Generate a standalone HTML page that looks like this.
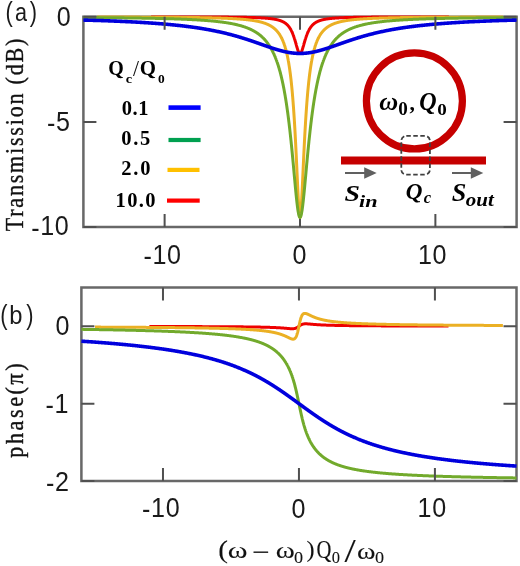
<!DOCTYPE html>
<html><head><meta charset="utf-8"><style>
html,body{margin:0;padding:0;background:#fff;width:520px;height:566px;overflow:hidden}
svg{display:block}
</style></head><body>
<svg width="520" height="566" viewBox="0 0 520 566">
<rect width="520" height="566" fill="#fff"/>
<path d="M83.4,16.8 V227.0 H516.6 V16.8 Z" fill="none" stroke="#686868" stroke-width="2.5"/>
<path d="M81.4,287.6 V481.0 H516.5 V287.6 Z" fill="none" stroke="#686868" stroke-width="2.5"/>
<path d="M300.00,227.0 v-13" fill="none" stroke="#505050" stroke-width="2.0"/>
<g fill="none" stroke-width="3" stroke-linejoin="round">
<polyline stroke="#EE0000" stroke-width="3.0" points="151.09,16.88 151.46,16.88 151.83,16.88 152.20,16.88 152.58,16.88 152.95,16.88 153.32,16.88 153.69,16.88 154.07,16.88 154.44,16.88 154.81,16.88 155.18,16.88 155.55,16.88 155.93,16.88 156.30,16.88 156.67,16.88 157.04,16.88 157.42,16.88 157.79,16.88 158.16,16.88 158.53,16.88 158.91,16.88 159.28,16.88 159.65,16.88 160.02,16.89 160.39,16.89 160.77,16.89 161.14,16.89 161.51,16.89 161.88,16.89 162.26,16.89 162.63,16.89 163.00,16.89 163.37,16.89 163.75,16.89 164.12,16.89 164.49,16.89 164.86,16.89 165.23,16.89 165.61,16.89 165.98,16.89 166.35,16.89 166.72,16.89 167.10,16.89 167.47,16.89 167.84,16.90 168.21,16.90 168.58,16.90 168.96,16.90 169.33,16.90 169.70,16.90 170.07,16.90 170.45,16.90 170.82,16.90 171.19,16.90 171.56,16.90 171.94,16.90 172.31,16.90 172.68,16.90 173.05,16.90 173.42,16.90 173.80,16.90 174.17,16.91 174.54,16.91 174.91,16.91 175.29,16.91 175.66,16.91 176.03,16.91 176.40,16.91 176.77,16.91 177.15,16.91 177.52,16.91 177.89,16.91 178.26,16.91 178.64,16.91 179.01,16.91 179.38,16.91 179.75,16.92 180.13,16.92 180.50,16.92 180.87,16.92 181.24,16.92 181.61,16.92 181.99,16.92 182.36,16.92 182.73,16.92 183.10,16.92 183.48,16.92 183.85,16.92 184.22,16.92 184.59,16.93 184.97,16.93 185.34,16.93 185.71,16.93 186.08,16.93 186.45,16.93 186.83,16.93 187.20,16.93 187.57,16.93 187.94,16.93 188.32,16.93 188.69,16.93 189.06,16.94 189.43,16.94 189.80,16.94 190.18,16.94 190.55,16.94 190.92,16.94 191.29,16.94 191.67,16.94 192.04,16.94 192.41,16.94 192.78,16.94 193.16,16.95 193.53,16.95 193.90,16.95 194.27,16.95 194.64,16.95 195.02,16.95 195.39,16.95 195.76,16.95 196.13,16.95 196.51,16.96 196.88,16.96 197.25,16.96 197.62,16.96 197.99,16.96 198.37,16.96 198.74,16.96 199.11,16.96 199.48,16.96 199.86,16.97 200.23,16.97 200.60,16.97 200.97,16.97 201.35,16.97 201.72,16.97 202.09,16.97 202.46,16.98 202.83,16.98 203.21,16.98 203.58,16.98 203.95,16.98 204.32,16.98 204.70,16.98 205.07,16.98 205.44,16.99 205.81,16.99 206.19,16.99 206.56,16.99 206.93,16.99 207.30,16.99 207.67,17.00 208.05,17.00 208.42,17.00 208.79,17.00 209.16,17.00 209.54,17.00 209.91,17.00 210.28,17.01 210.65,17.01 211.02,17.01 211.40,17.01 211.77,17.01 212.14,17.02 212.51,17.02 212.89,17.02 213.26,17.02 213.63,17.02 214.00,17.02 214.38,17.03 214.75,17.03 215.12,17.03 215.49,17.03 215.86,17.03 216.24,17.04 216.61,17.04 216.98,17.04 217.35,17.04 217.73,17.05 218.10,17.05 218.47,17.05 218.84,17.05 219.21,17.05 219.59,17.06 219.96,17.06 220.33,17.06 220.70,17.06 221.08,17.07 221.45,17.07 221.82,17.07 222.19,17.07 222.57,17.08 222.94,17.08 223.31,17.08 223.68,17.08 224.05,17.09 224.43,17.09 224.80,17.09 225.17,17.10 225.54,17.10 225.92,17.10 226.29,17.11 226.66,17.11 227.03,17.11 227.41,17.11 227.78,17.12 228.15,17.12 228.52,17.12 228.89,17.13 229.27,17.13 229.64,17.13 230.01,17.14 230.38,17.14 230.76,17.15 231.13,17.15 231.50,17.15 231.87,17.16 232.24,17.16 232.62,17.16 232.99,17.17 233.36,17.17 233.73,17.18 234.11,17.18 234.48,17.19 234.85,17.19 235.22,17.19 235.60,17.20 235.97,17.20 236.34,17.21 236.71,17.21 237.08,17.22 237.46,17.22 237.83,17.23 238.20,17.23 238.57,17.24 238.95,17.24 239.32,17.25 239.69,17.25 240.06,17.26 240.44,17.27 240.81,17.27 241.18,17.28 241.55,17.28 241.92,17.29 242.30,17.30 242.67,17.30 243.04,17.31 243.41,17.32 243.79,17.32 244.16,17.33 244.53,17.34 244.90,17.34 245.27,17.35 245.65,17.36 245.85,17.36 245.99,17.36 246.02,17.37 246.12,17.37 246.26,17.37 246.39,17.37 246.53,17.38 246.66,17.38 246.76,17.38 246.80,17.38 246.93,17.38 247.07,17.39 247.14,17.39 247.20,17.39 247.34,17.39 247.47,17.40 247.51,17.40 247.61,17.40 247.75,17.40 247.88,17.41 247.88,17.41 248.02,17.41 248.15,17.41 248.25,17.41 248.29,17.41 248.42,17.42 248.56,17.42 248.63,17.42 248.69,17.42 248.83,17.43 248.96,17.43 249.00,17.43 249.10,17.43 249.23,17.44 249.37,17.44 249.51,17.44 249.64,17.45 249.74,17.45 249.78,17.45 249.91,17.45 250.05,17.46 250.11,17.46 250.18,17.46 250.32,17.47 250.45,17.47 250.49,17.47 250.59,17.47 250.72,17.48 250.86,17.48 250.99,17.48 251.13,17.49 251.23,17.49 251.27,17.49 251.40,17.49 251.54,17.50 251.60,17.50 251.67,17.50 251.81,17.51 251.94,17.51 251.98,17.51 252.08,17.51 252.21,17.52 252.35,17.52 252.35,17.52 252.48,17.53 252.62,17.53 252.72,17.53 252.75,17.53 252.89,17.54 253.02,17.54 253.09,17.54 253.16,17.55 253.30,17.55 253.43,17.56 253.46,17.56 253.57,17.56 253.70,17.56 253.84,17.57 253.97,17.57 254.11,17.58 254.21,17.58 254.24,17.58 254.38,17.59 254.51,17.59 254.58,17.59 254.65,17.60 254.78,17.60 254.92,17.60 254.95,17.61 255.06,17.61 255.19,17.61 255.33,17.62 255.46,17.62 255.60,17.63 255.70,17.63 255.73,17.63 255.87,17.64 256.00,17.64 256.07,17.65 256.14,17.65 256.27,17.65 256.41,17.66 256.44,17.66 256.54,17.66 256.68,17.67 256.82,17.68 256.82,17.68 256.95,17.68 257.09,17.69 257.19,17.69 257.22,17.69 257.36,17.70 257.49,17.70 257.56,17.71 257.63,17.71 257.76,17.71 257.90,17.72 257.93,17.72 258.03,17.73 258.17,17.73 258.30,17.74 258.44,17.74 258.58,17.75 258.68,17.75 258.71,17.76 258.85,17.76 258.98,17.77 259.05,17.77 259.12,17.77 259.25,17.78 259.39,17.79 259.42,17.79 259.52,17.79 259.66,17.80 259.79,17.81 259.79,17.81 259.93,17.81 260.06,17.82 260.17,17.82 260.20,17.83 260.34,17.83 260.47,17.84 260.54,17.84 260.61,17.85 260.74,17.85 260.88,17.86 260.91,17.86 261.01,17.87 261.15,17.88 261.28,17.88 261.28,17.88 261.42,17.89 261.55,17.90 261.66,17.90 261.69,17.91 261.82,17.91 261.96,17.92 262.03,17.92 262.10,17.93 262.23,17.94 262.37,17.94 262.40,17.95 262.50,17.95 262.64,17.96 262.77,17.97 262.91,17.98 263.04,17.98 263.14,17.99 263.18,17.99 263.31,18.00 263.45,18.01 263.52,18.01 263.58,18.02 263.72,18.03 263.85,18.04 263.89,18.04 263.99,18.05 264.13,18.05 264.26,18.06 264.26,18.06 264.40,18.07 264.53,18.08 264.63,18.09 264.67,18.09 264.80,18.10 264.94,18.11 265.01,18.12 265.07,18.12 265.21,18.13 265.34,18.14 265.38,18.14 265.48,18.15 265.61,18.16 265.75,18.17 265.75,18.17 265.89,18.18 266.02,18.19 266.12,18.20 266.16,18.20 266.29,18.21 266.43,18.23 266.49,18.23 266.56,18.24 266.70,18.25 266.83,18.26 266.87,18.26 266.97,18.27 267.10,18.28 267.24,18.29 267.37,18.31 267.51,18.32 267.61,18.33 267.65,18.33 267.78,18.34 267.92,18.36 267.98,18.36 268.05,18.37 268.19,18.38 268.32,18.39 268.36,18.40 268.46,18.41 268.59,18.42 268.73,18.43 268.73,18.43 268.86,18.45 269.00,18.46 269.10,18.47 269.13,18.47 269.27,18.49 269.41,18.50 269.47,18.51 269.54,18.52 269.68,18.53 269.81,18.55 269.85,18.55 269.95,18.56 270.08,18.58 270.22,18.59 270.22,18.59 270.35,18.61 270.49,18.62 270.59,18.64 270.62,18.64 270.76,18.66 270.89,18.67 270.96,18.68 271.03,18.69 271.17,18.71 271.30,18.72 271.33,18.73 271.44,18.74 271.57,18.76 271.71,18.78 271.84,18.79 271.98,18.81 272.08,18.83 272.11,18.83 272.25,18.85 272.38,18.87 272.45,18.88 272.52,18.89 272.65,18.91 272.79,18.93 272.82,18.93 272.93,18.95 273.06,18.97 273.20,18.99 273.20,18.99 273.33,19.01 273.47,19.03 273.57,19.05 273.60,19.05 273.74,19.07 273.87,19.10 273.94,19.11 274.01,19.12 274.14,19.14 274.28,19.16 274.31,19.17 274.41,19.19 274.55,19.21 274.68,19.23 274.68,19.23 274.82,19.26 274.96,19.28 275.06,19.30 275.09,19.31 275.23,19.33 275.36,19.36 275.43,19.37 275.50,19.39 275.63,19.41 275.77,19.44 275.80,19.45 275.90,19.47 276.04,19.50 276.17,19.53 276.31,19.55 276.44,19.58 276.55,19.61 276.58,19.61 276.72,19.64 276.85,19.67 276.92,19.69 276.99,19.71 277.12,19.74 277.26,19.77 277.29,19.78 277.39,19.80 277.53,19.84 277.66,19.87 277.66,19.87 277.80,19.90 277.93,19.94 278.04,19.96 278.07,19.97 278.20,20.01 278.34,20.05 278.41,20.06 278.48,20.08 278.61,20.12 278.75,20.16 278.78,20.17 278.88,20.20 279.02,20.24 279.15,20.28 279.15,20.28 279.29,20.32 279.42,20.36 279.52,20.39 279.56,20.41 279.69,20.45 279.83,20.49 279.90,20.51 279.96,20.54 280.10,20.58 280.24,20.63 280.27,20.64 280.37,20.68 280.51,20.73 280.64,20.77 280.64,20.77 280.78,20.82 280.91,20.87 281.01,20.91 281.05,20.93 281.18,20.98 281.32,21.03 281.39,21.06 281.45,21.09 281.59,21.14 281.72,21.20 281.76,21.21 281.86,21.26 282.00,21.32 282.13,21.38 282.13,21.38 282.27,21.44 282.40,21.50 282.50,21.55 282.54,21.56 282.67,21.63 282.81,21.69 282.88,21.73 282.94,21.76 283.08,21.83 283.21,21.90 283.25,21.92 283.35,21.97 283.48,22.05 283.62,22.12 283.62,22.12 283.75,22.20 283.89,22.27 283.99,22.33 284.03,22.35 284.16,22.43 284.30,22.51 284.36,22.56 284.43,22.60 284.57,22.68 284.70,22.77 284.74,22.79 284.84,22.86 284.97,22.95 285.11,23.04 285.11,23.04 285.24,23.14 285.38,23.24 285.48,23.31 285.51,23.34 285.65,23.44 285.79,23.54 285.85,23.59 285.92,23.65 286.06,23.75 286.19,23.86 286.23,23.89 286.33,23.98 286.46,24.09 286.60,24.21 286.60,24.21 286.73,24.33 286.87,24.45 286.97,24.55 287.00,24.58 287.14,24.71 287.27,24.84 287.34,24.91 287.41,24.98 287.55,25.11 287.68,25.25 287.71,25.29 287.82,25.40 287.95,25.55 288.09,25.70 288.09,25.70 288.22,25.85 288.36,26.01 288.46,26.13 288.49,26.17 288.63,26.34 288.76,26.51 288.83,26.59 288.90,26.68 289.03,26.86 289.17,27.04 289.20,27.09 289.31,27.23 289.44,27.42 289.58,27.61 289.58,27.61 289.71,27.81 289.85,28.02 289.95,28.17 289.98,28.22 290.12,28.44 290.25,28.66 290.32,28.77 290.39,28.88 290.52,29.11 290.66,29.35 290.69,29.41 290.79,29.59 290.93,29.84 291.07,30.09 291.20,30.35 291.34,30.61 291.44,30.82 291.47,30.89 291.61,31.16 291.74,31.45 291.81,31.59 291.88,31.74 292.01,32.03 292.15,32.34 292.18,32.42 292.28,32.65 292.42,32.97 292.55,33.29 292.55,33.29 292.69,33.63 292.83,33.96 292.93,34.22 292.96,34.31 293.10,34.67 293.23,35.03 293.30,35.21 293.37,35.40 293.50,35.77 293.64,36.16 293.67,36.25 293.77,36.55 293.91,36.94 294.04,37.35 294.04,37.35 294.18,37.76 294.31,38.18 294.42,38.50 294.45,38.61 294.59,39.04 294.72,39.48 294.79,39.70 294.86,39.92 294.99,40.37 295.13,40.83 295.16,40.94 295.26,41.29 295.40,41.75 295.53,42.22 295.67,42.69 295.80,43.17 295.90,43.53 295.94,43.65 296.07,44.12 296.21,44.60 296.28,44.84 296.34,45.08 296.48,45.55 296.62,46.03 296.65,46.15 296.75,46.50 296.89,46.96 297.02,47.42 297.02,47.42 297.16,47.88 297.29,48.32 297.39,48.65 297.43,48.75 297.56,49.18 297.70,49.59 297.77,49.79 297.83,49.99 297.97,50.37 298.10,50.74 298.14,50.82 298.24,51.08 298.38,51.41 298.51,51.72 298.51,51.72 298.65,52.01 298.78,52.27 298.88,52.45 298.92,52.51 299.05,52.72 299.19,52.91 299.26,52.99 299.32,53.07 299.46,53.20 299.59,53.30 299.63,53.33 299.73,53.38 299.86,53.42 300.00,53.44 300.14,53.42 300.27,53.38 300.37,53.33 300.41,53.30 300.54,53.20 300.68,53.07 300.74,52.99 300.81,52.91 300.95,52.72 301.08,52.51 301.12,52.45 301.22,52.27 301.35,52.01 301.49,51.72 301.49,51.72 301.62,51.41 301.76,51.08 301.86,50.82 301.90,50.74 302.03,50.37 302.17,49.99 302.23,49.79 302.30,49.59 302.44,49.18 302.57,48.75 302.61,48.65 302.71,48.32 302.84,47.88 302.98,47.42 302.98,47.42 303.11,46.96 303.25,46.50 303.35,46.15 303.38,46.03 303.52,45.55 303.66,45.08 303.72,44.84 303.79,44.60 303.93,44.12 304.06,43.65 304.10,43.53 304.20,43.17 304.33,42.69 304.47,42.22 304.60,41.75 304.74,41.29 304.84,40.94 304.87,40.83 305.01,40.37 305.14,39.92 305.21,39.70 305.28,39.48 305.42,39.04 305.55,38.61 305.58,38.50 305.69,38.18 305.82,37.76 305.96,37.35 305.96,37.35 306.09,36.94 306.23,36.55 306.33,36.25 306.36,36.16 306.50,35.77 306.63,35.40 306.70,35.21 306.77,35.03 306.90,34.67 307.04,34.31 307.07,34.22 307.17,33.96 307.31,33.63 307.45,33.29 307.45,33.29 307.58,32.97 307.72,32.65 307.82,32.42 307.85,32.34 307.99,32.03 308.12,31.74 308.19,31.59 308.26,31.45 308.39,31.16 308.53,30.89 308.56,30.82 308.66,30.61 308.80,30.35 308.93,30.09 309.07,29.84 309.21,29.59 309.31,29.41 309.34,29.35 309.48,29.11 309.61,28.88 309.68,28.77 309.75,28.66 309.88,28.44 310.02,28.22 310.05,28.17 310.15,28.02 310.29,27.81 310.42,27.61 310.42,27.61 310.56,27.42 310.69,27.23 310.80,27.09 310.83,27.04 310.97,26.86 311.10,26.68 311.17,26.59 311.24,26.51 311.37,26.34 311.51,26.17 311.54,26.13 311.64,26.01 311.78,25.85 311.91,25.70 311.91,25.70 312.05,25.55 312.18,25.40 312.29,25.29 312.32,25.25 312.45,25.11 312.59,24.98 312.66,24.91 312.73,24.84 312.86,24.71 313.00,24.58 313.03,24.55 313.13,24.45 313.27,24.33 313.40,24.21 313.54,24.09 313.67,23.98 313.77,23.89 313.81,23.86 313.94,23.75 314.08,23.65 314.15,23.59 314.21,23.54 314.35,23.44 314.49,23.34 314.52,23.31 314.62,23.24 314.76,23.14 314.89,23.04 314.89,23.04 315.03,22.95 315.16,22.86 315.26,22.79 315.30,22.77 315.43,22.68 315.57,22.60 315.64,22.56 315.70,22.51 315.84,22.43 315.97,22.35 316.01,22.33 316.11,22.27 316.25,22.20 316.38,22.12 316.38,22.12 316.52,22.05 316.65,21.97 316.75,21.92 316.79,21.90 316.92,21.83 317.06,21.76 317.12,21.73 317.19,21.69 317.33,21.63 317.46,21.56 317.50,21.55 317.60,21.50 317.73,21.44 317.87,21.38 318.00,21.32 318.14,21.26 318.24,21.21 318.28,21.20 318.41,21.14 318.55,21.09 318.61,21.06 318.68,21.03 318.82,20.98 318.95,20.93 318.99,20.91 319.09,20.87 319.22,20.82 319.36,20.77 319.49,20.73 319.63,20.68 319.73,20.64 319.76,20.63 319.90,20.58 320.04,20.54 320.10,20.51 320.17,20.49 320.31,20.45 320.44,20.41 320.48,20.39 320.58,20.36 320.71,20.32 320.85,20.28 320.85,20.28 320.98,20.24 321.12,20.20 321.22,20.17 321.25,20.16 321.39,20.12 321.52,20.08 321.59,20.06 321.66,20.05 321.80,20.01 321.93,19.97 321.96,19.96 322.07,19.94 322.20,19.90 322.34,19.87 322.47,19.84 322.61,19.80 322.71,19.78 322.74,19.77 322.88,19.74 323.01,19.71 323.08,19.69 323.15,19.67 323.28,19.64 323.42,19.61 323.45,19.61 323.56,19.58 323.69,19.55 323.83,19.53 323.96,19.50 324.10,19.47 324.20,19.45 324.23,19.44 324.37,19.41 324.50,19.39 324.57,19.37 324.64,19.36 324.77,19.33 324.91,19.31 324.94,19.30 325.04,19.28 325.18,19.26 325.32,19.23 325.32,19.23 325.45,19.21 325.59,19.19 325.69,19.17 325.72,19.16 325.86,19.14 325.99,19.12 326.06,19.11 326.13,19.10 326.26,19.07 326.40,19.05 326.43,19.05 326.53,19.03 326.67,19.01 326.80,18.99 326.94,18.97 327.08,18.95 327.18,18.93 327.21,18.93 327.35,18.91 327.48,18.89 327.55,18.88 327.62,18.87 327.75,18.85 327.89,18.83 327.92,18.83 328.02,18.81 328.16,18.79 328.29,18.78 328.43,18.76 328.56,18.74 328.67,18.73 328.70,18.72 328.83,18.71 328.97,18.69 329.04,18.68 329.11,18.67 329.24,18.66 329.38,18.64 329.41,18.64 329.51,18.62 329.65,18.61 329.78,18.59 329.78,18.59 329.92,18.58 330.05,18.56 330.15,18.55 330.19,18.55 330.32,18.53 330.46,18.52 330.53,18.51 330.59,18.50 330.73,18.49 330.87,18.47 330.90,18.47 331.00,18.46 331.14,18.45 331.27,18.43 331.41,18.42 331.54,18.41 331.64,18.40 331.68,18.39 331.81,18.38 331.95,18.37 332.02,18.36 332.08,18.36 332.22,18.34 332.35,18.33 332.39,18.33 332.49,18.32 332.63,18.31 332.76,18.29 332.90,18.28 333.03,18.27 333.13,18.26 333.17,18.26 333.30,18.25 333.44,18.24 333.51,18.23 333.57,18.23 333.71,18.21 333.84,18.20 333.88,18.20 333.98,18.19 334.11,18.18 334.25,18.17 334.25,18.17 334.39,18.16 334.52,18.15 334.62,18.14 334.66,18.14 334.79,18.13 334.93,18.12 334.99,18.12 335.06,18.11 335.20,18.10 335.33,18.09 335.37,18.09 335.47,18.08 335.60,18.07 335.74,18.06 335.87,18.05 336.01,18.05 336.11,18.04 336.15,18.04 336.28,18.03 336.42,18.02 336.48,18.01 336.55,18.01 336.69,18.00 336.82,17.99 336.86,17.99 336.96,17.98 337.09,17.98 337.23,17.97 337.36,17.96 337.50,17.95 337.60,17.95 337.63,17.94 337.77,17.94 337.91,17.93 337.97,17.92 338.04,17.92 338.18,17.91 338.31,17.91 338.34,17.90 338.45,17.90 338.58,17.89 338.72,17.88 338.72,17.88 338.85,17.88 338.99,17.87 339.09,17.86 339.12,17.86 339.26,17.85 339.39,17.85 339.46,17.84 339.53,17.84 339.66,17.83 339.80,17.83 339.83,17.82 339.94,17.82 340.07,17.81 340.21,17.81 340.21,17.81 340.34,17.80 340.48,17.79 340.58,17.79 340.61,17.79 340.75,17.78 340.88,17.77 340.95,17.77 341.02,17.77 341.15,17.76 341.29,17.76 341.32,17.75 341.42,17.75 341.56,17.74 341.70,17.74 341.83,17.73 341.97,17.73 342.07,17.72 342.10,17.72 342.24,17.71 342.37,17.71 342.44,17.71 342.51,17.70 342.64,17.70 342.78,17.69 342.81,17.69 342.91,17.69 343.05,17.68 343.18,17.68 343.18,17.68 343.32,17.67 343.46,17.66 343.56,17.66 343.59,17.66 343.73,17.65 343.86,17.65 343.93,17.65 344.00,17.64 344.13,17.64 344.27,17.63 344.30,17.63 344.40,17.63 344.54,17.62 344.67,17.62 344.67,17.62 344.81,17.61 344.94,17.61 345.05,17.61 345.08,17.60 345.22,17.60 345.35,17.60 345.42,17.59 345.49,17.59 345.62,17.59 345.76,17.58 345.79,17.58 345.89,17.58 346.03,17.57 346.16,17.57 346.30,17.56 346.43,17.56 346.54,17.56 346.57,17.56 346.70,17.55 346.84,17.55 346.91,17.54 346.98,17.54 347.11,17.54 347.25,17.53 347.28,17.53 347.38,17.53 347.52,17.53 347.65,17.52 347.65,17.52 347.79,17.52 347.92,17.51 348.02,17.51 348.06,17.51 348.19,17.51 348.33,17.50 348.40,17.50 348.46,17.50 348.60,17.49 348.74,17.49 348.77,17.49 348.87,17.49 349.01,17.48 349.14,17.48 349.14,17.48 349.28,17.48 349.41,17.47 349.51,17.47 349.55,17.47 349.68,17.47 349.82,17.46 349.89,17.46 349.95,17.46 350.09,17.45 350.22,17.45 350.26,17.45 350.36,17.45 350.49,17.44 350.63,17.44 350.77,17.44 350.90,17.43 351.00,17.43 351.04,17.43 351.17,17.43 351.31,17.42 351.37,17.42 351.44,17.42 351.58,17.42 351.71,17.41 351.75,17.41 351.85,17.41 351.98,17.41 352.12,17.41 352.12,17.41 352.25,17.40 352.39,17.40 352.49,17.40 352.53,17.40 352.66,17.39 352.80,17.39 352.86,17.39 352.93,17.39 353.07,17.38 353.20,17.38 353.24,17.38 353.34,17.38 353.47,17.38 353.61,17.37 353.61,17.37 353.74,17.37 353.88,17.37 353.98,17.37 354.01,17.36 354.15,17.36 354.35,17.36 354.73,17.35 355.10,17.34 355.47,17.34 355.84,17.33 356.21,17.32 356.59,17.32 356.96,17.31 357.33,17.30 357.70,17.30 358.08,17.29 358.45,17.28 358.82,17.28 359.19,17.27 359.57,17.27 359.94,17.26 360.31,17.25 360.68,17.25 361.05,17.24 361.43,17.24 361.80,17.23 362.17,17.23 362.54,17.22 362.92,17.22 363.29,17.21 363.66,17.21 364.03,17.20 364.40,17.20 364.78,17.19 365.15,17.19 365.52,17.19 365.89,17.18 366.27,17.18 366.64,17.17 367.01,17.17 367.38,17.16 367.76,17.16 368.13,17.16 368.50,17.15 368.87,17.15 369.24,17.15 369.62,17.14 369.99,17.14 370.36,17.13 370.73,17.13 371.11,17.13 371.48,17.12 371.85,17.12 372.22,17.12 372.59,17.11 372.97,17.11 373.34,17.11 373.71,17.11 374.08,17.10 374.46,17.10 374.83,17.10 375.20,17.09 375.57,17.09 375.95,17.09 376.32,17.08 376.69,17.08 377.06,17.08 377.43,17.08 377.81,17.07 378.18,17.07 378.55,17.07 378.92,17.07 379.30,17.06 379.67,17.06 380.04,17.06 380.41,17.06 380.79,17.05 381.16,17.05 381.53,17.05 381.90,17.05 382.27,17.05 382.65,17.04 383.02,17.04 383.39,17.04 383.76,17.04 384.14,17.03 384.51,17.03 384.88,17.03 385.25,17.03 385.62,17.03 386.00,17.02 386.37,17.02 386.74,17.02 387.11,17.02 387.49,17.02 387.86,17.02 388.23,17.01 388.60,17.01 388.98,17.01 389.35,17.01 389.72,17.01 390.09,17.00 390.46,17.00 390.84,17.00 391.21,17.00 391.58,17.00 391.95,17.00 392.33,17.00 392.70,16.99 393.07,16.99 393.44,16.99 393.81,16.99 394.19,16.99 394.56,16.99 394.93,16.98 395.30,16.98 395.68,16.98 396.05,16.98 396.42,16.98 396.79,16.98 397.17,16.98 397.54,16.98 397.91,16.97 398.28,16.97 398.65,16.97 399.03,16.97 399.40,16.97 399.77,16.97 400.14,16.97 400.52,16.96 400.89,16.96 401.26,16.96 401.63,16.96 402.01,16.96 402.38,16.96 402.75,16.96 403.12,16.96 403.49,16.96 403.87,16.95 404.24,16.95 404.61,16.95 404.98,16.95 405.36,16.95 405.73,16.95 406.10,16.95 406.47,16.95 406.84,16.95 407.22,16.94 407.59,16.94 407.96,16.94 408.33,16.94 408.71,16.94 409.08,16.94 409.45,16.94 409.82,16.94 410.20,16.94 410.57,16.94 410.94,16.94 411.31,16.93 411.68,16.93 412.06,16.93 412.43,16.93 412.80,16.93 413.17,16.93 413.55,16.93 413.92,16.93 414.29,16.93 414.66,16.93 415.03,16.93 415.41,16.93 415.78,16.92 416.15,16.92 416.52,16.92 416.90,16.92 417.27,16.92 417.64,16.92 418.01,16.92 418.39,16.92 418.76,16.92 419.13,16.92 419.50,16.92 419.87,16.92 420.25,16.92 420.62,16.91 420.99,16.91 421.36,16.91 421.74,16.91 422.11,16.91 422.48,16.91 422.85,16.91 423.23,16.91 423.60,16.91 423.97,16.91 424.34,16.91 424.71,16.91 425.09,16.91 425.46,16.91 425.83,16.91 426.20,16.90 426.58,16.90 426.95,16.90 427.32,16.90 427.69,16.90 428.06,16.90 428.44,16.90 428.81,16.90 429.18,16.90 429.55,16.90 429.93,16.90 430.30,16.90 430.67,16.90 431.04,16.90 431.42,16.90 431.79,16.90 432.16,16.90 432.53,16.89 432.90,16.89 433.28,16.89 433.65,16.89 434.02,16.89 434.39,16.89 434.77,16.89 435.14,16.89 435.51,16.89 435.88,16.89 436.25,16.89 436.63,16.89 437.00,16.89 437.37,16.89 437.74,16.89 438.12,16.89 438.49,16.89 438.86,16.89 439.23,16.89 439.61,16.89 439.98,16.89 440.35,16.88 440.72,16.88 441.09,16.88 441.47,16.88 441.84,16.88 442.21,16.88 442.58,16.88 442.96,16.88 443.33,16.88 443.70,16.88 444.07,16.88 444.45,16.88 444.82,16.88 445.19,16.88 445.56,16.88 445.93,16.88 446.31,16.88 446.68,16.88 447.05,16.88 447.42,16.88 447.80,16.88 448.17,16.88 448.54,16.88 448.91,16.88"/>
<polyline stroke="#EBB024" stroke-width="3.0" points="96.94,17.00 97.45,17.00 97.95,17.00 98.46,17.01 98.97,17.01 99.48,17.01 99.98,17.01 100.49,17.01 101.00,17.01 101.51,17.01 102.01,17.01 102.52,17.01 103.03,17.02 103.54,17.02 104.04,17.02 104.55,17.02 105.06,17.02 105.57,17.02 106.08,17.02 106.58,17.02 107.09,17.02 107.60,17.03 108.11,17.03 108.61,17.03 109.12,17.03 109.63,17.03 110.14,17.03 110.64,17.03 111.15,17.03 111.66,17.04 112.17,17.04 112.67,17.04 113.18,17.04 113.69,17.04 114.20,17.04 114.71,17.04 115.21,17.04 115.72,17.05 116.23,17.05 116.74,17.05 117.24,17.05 117.75,17.05 118.26,17.05 118.77,17.05 119.27,17.06 119.78,17.06 120.29,17.06 120.80,17.06 121.31,17.06 121.81,17.06 122.32,17.06 122.83,17.07 123.34,17.07 123.84,17.07 124.35,17.07 124.86,17.07 125.37,17.07 125.87,17.08 126.38,17.08 126.89,17.08 127.40,17.08 127.90,17.08 128.41,17.08 128.92,17.09 129.43,17.09 129.94,17.09 130.44,17.09 130.95,17.09 131.46,17.09 131.97,17.10 132.47,17.10 132.98,17.10 133.49,17.10 134.00,17.10 134.50,17.10 135.01,17.11 135.52,17.11 136.03,17.11 136.53,17.11 137.04,17.11 137.55,17.12 138.06,17.12 138.57,17.12 139.07,17.12 139.58,17.12 140.09,17.13 140.60,17.13 141.10,17.13 141.61,17.13 142.12,17.13 142.63,17.14 143.13,17.14 143.64,17.14 144.15,17.14 144.66,17.15 145.16,17.15 145.67,17.15 146.18,17.15 146.69,17.16 147.20,17.16 147.70,17.16 148.21,17.16 148.72,17.16 149.23,17.17 149.73,17.17 150.24,17.17 150.75,17.17 151.26,17.18 151.76,17.18 152.27,17.18 152.78,17.18 153.29,17.19 153.80,17.19 154.30,17.19 154.81,17.20 155.32,17.20 155.83,17.20 156.33,17.20 156.84,17.21 157.35,17.21 157.86,17.21 158.36,17.22 158.87,17.22 159.38,17.22 159.89,17.22 160.39,17.23 160.90,17.23 161.41,17.23 161.92,17.24 162.43,17.24 162.93,17.24 163.44,17.25 163.95,17.25 164.46,17.25 164.96,17.26 165.47,17.26 165.98,17.26 166.49,17.27 166.99,17.27 167.50,17.27 168.01,17.28 168.52,17.28 169.02,17.29 169.53,17.29 170.04,17.29 170.55,17.30 171.06,17.30 171.56,17.31 172.07,17.31 172.58,17.31 173.09,17.32 173.59,17.32 174.10,17.33 174.61,17.33 175.12,17.33 175.62,17.34 176.13,17.34 176.64,17.35 177.15,17.35 177.65,17.36 178.16,17.36 178.67,17.37 179.18,17.37 179.69,17.38 180.19,17.38 180.70,17.39 181.21,17.39 181.72,17.40 182.22,17.40 182.73,17.41 183.24,17.41 183.75,17.42 184.25,17.42 184.76,17.43 185.27,17.43 185.78,17.44 186.29,17.44 186.79,17.45 187.30,17.46 187.81,17.46 188.32,17.47 188.82,17.47 189.33,17.48 189.84,17.49 190.35,17.49 190.85,17.50 191.36,17.51 191.87,17.51 192.38,17.52 192.88,17.53 193.39,17.53 193.90,17.54 194.41,17.55 194.92,17.55 195.42,17.56 195.93,17.57 196.44,17.58 196.95,17.58 197.45,17.59 197.96,17.60 198.47,17.61 198.98,17.62 199.48,17.62 199.99,17.63 200.50,17.64 201.01,17.65 201.51,17.66 202.02,17.67 202.53,17.68 203.04,17.68 203.55,17.69 204.05,17.70 204.56,17.71 205.07,17.72 205.58,17.73 206.08,17.74 206.59,17.75 207.10,17.76 207.61,17.77 208.11,17.78 208.62,17.79 209.13,17.81 209.64,17.82 210.14,17.83 210.65,17.84 211.16,17.85 211.67,17.86 212.18,17.88 212.68,17.89 213.19,17.90 213.70,17.91 214.21,17.93 214.71,17.94 215.22,17.95 215.73,17.97 216.24,17.98 216.74,18.00 217.25,18.01 217.76,18.03 218.27,18.04 218.78,18.06 219.28,18.07 219.79,18.09 220.30,18.11 220.81,18.12 221.31,18.14 221.82,18.16 222.33,18.17 222.84,18.19 223.34,18.21 223.85,18.23 224.36,18.25 224.87,18.27 225.37,18.29 225.88,18.31 226.39,18.33 226.90,18.35 227.41,18.37 227.91,18.39 228.42,18.41 228.93,18.44 229.44,18.46 229.94,18.48 230.45,18.51 230.96,18.53 231.47,18.56 231.97,18.59 232.48,18.61 232.99,18.64 233.50,18.67 234.00,18.70 234.51,18.72 235.02,18.75 235.53,18.79 236.04,18.82 236.54,18.85 237.05,18.88 237.56,18.91 238.07,18.95 238.57,18.98 239.08,19.02 239.59,19.06 240.10,19.09 240.60,19.13 241.11,19.17 241.62,19.21 242.13,19.26 242.63,19.30 243.14,19.34 243.65,19.39 244.16,19.43 244.67,19.48 245.17,19.53 245.68,19.58 245.85,19.60 245.99,19.61 246.12,19.63 246.19,19.63 246.26,19.64 246.39,19.65 246.53,19.67 246.66,19.68 246.70,19.69 246.80,19.70 246.93,19.71 247.07,19.73 247.20,19.74 247.20,19.74 247.34,19.76 247.47,19.77 247.61,19.79 247.71,19.80 247.75,19.80 247.88,19.82 248.02,19.83 248.15,19.85 248.22,19.85 248.29,19.86 248.42,19.88 248.56,19.89 248.69,19.91 248.73,19.91 248.83,19.93 248.96,19.94 249.10,19.96 249.23,19.98 249.37,19.99 249.51,20.01 249.64,20.03 249.74,20.04 249.78,20.04 249.91,20.06 250.05,20.08 250.18,20.09 250.25,20.10 250.32,20.11 250.45,20.13 250.59,20.15 250.72,20.17 250.76,20.17 250.86,20.18 250.99,20.20 251.13,20.22 251.27,20.24 251.27,20.24 251.40,20.26 251.54,20.28 251.67,20.30 251.77,20.31 251.81,20.32 251.94,20.33 252.08,20.35 252.21,20.37 252.28,20.38 252.35,20.39 252.48,20.41 252.62,20.43 252.75,20.45 252.79,20.46 252.89,20.47 253.02,20.50 253.16,20.52 253.30,20.54 253.30,20.54 253.43,20.56 253.57,20.58 253.70,20.60 253.80,20.62 253.84,20.62 253.97,20.65 254.11,20.67 254.24,20.69 254.31,20.70 254.38,20.71 254.51,20.73 254.65,20.76 254.78,20.78 254.82,20.79 254.92,20.80 255.06,20.83 255.19,20.85 255.33,20.88 255.33,20.88 255.46,20.90 255.60,20.92 255.73,20.95 255.83,20.97 255.87,20.97 256.00,21.00 256.14,21.02 256.27,21.05 256.34,21.06 256.41,21.07 256.54,21.10 256.68,21.13 256.82,21.15 256.85,21.16 256.95,21.18 257.09,21.21 257.22,21.23 257.36,21.26 257.36,21.26 257.49,21.29 257.63,21.32 257.76,21.34 257.86,21.37 257.90,21.37 258.03,21.40 258.17,21.43 258.30,21.46 258.37,21.47 258.44,21.49 258.58,21.52 258.71,21.55 258.85,21.58 258.88,21.59 258.98,21.61 259.12,21.64 259.25,21.67 259.39,21.70 259.52,21.73 259.66,21.77 259.79,21.80 259.90,21.82 259.93,21.83 260.06,21.86 260.20,21.90 260.34,21.93 260.40,21.95 260.47,21.97 260.61,22.00 260.74,22.03 260.88,22.07 260.91,22.08 261.01,22.10 261.15,22.14 261.28,22.18 261.42,22.21 261.55,22.25 261.69,22.29 261.82,22.32 261.93,22.35 261.96,22.36 262.10,22.40 262.23,22.44 262.37,22.48 262.43,22.50 262.50,22.52 262.64,22.56 262.77,22.60 262.91,22.64 262.94,22.65 263.04,22.68 263.18,22.72 263.31,22.76 263.45,22.81 263.45,22.81 263.58,22.85 263.72,22.89 263.85,22.94 263.96,22.97 263.99,22.98 264.13,23.03 264.26,23.07 264.40,23.12 264.46,23.14 264.53,23.16 264.67,23.21 264.80,23.26 264.94,23.30 264.97,23.32 265.07,23.35 265.21,23.40 265.34,23.45 265.48,23.50 265.48,23.50 265.61,23.55 265.75,23.60 265.89,23.65 265.99,23.69 266.02,23.71 266.16,23.76 266.29,23.81 266.43,23.87 266.49,23.89 266.56,23.92 266.70,23.98 266.83,24.03 266.97,24.09 267.00,24.10 267.10,24.15 267.24,24.20 267.37,24.26 267.51,24.32 267.51,24.32 267.65,24.38 267.78,24.44 267.92,24.50 268.02,24.55 268.05,24.56 268.19,24.63 268.32,24.69 268.46,24.76 268.53,24.79 268.59,24.82 268.73,24.89 268.86,24.95 269.00,25.02 269.03,25.04 269.13,25.09 269.27,25.16 269.41,25.23 269.54,25.30 269.68,25.37 269.81,25.44 269.95,25.52 270.05,25.57 270.08,25.59 270.22,25.67 270.35,25.74 270.49,25.82 270.56,25.86 270.62,25.90 270.76,25.98 270.89,26.06 271.03,26.14 271.06,26.16 271.17,26.22 271.30,26.30 271.44,26.39 271.57,26.47 271.71,26.56 271.84,26.65 271.98,26.74 272.08,26.81 272.11,26.83 272.25,26.92 272.38,27.01 272.52,27.11 272.59,27.15 272.65,27.20 272.79,27.30 272.93,27.40 273.06,27.50 273.09,27.52 273.20,27.60 273.33,27.70 273.47,27.80 273.60,27.91 273.60,27.91 273.74,28.01 273.87,28.12 274.01,28.23 274.11,28.31 274.14,28.34 274.28,28.45 274.41,28.57 274.55,28.68 274.62,28.74 274.68,28.80 274.82,28.92 274.96,29.04 275.09,29.16 275.12,29.19 275.23,29.29 275.36,29.41 275.50,29.54 275.63,29.67 275.63,29.67 275.77,29.80 275.90,29.94 276.04,30.07 276.14,30.17 276.17,30.21 276.31,30.35 276.44,30.49 276.58,30.64 276.65,30.71 276.72,30.78 276.85,30.93 276.99,31.08 277.12,31.24 277.16,31.27 277.26,31.39 277.39,31.55 277.53,31.71 277.66,31.87 277.66,31.87 277.80,32.04 277.93,32.21 278.07,32.38 278.17,32.51 278.20,32.55 278.34,32.73 278.48,32.91 278.61,33.09 278.68,33.19 278.75,33.28 278.88,33.47 279.02,33.66 279.15,33.85 279.19,33.90 279.29,34.05 279.42,34.26 279.56,34.46 279.69,34.67 279.83,34.88 279.96,35.10 280.10,35.32 280.20,35.48 280.24,35.54 280.37,35.77 280.51,36.00 280.64,36.24 280.71,36.35 280.78,36.47 280.91,36.72 281.05,36.97 281.18,37.22 281.22,37.28 281.32,37.48 281.45,37.74 281.59,38.01 281.72,38.28 281.72,38.28 281.86,38.55 282.00,38.84 282.13,39.12 282.23,39.34 282.27,39.42 282.40,39.71 282.54,40.02 282.67,40.33 282.74,40.48 282.81,40.64 282.94,40.96 283.08,41.29 283.21,41.62 283.25,41.71 283.35,41.96 283.48,42.31 283.62,42.66 283.75,43.02 283.75,43.02 283.89,43.39 284.03,43.77 284.16,44.15 284.26,44.44 284.30,44.54 284.43,44.94 284.57,45.34 284.70,45.76 284.77,45.97 284.84,46.18 284.97,46.61 285.11,47.05 285.24,47.50 285.28,47.62 285.38,47.96 285.51,48.43 285.65,48.91 285.79,49.40 285.79,49.40 285.92,49.90 286.06,50.41 286.19,50.93 286.29,51.33 286.33,51.46 286.46,52.01 286.60,52.56 286.73,53.13 286.80,53.42 286.87,53.71 287.00,54.30 287.14,54.91 287.27,55.53 287.31,55.69 287.41,56.17 287.55,56.81 287.68,57.48 287.82,58.16 287.82,58.16 287.95,58.85 288.09,59.56 288.22,60.29 288.32,60.84 288.36,61.03 288.49,61.79 288.63,62.57 288.76,63.36 288.83,63.77 288.90,64.18 289.03,65.01 289.17,65.87 289.31,66.74 289.34,66.97 289.44,67.64 289.58,68.56 289.71,69.50 289.85,70.46 289.98,71.44 290.12,72.45 290.25,73.49 290.35,74.28 290.39,74.55 290.52,75.63 290.66,76.75 290.79,77.89 290.86,78.47 290.93,79.05 291.07,80.25 291.20,81.48 291.34,82.73 291.37,83.05 291.47,84.02 291.61,85.34 291.74,86.70 291.88,88.09 291.88,88.09 292.01,89.51 292.15,90.97 292.28,92.46 292.39,93.61 292.42,94.00 292.55,95.57 292.69,97.18 292.83,98.83 292.89,99.67 292.96,100.52 293.10,102.25 293.23,104.03 293.37,105.85 293.40,106.31 293.50,107.71 293.64,109.62 293.77,111.58 293.91,113.58 293.91,113.58 294.04,115.63 294.18,117.73 294.31,119.88 294.42,121.52 294.45,122.07 294.59,124.32 294.72,126.62 294.86,128.96 294.92,130.15 294.99,131.36 295.13,133.81 295.26,136.30 295.40,138.85 295.43,139.49 295.53,141.44 295.67,144.08 295.80,146.77 295.94,149.50 295.94,149.50 296.07,152.27 296.21,155.09 296.34,157.93 296.45,160.09 296.48,160.81 296.62,163.72 296.75,166.66 296.89,169.61 296.95,171.08 297.02,172.57 297.16,175.53 297.29,178.49 297.43,181.44 297.46,182.18 297.56,184.37 297.70,187.26 297.83,190.10 297.97,192.89 297.97,192.89 298.10,195.61 298.24,198.24 298.38,200.76 298.48,202.58 298.51,203.17 298.65,205.44 298.78,207.56 298.92,209.51 298.98,210.42 299.05,211.28 299.19,212.85 299.32,214.21 299.46,215.33 299.49,215.58 299.59,216.22 299.73,216.86 299.86,217.25 300.00,217.38 300.14,217.25 300.27,216.86 300.41,216.22 300.51,215.58 300.54,215.33 300.68,214.21 300.81,212.85 300.95,211.28 301.02,210.42 301.08,209.51 301.22,207.56 301.35,205.44 301.49,203.17 301.52,202.58 301.62,200.76 301.76,198.24 301.90,195.61 302.03,192.89 302.03,192.89 302.17,190.10 302.30,187.26 302.44,184.37 302.54,182.18 302.57,181.44 302.71,178.49 302.84,175.53 302.98,172.57 303.05,171.08 303.11,169.61 303.25,166.66 303.38,163.72 303.52,160.81 303.55,160.09 303.66,157.93 303.79,155.09 303.93,152.27 304.06,149.50 304.06,149.50 304.20,146.77 304.33,144.08 304.47,141.44 304.57,139.49 304.60,138.85 304.74,136.30 304.87,133.81 305.01,131.36 305.08,130.15 305.14,128.96 305.28,126.62 305.42,124.32 305.55,122.07 305.58,121.52 305.69,119.88 305.82,117.73 305.96,115.63 306.09,113.58 306.09,113.58 306.23,111.58 306.36,109.62 306.50,107.71 306.60,106.31 306.63,105.85 306.77,104.03 306.90,102.25 307.04,100.52 307.11,99.67 307.17,98.83 307.31,97.18 307.45,95.57 307.58,94.00 307.61,93.61 307.72,92.46 307.85,90.97 307.99,89.51 308.12,88.09 308.12,88.09 308.26,86.70 308.39,85.34 308.53,84.02 308.63,83.05 308.66,82.73 308.80,81.48 308.93,80.25 309.07,79.05 309.14,78.47 309.21,77.89 309.34,76.75 309.48,75.63 309.61,74.55 309.65,74.28 309.75,73.49 309.88,72.45 310.02,71.44 310.15,70.46 310.29,69.50 310.42,68.56 310.56,67.64 310.66,66.97 310.69,66.74 310.83,65.87 310.97,65.01 311.10,64.18 311.17,63.77 311.24,63.36 311.37,62.57 311.51,61.79 311.64,61.03 311.68,60.84 311.78,60.29 311.91,59.56 312.05,58.85 312.18,58.16 312.18,58.16 312.32,57.48 312.45,56.81 312.59,56.17 312.69,55.69 312.73,55.53 312.86,54.91 313.00,54.30 313.13,53.71 313.20,53.42 313.27,53.13 313.40,52.56 313.54,52.01 313.67,51.46 313.71,51.33 313.81,50.93 313.94,50.41 314.08,49.90 314.21,49.40 314.21,49.40 314.35,48.91 314.49,48.43 314.62,47.96 314.72,47.62 314.76,47.50 314.89,47.05 315.03,46.61 315.16,46.18 315.23,45.97 315.30,45.76 315.43,45.34 315.57,44.94 315.70,44.54 315.74,44.44 315.84,44.15 315.97,43.77 316.11,43.39 316.25,43.02 316.25,43.02 316.38,42.66 316.52,42.31 316.65,41.96 316.75,41.71 316.79,41.62 316.92,41.29 317.06,40.96 317.19,40.64 317.26,40.48 317.33,40.33 317.46,40.02 317.60,39.71 317.73,39.42 317.77,39.34 317.87,39.12 318.00,38.84 318.14,38.55 318.28,38.28 318.28,38.28 318.41,38.01 318.55,37.74 318.68,37.48 318.78,37.28 318.82,37.22 318.95,36.97 319.09,36.72 319.22,36.47 319.29,36.35 319.36,36.24 319.49,36.00 319.63,35.77 319.76,35.54 319.80,35.48 319.90,35.32 320.04,35.10 320.17,34.88 320.31,34.67 320.44,34.46 320.58,34.26 320.71,34.05 320.81,33.90 320.85,33.85 320.98,33.66 321.12,33.47 321.25,33.28 321.32,33.19 321.39,33.09 321.52,32.91 321.66,32.73 321.80,32.55 321.83,32.51 321.93,32.38 322.07,32.21 322.20,32.04 322.34,31.87 322.34,31.87 322.47,31.71 322.61,31.55 322.74,31.39 322.84,31.27 322.88,31.24 323.01,31.08 323.15,30.93 323.28,30.78 323.35,30.71 323.42,30.64 323.56,30.49 323.69,30.35 323.83,30.21 323.86,30.17 323.96,30.07 324.10,29.94 324.23,29.80 324.37,29.67 324.37,29.67 324.50,29.54 324.64,29.41 324.77,29.29 324.88,29.19 324.91,29.16 325.04,29.04 325.18,28.92 325.32,28.80 325.38,28.74 325.45,28.68 325.59,28.57 325.72,28.45 325.86,28.34 325.89,28.31 325.99,28.23 326.13,28.12 326.26,28.01 326.40,27.91 326.40,27.91 326.53,27.80 326.67,27.70 326.80,27.60 326.91,27.52 326.94,27.50 327.08,27.40 327.21,27.30 327.35,27.20 327.41,27.15 327.48,27.11 327.62,27.01 327.75,26.92 327.89,26.83 327.92,26.81 328.02,26.74 328.16,26.65 328.29,26.56 328.43,26.47 328.43,26.47 328.56,26.39 328.70,26.30 328.83,26.22 328.94,26.16 328.97,26.14 329.11,26.06 329.24,25.98 329.38,25.90 329.44,25.86 329.51,25.82 329.65,25.74 329.78,25.67 329.92,25.59 329.95,25.57 330.05,25.52 330.19,25.44 330.32,25.37 330.46,25.30 330.59,25.23 330.73,25.16 330.87,25.09 330.97,25.04 331.00,25.02 331.14,24.95 331.27,24.89 331.41,24.82 331.47,24.79 331.54,24.76 331.68,24.69 331.81,24.63 331.95,24.56 331.98,24.55 332.08,24.50 332.22,24.44 332.35,24.38 332.49,24.32 332.49,24.32 332.63,24.26 332.76,24.20 332.90,24.15 333.00,24.10 333.03,24.09 333.17,24.03 333.30,23.98 333.44,23.92 333.51,23.89 333.57,23.87 333.71,23.81 333.84,23.76 333.98,23.71 334.01,23.69 334.11,23.65 334.25,23.60 334.39,23.55 334.52,23.50 334.52,23.50 334.66,23.45 334.79,23.40 334.93,23.35 335.03,23.32 335.06,23.30 335.20,23.26 335.33,23.21 335.47,23.16 335.54,23.14 335.60,23.12 335.74,23.07 335.87,23.03 336.01,22.98 336.04,22.97 336.15,22.94 336.28,22.89 336.42,22.85 336.55,22.81 336.55,22.81 336.69,22.76 336.82,22.72 336.96,22.68 337.06,22.65 337.09,22.64 337.23,22.60 337.36,22.56 337.50,22.52 337.57,22.50 337.63,22.48 337.77,22.44 337.91,22.40 338.04,22.36 338.07,22.35 338.18,22.32 338.31,22.29 338.45,22.25 338.58,22.21 338.58,22.21 338.72,22.18 338.85,22.14 338.99,22.10 339.09,22.08 339.12,22.07 339.26,22.03 339.39,22.00 339.53,21.97 339.60,21.95 339.66,21.93 339.80,21.90 339.94,21.86 340.07,21.83 340.10,21.82 340.21,21.80 340.34,21.77 340.48,21.73 340.61,21.70 340.75,21.67 340.88,21.64 341.02,21.61 341.12,21.59 341.15,21.58 341.29,21.55 341.42,21.52 341.56,21.49 341.63,21.47 341.70,21.46 341.83,21.43 341.97,21.40 342.10,21.37 342.14,21.37 342.24,21.34 342.37,21.32 342.51,21.29 342.64,21.26 342.64,21.26 342.78,21.23 342.91,21.21 343.05,21.18 343.15,21.16 343.18,21.15 343.32,21.13 343.46,21.10 343.59,21.07 343.66,21.06 343.73,21.05 343.86,21.02 344.00,21.00 344.13,20.97 344.17,20.97 344.27,20.95 344.40,20.92 344.54,20.90 344.67,20.88 344.67,20.88 344.81,20.85 344.94,20.83 345.08,20.80 345.18,20.79 345.22,20.78 345.35,20.76 345.49,20.73 345.62,20.71 345.69,20.70 345.76,20.69 345.89,20.67 346.03,20.65 346.16,20.62 346.20,20.62 346.30,20.60 346.43,20.58 346.57,20.56 346.70,20.54 346.70,20.54 346.84,20.52 346.98,20.50 347.11,20.47 347.21,20.46 347.25,20.45 347.38,20.43 347.52,20.41 347.65,20.39 347.72,20.38 347.79,20.37 347.92,20.35 348.06,20.33 348.19,20.32 348.23,20.31 348.33,20.30 348.46,20.28 348.60,20.26 348.74,20.24 348.74,20.24 348.87,20.22 349.01,20.20 349.14,20.18 349.24,20.17 349.28,20.17 349.41,20.15 349.55,20.13 349.68,20.11 349.75,20.10 349.82,20.09 349.95,20.08 350.09,20.06 350.22,20.04 350.26,20.04 350.36,20.03 350.49,20.01 350.63,19.99 350.77,19.98 350.90,19.96 351.04,19.94 351.17,19.93 351.27,19.91 351.31,19.91 351.44,19.89 351.58,19.88 351.71,19.86 351.78,19.85 351.85,19.85 351.98,19.83 352.12,19.82 352.25,19.80 352.29,19.80 352.39,19.79 352.53,19.77 352.66,19.76 352.80,19.74 352.80,19.74 352.93,19.73 353.07,19.71 353.20,19.70 353.30,19.69 353.34,19.68 353.47,19.67 353.61,19.65 353.74,19.64 353.81,19.63 353.88,19.63 354.01,19.61 354.15,19.60 354.32,19.58 354.83,19.53 355.33,19.48 355.84,19.43 356.35,19.39 356.86,19.34 357.37,19.30 357.87,19.26 358.38,19.21 358.89,19.17 359.40,19.13 359.90,19.09 360.41,19.06 360.92,19.02 361.43,18.98 361.93,18.95 362.44,18.91 362.95,18.88 363.46,18.85 363.96,18.82 364.47,18.79 364.98,18.75 365.49,18.72 366.00,18.70 366.50,18.67 367.01,18.64 367.52,18.61 368.03,18.59 368.53,18.56 369.04,18.53 369.55,18.51 370.06,18.48 370.56,18.46 371.07,18.44 371.58,18.41 372.09,18.39 372.59,18.37 373.10,18.35 373.61,18.33 374.12,18.31 374.63,18.29 375.13,18.27 375.64,18.25 376.15,18.23 376.66,18.21 377.16,18.19 377.67,18.17 378.18,18.16 378.69,18.14 379.19,18.12 379.70,18.11 380.21,18.09 380.72,18.07 381.23,18.06 381.73,18.04 382.24,18.03 382.75,18.01 383.26,18.00 383.76,17.98 384.27,17.97 384.78,17.95 385.29,17.94 385.79,17.93 386.30,17.91 386.81,17.90 387.32,17.89 387.82,17.88 388.33,17.86 388.84,17.85 389.35,17.84 389.86,17.83 390.36,17.82 390.87,17.81 391.38,17.79 391.89,17.78 392.39,17.77 392.90,17.76 393.41,17.75 393.92,17.74 394.42,17.73 394.93,17.72 395.44,17.71 395.95,17.70 396.45,17.69 396.96,17.68 397.47,17.68 397.98,17.67 398.49,17.66 398.99,17.65 399.50,17.64 400.01,17.63 400.52,17.62 401.02,17.62 401.53,17.61 402.04,17.60 402.55,17.59 403.05,17.58 403.56,17.58 404.07,17.57 404.58,17.56 405.08,17.55 405.59,17.55 406.10,17.54 406.61,17.53 407.12,17.53 407.62,17.52 408.13,17.51 408.64,17.51 409.15,17.50 409.65,17.49 410.16,17.49 410.67,17.48 411.18,17.47 411.68,17.47 412.19,17.46 412.70,17.46 413.21,17.45 413.72,17.44 414.22,17.44 414.73,17.43 415.24,17.43 415.75,17.42 416.25,17.42 416.76,17.41 417.27,17.41 417.78,17.40 418.28,17.40 418.79,17.39 419.30,17.39 419.81,17.38 420.31,17.38 420.82,17.37 421.33,17.37 421.84,17.36 422.35,17.36 422.85,17.35 423.36,17.35 423.87,17.34 424.38,17.34 424.88,17.33 425.39,17.33 425.90,17.33 426.41,17.32 426.91,17.32 427.42,17.31 427.93,17.31 428.44,17.31 428.94,17.30 429.45,17.30 429.96,17.29 430.47,17.29 430.98,17.29 431.48,17.28 431.99,17.28 432.50,17.27 433.01,17.27 433.51,17.27 434.02,17.26 434.53,17.26 435.04,17.26 435.54,17.25 436.05,17.25 436.56,17.25 437.07,17.24 437.57,17.24 438.08,17.24 438.59,17.23 439.10,17.23 439.61,17.23 440.11,17.22 440.62,17.22 441.13,17.22 441.64,17.22 442.14,17.21 442.65,17.21 443.16,17.21 443.67,17.20 444.17,17.20 444.68,17.20 445.19,17.20 445.70,17.19 446.21,17.19 446.71,17.19 447.22,17.18 447.73,17.18 448.24,17.18 448.74,17.18 449.25,17.17 449.76,17.17 450.27,17.17 450.77,17.17 451.28,17.16 451.79,17.16 452.30,17.16 452.80,17.16 453.31,17.16 453.82,17.15 454.33,17.15 454.84,17.15 455.34,17.15 455.85,17.14 456.36,17.14 456.87,17.14 457.37,17.14 457.88,17.13 458.39,17.13 458.90,17.13 459.40,17.13 459.91,17.13 460.42,17.12 460.93,17.12 461.43,17.12 461.94,17.12 462.45,17.12 462.96,17.11 463.47,17.11 463.97,17.11 464.48,17.11 464.99,17.11 465.50,17.10 466.00,17.10 466.51,17.10 467.02,17.10 467.53,17.10 468.03,17.10 468.54,17.09 469.05,17.09 469.56,17.09 470.06,17.09 470.57,17.09 471.08,17.09 471.59,17.08 472.10,17.08 472.60,17.08 473.11,17.08 473.62,17.08 474.13,17.08 474.63,17.07 475.14,17.07 475.65,17.07 476.16,17.07 476.66,17.07 477.17,17.07 477.68,17.06 478.19,17.06 478.70,17.06 479.20,17.06 479.71,17.06 480.22,17.06 480.73,17.06 481.23,17.05 481.74,17.05 482.25,17.05 482.76,17.05 483.26,17.05 483.77,17.05 484.28,17.05 484.79,17.04 485.29,17.04 485.80,17.04 486.31,17.04 486.82,17.04 487.33,17.04 487.83,17.04 488.34,17.04 488.85,17.03 489.36,17.03 489.86,17.03 490.37,17.03 490.88,17.03 491.39,17.03 491.89,17.03 492.40,17.03 492.91,17.02 493.42,17.02 493.92,17.02 494.43,17.02 494.94,17.02 495.45,17.02 495.96,17.02 496.46,17.02 496.97,17.02 497.48,17.01 497.99,17.01 498.49,17.01 499.00,17.01 499.51,17.01 500.02,17.01 500.52,17.01 501.03,17.01 501.54,17.01 502.05,17.00 502.55,17.00 503.06,17.00"/>
<polyline stroke="#72AA2C" stroke-width="3.0" points="83.40,17.51 83.94,17.51 84.48,17.52 85.02,17.52 85.57,17.52 86.11,17.53 86.65,17.53 87.19,17.54 87.73,17.54 88.27,17.54 88.82,17.55 89.36,17.55 89.90,17.55 90.44,17.56 90.98,17.56 91.52,17.57 92.06,17.57 92.61,17.57 93.15,17.58 93.69,17.58 94.23,17.59 94.77,17.59 95.31,17.59 95.85,17.60 96.40,17.60 96.94,17.61 97.48,17.61 98.02,17.62 98.56,17.62 99.10,17.62 99.64,17.63 100.19,17.63 100.73,17.64 101.27,17.64 101.81,17.65 102.35,17.65 102.89,17.66 103.44,17.66 103.98,17.67 104.52,17.67 105.06,17.68 105.60,17.68 106.14,17.68 106.68,17.69 107.23,17.69 107.77,17.70 108.31,17.70 108.85,17.71 109.39,17.72 109.93,17.72 110.48,17.73 111.02,17.73 111.56,17.74 112.10,17.74 112.64,17.75 113.18,17.75 113.72,17.76 114.27,17.76 114.81,17.77 115.35,17.77 115.89,17.78 116.43,17.79 116.97,17.79 117.51,17.80 118.06,17.80 118.60,17.81 119.14,17.82 119.68,17.82 120.22,17.83 120.76,17.83 121.31,17.84 121.85,17.85 122.39,17.85 122.93,17.86 123.47,17.87 124.01,17.87 124.55,17.88 125.10,17.89 125.64,17.89 126.18,17.90 126.72,17.91 127.26,17.91 127.80,17.92 128.34,17.93 128.89,17.93 129.43,17.94 129.97,17.95 130.51,17.96 131.05,17.96 131.59,17.97 132.13,17.98 132.68,17.99 133.22,17.99 133.76,18.00 134.30,18.01 134.84,18.02 135.38,18.02 135.93,18.03 136.47,18.04 137.01,18.05 137.55,18.06 138.09,18.07 138.63,18.07 139.17,18.08 139.72,18.09 140.26,18.10 140.80,18.11 141.34,18.12 141.88,18.13 142.42,18.14 142.97,18.14 143.51,18.15 144.05,18.16 144.59,18.17 145.13,18.18 145.67,18.19 146.21,18.20 146.76,18.21 147.30,18.22 147.84,18.23 148.38,18.24 148.92,18.25 149.46,18.26 150.00,18.27 150.55,18.28 151.09,18.29 151.63,18.30 152.17,18.32 152.71,18.33 153.25,18.34 153.80,18.35 154.34,18.36 154.88,18.37 155.42,18.38 155.96,18.40 156.50,18.41 157.04,18.42 157.59,18.43 158.13,18.44 158.67,18.46 159.21,18.47 159.75,18.48 160.29,18.49 160.83,18.51 161.38,18.52 161.92,18.53 162.46,18.55 163.00,18.56 163.54,18.58 164.08,18.59 164.62,18.60 165.17,18.62 165.71,18.63 166.25,18.65 166.79,18.66 167.33,18.68 167.87,18.69 168.42,18.71 168.96,18.72 169.50,18.74 170.04,18.75 170.58,18.77 171.12,18.79 171.66,18.80 172.21,18.82 172.75,18.84 173.29,18.85 173.83,18.87 174.37,18.89 174.91,18.91 175.46,18.93 176.00,18.94 176.54,18.96 177.08,18.98 177.62,19.00 178.16,19.02 178.70,19.04 179.25,19.06 179.79,19.08 180.33,19.10 180.87,19.12 181.41,19.14 181.95,19.16 182.49,19.18 183.04,19.21 183.58,19.23 184.12,19.25 184.66,19.27 185.20,19.30 185.74,19.32 186.29,19.34 186.83,19.37 187.37,19.39 187.91,19.42 188.45,19.44 188.99,19.47 189.53,19.49 190.08,19.52 190.62,19.54 191.16,19.57 191.70,19.60 192.24,19.63 192.78,19.65 193.32,19.68 193.87,19.71 194.41,19.74 194.95,19.77 195.49,19.80 196.03,19.83 196.57,19.86 197.12,19.89 197.66,19.93 198.20,19.96 198.74,19.99 199.28,20.03 199.82,20.06 200.36,20.09 200.91,20.13 201.45,20.17 201.99,20.20 202.53,20.24 203.07,20.28 203.61,20.32 204.15,20.35 204.70,20.39 205.24,20.43 205.78,20.47 206.32,20.52 206.86,20.56 207.40,20.60 207.95,20.65 208.49,20.69 209.03,20.73 209.57,20.78 210.11,20.83 210.65,20.88 211.19,20.92 211.74,20.97 212.28,21.02 212.82,21.07 213.36,21.13 213.90,21.18 214.44,21.23 214.98,21.29 215.53,21.34 216.07,21.40 216.61,21.46 217.15,21.52 217.69,21.58 218.23,21.64 218.78,21.70 219.32,21.77 219.86,21.83 220.40,21.90 220.94,21.97 221.48,22.03 222.02,22.10 222.57,22.18 223.11,22.25 223.65,22.32 224.19,22.40 224.73,22.48 225.27,22.56 225.81,22.64 226.36,22.72 226.90,22.81 227.44,22.89 227.98,22.98 228.52,23.07 229.06,23.16 229.61,23.26 230.15,23.35 230.69,23.45 231.23,23.55 231.77,23.65 232.31,23.76 232.85,23.87 233.40,23.98 233.94,24.09 234.48,24.20 235.02,24.32 235.56,24.44 236.10,24.56 236.64,24.69 237.19,24.82 237.73,24.95 238.27,25.09 238.81,25.23 239.35,25.37 239.89,25.52 240.44,25.67 240.98,25.82 241.52,25.98 242.06,26.14 242.60,26.30 243.14,26.47 243.68,26.65 244.23,26.83 244.77,27.01 245.31,27.20 245.85,27.40 245.99,27.45 246.12,27.50 246.26,27.55 246.39,27.60 246.39,27.60 246.53,27.65 246.66,27.70 246.80,27.75 246.93,27.80 247.07,27.85 247.20,27.91 247.34,27.96 247.47,28.01 247.47,28.01 247.61,28.07 247.75,28.12 247.88,28.17 248.02,28.23 248.15,28.28 248.29,28.34 248.42,28.40 248.56,28.45 248.56,28.45 248.69,28.51 248.83,28.57 248.96,28.62 249.10,28.68 249.23,28.74 249.37,28.80 249.51,28.86 249.64,28.92 249.64,28.92 249.78,28.98 249.91,29.04 250.05,29.10 250.18,29.16 250.18,29.16 250.32,29.22 250.45,29.29 250.59,29.35 250.72,29.41 250.72,29.41 250.86,29.48 250.99,29.54 251.13,29.60 251.27,29.67 251.27,29.67 251.40,29.74 251.54,29.80 251.67,29.87 251.81,29.94 251.81,29.94 251.94,30.00 252.08,30.07 252.21,30.14 252.35,30.21 252.35,30.21 252.48,30.28 252.62,30.35 252.75,30.42 252.89,30.49 252.89,30.49 253.02,30.56 253.16,30.64 253.30,30.71 253.43,30.78 253.43,30.78 253.57,30.86 253.70,30.93 253.84,31.01 253.97,31.08 253.97,31.08 254.11,31.16 254.24,31.24 254.38,31.31 254.51,31.39 254.51,31.39 254.65,31.47 254.78,31.55 254.92,31.63 255.06,31.71 255.06,31.71 255.19,31.79 255.33,31.87 255.46,31.96 255.60,32.04 255.60,32.04 255.73,32.12 255.87,32.21 256.00,32.29 256.14,32.38 256.27,32.47 256.41,32.55 256.54,32.64 256.68,32.73 256.68,32.73 256.82,32.82 256.95,32.91 257.09,33.00 257.22,33.09 257.36,33.19 257.49,33.28 257.63,33.37 257.76,33.47 257.76,33.47 257.90,33.56 258.03,33.66 258.17,33.76 258.30,33.85 258.44,33.95 258.58,34.05 258.71,34.15 258.85,34.26 258.85,34.26 258.98,34.36 259.12,34.46 259.25,34.56 259.39,34.67 259.52,34.77 259.66,34.88 259.79,34.99 259.93,35.10 259.93,35.10 260.06,35.21 260.20,35.32 260.34,35.43 260.47,35.54 260.61,35.65 260.74,35.77 260.88,35.88 261.01,36.00 261.01,36.00 261.15,36.12 261.28,36.24 261.42,36.35 261.55,36.47 261.69,36.60 261.82,36.72 261.96,36.84 262.10,36.97 262.10,36.97 262.23,37.09 262.37,37.22 262.50,37.35 262.64,37.48 262.77,37.61 262.91,37.74 263.04,37.87 263.18,38.01 263.18,38.01 263.31,38.14 263.45,38.28 263.58,38.42 263.72,38.55 263.85,38.69 263.99,38.84 264.13,38.98 264.26,39.12 264.26,39.12 264.40,39.27 264.53,39.42 264.67,39.56 264.80,39.71 264.94,39.86 265.07,40.02 265.21,40.17 265.34,40.33 265.34,40.33 265.48,40.48 265.61,40.64 265.75,40.80 265.89,40.96 265.89,40.96 266.02,41.13 266.16,41.29 266.29,41.46 266.43,41.62 266.43,41.62 266.56,41.79 266.70,41.96 266.83,42.14 266.97,42.31 266.97,42.31 267.10,42.49 267.24,42.66 267.37,42.84 267.51,43.02 267.51,43.02 267.65,43.21 267.78,43.39 267.92,43.58 268.05,43.77 268.05,43.77 268.19,43.96 268.32,44.15 268.46,44.34 268.59,44.54 268.73,44.74 268.86,44.94 269.00,45.14 269.13,45.34 269.13,45.34 269.27,45.55 269.41,45.76 269.54,45.97 269.68,46.18 269.81,46.40 269.95,46.61 270.08,46.83 270.22,47.05 270.22,47.05 270.35,47.28 270.49,47.50 270.62,47.73 270.76,47.96 270.89,48.20 271.03,48.43 271.17,48.67 271.30,48.91 271.30,48.91 271.44,49.15 271.57,49.40 271.71,49.65 271.84,49.90 271.98,50.15 272.11,50.41 272.25,50.67 272.38,50.93 272.38,50.93 272.52,51.20 272.65,51.46 272.79,51.73 272.93,52.01 273.06,52.28 273.20,52.56 273.33,52.85 273.47,53.13 273.47,53.13 273.60,53.42 273.74,53.71 273.87,54.01 274.01,54.30 274.14,54.61 274.28,54.91 274.41,55.22 274.55,55.53 274.55,55.53 274.68,55.85 274.82,56.17 274.96,56.49 275.09,56.81 275.23,57.14 275.36,57.48 275.50,57.82 275.63,58.16 275.63,58.16 275.77,58.50 275.90,58.85 276.04,59.20 276.17,59.56 276.31,59.92 276.44,60.29 276.58,60.66 276.72,61.03 276.72,61.03 276.85,61.41 276.99,61.79 277.12,62.18 277.26,62.57 277.26,62.57 277.39,62.96 277.53,63.36 277.66,63.77 277.80,64.18 277.80,64.18 277.93,64.59 278.07,65.01 278.20,65.44 278.34,65.87 278.34,65.87 278.48,66.30 278.61,66.74 278.75,67.19 278.88,67.64 278.88,67.64 279.02,68.10 279.15,68.56 279.29,69.02 279.42,69.50 279.42,69.50 279.56,69.97 279.69,70.46 279.83,70.95 279.96,71.44 279.96,71.44 280.10,71.95 280.24,72.45 280.37,72.97 280.51,73.49 280.51,73.49 280.64,74.01 280.78,74.55 280.91,75.09 281.05,75.63 281.05,75.63 281.18,76.19 281.32,76.75 281.45,77.31 281.59,77.89 281.59,77.89 281.72,78.47 281.86,79.05 282.00,79.65 282.13,80.25 282.13,80.25 282.27,80.86 282.40,81.48 282.54,82.10 282.67,82.73 282.67,82.73 282.81,83.38 282.94,84.02 283.08,84.68 283.21,85.34 283.21,85.34 283.35,86.02 283.48,86.70 283.62,87.39 283.75,88.09 283.75,88.09 283.89,88.79 284.03,89.51 284.16,90.23 284.30,90.97 284.43,91.71 284.57,92.46 284.70,93.23 284.84,94.00 284.84,94.00 284.97,94.78 285.11,95.57 285.24,96.37 285.38,97.18 285.51,98.00 285.65,98.83 285.79,99.67 285.92,100.52 285.92,100.52 286.06,101.38 286.19,102.25 286.33,103.13 286.46,104.03 286.60,104.93 286.73,105.85 286.87,106.77 287.00,107.71 287.00,107.71 287.14,108.66 287.27,109.62 287.41,110.59 287.55,111.58 287.68,112.57 287.82,113.58 287.95,114.60 288.09,115.63 288.09,115.63 288.22,116.67 288.36,117.73 288.49,118.80 288.63,119.88 288.76,120.97 288.90,122.07 289.03,123.19 289.17,124.32 289.17,124.32 289.31,125.46 289.44,126.62 289.58,127.78 289.71,128.96 289.85,130.15 289.98,131.36 290.12,132.58 290.25,133.81 290.25,133.81 290.39,135.05 290.52,136.30 290.66,137.57 290.79,138.85 290.93,140.14 291.07,141.44 291.20,142.76 291.34,144.08 291.34,144.08 291.47,145.42 291.61,146.77 291.74,148.13 291.88,149.50 291.88,149.50 292.01,150.88 292.15,152.27 292.28,153.68 292.42,155.09 292.42,155.09 292.55,156.51 292.69,157.93 292.83,159.37 292.96,160.81 292.96,160.81 293.10,162.27 293.23,163.72 293.37,165.19 293.50,166.66 293.50,166.66 293.64,168.13 293.77,169.61 293.91,171.08 294.04,172.57 294.04,172.57 294.18,174.05 294.31,175.53 294.45,177.01 294.59,178.49 294.59,178.49 294.72,179.97 294.86,181.44 294.99,182.91 295.13,184.37 295.13,184.37 295.26,185.82 295.40,187.26 295.53,188.69 295.67,190.10 295.67,190.10 295.80,191.51 295.94,192.89 296.07,194.26 296.21,195.61 296.21,195.61 296.34,196.93 296.48,198.24 296.62,199.51 296.75,200.76 296.75,200.76 296.89,201.98 297.02,203.17 297.16,204.32 297.29,205.44 297.29,205.44 297.43,206.52 297.56,207.56 297.70,208.56 297.83,209.51 297.97,210.42 298.10,211.28 298.24,212.09 298.38,212.85 298.38,212.85 298.51,213.56 298.65,214.21 298.78,214.80 298.92,215.33 299.05,215.81 299.19,216.22 299.32,216.57 299.46,216.86 299.46,216.86 299.59,217.09 299.73,217.25 299.86,217.35 300.00,217.38 300.14,217.35 300.27,217.25 300.41,217.09 300.54,216.86 300.54,216.86 300.68,216.57 300.81,216.22 300.95,215.81 301.08,215.33 301.08,215.33 301.22,214.80 301.35,214.21 301.49,213.56 301.62,212.85 301.62,212.85 301.76,212.09 301.90,211.28 302.03,210.42 302.17,209.51 302.30,208.56 302.44,207.56 302.57,206.52 302.71,205.44 302.71,205.44 302.84,204.32 302.98,203.17 303.11,201.98 303.25,200.76 303.25,200.76 303.38,199.51 303.52,198.24 303.66,196.93 303.79,195.61 303.79,195.61 303.93,194.26 304.06,192.89 304.20,191.51 304.33,190.10 304.47,188.69 304.60,187.26 304.74,185.82 304.87,184.37 304.87,184.37 305.01,182.91 305.14,181.44 305.28,179.97 305.42,178.49 305.42,178.49 305.55,177.01 305.69,175.53 305.82,174.05 305.96,172.57 305.96,172.57 306.09,171.08 306.23,169.61 306.36,168.13 306.50,166.66 306.63,165.19 306.77,163.72 306.90,162.27 307.04,160.81 307.04,160.81 307.17,159.37 307.31,157.93 307.45,156.51 307.58,155.09 307.58,155.09 307.72,153.68 307.85,152.27 307.99,150.88 308.12,149.50 308.12,149.50 308.26,148.13 308.39,146.77 308.53,145.42 308.66,144.08 308.66,144.08 308.80,142.76 308.93,141.44 309.07,140.14 309.21,138.85 309.34,137.57 309.48,136.30 309.61,135.05 309.75,133.81 309.75,133.81 309.88,132.58 310.02,131.36 310.15,130.15 310.29,128.96 310.29,128.96 310.42,127.78 310.56,126.62 310.69,125.46 310.83,124.32 310.83,124.32 310.97,123.19 311.10,122.07 311.24,120.97 311.37,119.88 311.51,118.80 311.64,117.73 311.78,116.67 311.91,115.63 311.91,115.63 312.05,114.60 312.18,113.58 312.32,112.57 312.45,111.58 312.45,111.58 312.59,110.59 312.73,109.62 312.86,108.66 313.00,107.71 313.00,107.71 313.13,106.77 313.27,105.85 313.40,104.93 313.54,104.03 313.67,103.13 313.81,102.25 313.94,101.38 314.08,100.52 314.08,100.52 314.21,99.67 314.35,98.83 314.49,98.00 314.62,97.18 314.62,97.18 314.76,96.37 314.89,95.57 315.03,94.78 315.16,94.00 315.16,94.00 315.30,93.23 315.43,92.46 315.57,91.71 315.70,90.97 315.84,90.23 315.97,89.51 316.11,88.79 316.25,88.09 316.25,88.09 316.38,87.39 316.52,86.70 316.65,86.02 316.79,85.34 316.79,85.34 316.92,84.68 317.06,84.02 317.19,83.38 317.33,82.73 317.33,82.73 317.46,82.10 317.60,81.48 317.73,80.86 317.87,80.25 318.00,79.65 318.14,79.05 318.28,78.47 318.41,77.89 318.41,77.89 318.55,77.31 318.68,76.75 318.82,76.19 318.95,75.63 318.95,75.63 319.09,75.09 319.22,74.55 319.36,74.01 319.49,73.49 319.49,73.49 319.63,72.97 319.76,72.45 319.90,71.95 320.04,71.44 320.17,70.95 320.31,70.46 320.44,69.97 320.58,69.50 320.58,69.50 320.71,69.02 320.85,68.56 320.98,68.10 321.12,67.64 321.12,67.64 321.25,67.19 321.39,66.74 321.52,66.30 321.66,65.87 321.66,65.87 321.80,65.44 321.93,65.01 322.07,64.59 322.20,64.18 322.20,64.18 322.34,63.77 322.47,63.36 322.61,62.96 322.74,62.57 322.88,62.18 323.01,61.79 323.15,61.41 323.28,61.03 323.28,61.03 323.42,60.66 323.56,60.29 323.69,59.92 323.83,59.56 323.83,59.56 323.96,59.20 324.10,58.85 324.23,58.50 324.37,58.16 324.37,58.16 324.50,57.82 324.64,57.48 324.77,57.14 324.91,56.81 325.04,56.49 325.18,56.17 325.32,55.85 325.45,55.53 325.45,55.53 325.59,55.22 325.72,54.91 325.86,54.61 325.99,54.30 325.99,54.30 326.13,54.01 326.26,53.71 326.40,53.42 326.53,53.13 326.53,53.13 326.67,52.85 326.80,52.56 326.94,52.28 327.08,52.01 327.21,51.73 327.35,51.46 327.48,51.20 327.62,50.93 327.62,50.93 327.75,50.67 327.89,50.41 328.02,50.15 328.16,49.90 328.16,49.90 328.29,49.65 328.43,49.40 328.56,49.15 328.70,48.91 328.70,48.91 328.83,48.67 328.97,48.43 329.11,48.20 329.24,47.96 329.38,47.73 329.51,47.50 329.65,47.28 329.78,47.05 329.78,47.05 329.92,46.83 330.05,46.61 330.19,46.40 330.32,46.18 330.32,46.18 330.46,45.97 330.59,45.76 330.73,45.55 330.87,45.34 330.87,45.34 331.00,45.14 331.14,44.94 331.27,44.74 331.41,44.54 331.54,44.34 331.68,44.15 331.81,43.96 331.95,43.77 331.95,43.77 332.08,43.58 332.22,43.39 332.35,43.21 332.49,43.02 332.49,43.02 332.63,42.84 332.76,42.66 332.90,42.49 333.03,42.31 333.03,42.31 333.17,42.14 333.30,41.96 333.44,41.79 333.57,41.62 333.71,41.46 333.84,41.29 333.98,41.13 334.11,40.96 334.11,40.96 334.25,40.80 334.39,40.64 334.52,40.48 334.66,40.33 334.66,40.33 334.79,40.17 334.93,40.02 335.06,39.86 335.20,39.71 335.20,39.71 335.33,39.56 335.47,39.42 335.60,39.27 335.74,39.12 335.87,38.98 336.01,38.84 336.15,38.69 336.28,38.55 336.42,38.42 336.55,38.28 336.69,38.14 336.82,38.01 336.82,38.01 336.96,37.87 337.09,37.74 337.23,37.61 337.36,37.48 337.36,37.48 337.50,37.35 337.63,37.22 337.77,37.09 337.91,36.97 337.91,36.97 338.04,36.84 338.18,36.72 338.31,36.60 338.45,36.47 338.58,36.35 338.72,36.24 338.85,36.12 338.99,36.00 338.99,36.00 339.12,35.88 339.26,35.77 339.39,35.65 339.53,35.54 339.53,35.54 339.66,35.43 339.80,35.32 339.94,35.21 340.07,35.10 340.07,35.10 340.21,34.99 340.34,34.88 340.48,34.77 340.61,34.67 340.75,34.56 340.88,34.46 341.02,34.36 341.15,34.26 341.15,34.26 341.29,34.15 341.42,34.05 341.56,33.95 341.70,33.85 341.70,33.85 341.83,33.76 341.97,33.66 342.10,33.56 342.24,33.47 342.24,33.47 342.37,33.37 342.51,33.28 342.64,33.19 342.78,33.09 342.91,33.00 343.05,32.91 343.18,32.82 343.32,32.73 343.32,32.73 343.46,32.64 343.59,32.55 343.73,32.47 343.86,32.38 343.86,32.38 344.00,32.29 344.13,32.21 344.27,32.12 344.40,32.04 344.40,32.04 344.54,31.96 344.67,31.87 344.81,31.79 344.94,31.71 345.08,31.63 345.22,31.55 345.35,31.47 345.49,31.39 345.49,31.39 345.62,31.31 345.76,31.24 345.89,31.16 346.03,31.08 346.03,31.08 346.16,31.01 346.30,30.93 346.43,30.86 346.57,30.78 346.57,30.78 346.70,30.71 346.84,30.64 346.98,30.56 347.11,30.49 347.25,30.42 347.38,30.35 347.52,30.28 347.65,30.21 347.65,30.21 347.79,30.14 347.92,30.07 348.06,30.00 348.19,29.94 348.19,29.94 348.33,29.87 348.46,29.80 348.60,29.74 348.74,29.67 348.74,29.67 348.87,29.60 349.01,29.54 349.14,29.48 349.28,29.41 349.41,29.35 349.55,29.29 349.68,29.22 349.82,29.16 349.95,29.10 350.09,29.04 350.22,28.98 350.36,28.92 350.36,28.92 350.49,28.86 350.63,28.80 350.77,28.74 350.90,28.68 350.90,28.68 351.04,28.62 351.17,28.57 351.31,28.51 351.44,28.45 351.44,28.45 351.58,28.40 351.71,28.34 351.85,28.28 351.98,28.23 352.12,28.17 352.25,28.12 352.39,28.07 352.53,28.01 352.53,28.01 352.66,27.96 352.80,27.91 352.93,27.85 353.07,27.80 353.07,27.80 353.20,27.75 353.34,27.70 353.47,27.65 353.61,27.60 353.61,27.60 353.74,27.55 353.88,27.50 354.01,27.45 354.15,27.40 354.69,27.20 355.23,27.01 355.77,26.83 356.32,26.65 356.86,26.47 357.40,26.30 357.94,26.14 358.48,25.98 359.02,25.82 359.57,25.67 360.11,25.52 360.65,25.37 361.19,25.23 361.73,25.09 362.27,24.95 362.81,24.82 363.36,24.69 363.90,24.56 364.44,24.44 364.98,24.32 365.52,24.20 366.06,24.09 366.60,23.98 367.15,23.87 367.69,23.76 368.23,23.65 368.77,23.55 369.31,23.45 369.85,23.35 370.39,23.26 370.94,23.16 371.48,23.07 372.02,22.98 372.56,22.89 373.10,22.81 373.64,22.72 374.19,22.64 374.73,22.56 375.27,22.48 375.81,22.40 376.35,22.32 376.89,22.25 377.43,22.18 377.98,22.10 378.52,22.03 379.06,21.97 379.60,21.90 380.14,21.83 380.68,21.77 381.23,21.70 381.77,21.64 382.31,21.58 382.85,21.52 383.39,21.46 383.93,21.40 384.47,21.34 385.02,21.29 385.56,21.23 386.10,21.18 386.64,21.13 387.18,21.07 387.72,21.02 388.26,20.97 388.81,20.92 389.35,20.88 389.89,20.83 390.43,20.78 390.97,20.73 391.51,20.69 392.06,20.65 392.60,20.60 393.14,20.56 393.68,20.52 394.22,20.47 394.76,20.43 395.30,20.39 395.85,20.35 396.39,20.32 396.93,20.28 397.47,20.24 398.01,20.20 398.55,20.17 399.09,20.13 399.64,20.09 400.18,20.06 400.72,20.03 401.26,19.99 401.80,19.96 402.34,19.93 402.89,19.89 403.43,19.86 403.97,19.83 404.51,19.80 405.05,19.77 405.59,19.74 406.13,19.71 406.68,19.68 407.22,19.65 407.76,19.63 408.30,19.60 408.84,19.57 409.38,19.54 409.92,19.52 410.47,19.49 411.01,19.47 411.55,19.44 412.09,19.42 412.63,19.39 413.17,19.37 413.72,19.34 414.26,19.32 414.80,19.30 415.34,19.27 415.88,19.25 416.42,19.23 416.96,19.21 417.51,19.18 418.05,19.16 418.59,19.14 419.13,19.12 419.67,19.10 420.21,19.08 420.75,19.06 421.30,19.04 421.84,19.02 422.38,19.00 422.92,18.98 423.46,18.96 424.00,18.94 424.55,18.93 425.09,18.91 425.63,18.89 426.17,18.87 426.71,18.85 427.25,18.84 427.79,18.82 428.34,18.80 428.88,18.79 429.42,18.77 429.96,18.75 430.50,18.74 431.04,18.72 431.58,18.71 432.13,18.69 432.67,18.68 433.21,18.66 433.75,18.65 434.29,18.63 434.83,18.62 435.38,18.60 435.92,18.59 436.46,18.58 437.00,18.56 437.54,18.55 438.08,18.53 438.62,18.52 439.17,18.51 439.71,18.49 440.25,18.48 440.79,18.47 441.33,18.46 441.87,18.44 442.41,18.43 442.96,18.42 443.50,18.41 444.04,18.40 444.58,18.38 445.12,18.37 445.66,18.36 446.21,18.35 446.75,18.34 447.29,18.33 447.83,18.32 448.37,18.30 448.91,18.29 449.45,18.28 450.00,18.27 450.54,18.26 451.08,18.25 451.62,18.24 452.16,18.23 452.70,18.22 453.24,18.21 453.79,18.20 454.33,18.19 454.87,18.18 455.41,18.17 455.95,18.16 456.49,18.15 457.04,18.14 457.58,18.14 458.12,18.13 458.66,18.12 459.20,18.11 459.74,18.10 460.28,18.09 460.83,18.08 461.37,18.07 461.91,18.07 462.45,18.06 462.99,18.05 463.53,18.04 464.07,18.03 464.62,18.02 465.16,18.02 465.70,18.01 466.24,18.00 466.78,17.99 467.32,17.99 467.87,17.98 468.41,17.97 468.95,17.96 469.49,17.96 470.03,17.95 470.57,17.94 471.11,17.93 471.66,17.93 472.20,17.92 472.74,17.91 473.28,17.91 473.82,17.90 474.36,17.89 474.90,17.89 475.45,17.88 475.99,17.87 476.53,17.87 477.07,17.86 477.61,17.85 478.15,17.85 478.70,17.84 479.24,17.83 479.78,17.83 480.32,17.82 480.86,17.82 481.40,17.81 481.94,17.80 482.49,17.80 483.03,17.79 483.57,17.79 484.11,17.78 484.65,17.77 485.19,17.77 485.73,17.76 486.28,17.76 486.82,17.75 487.36,17.75 487.90,17.74 488.44,17.74 488.98,17.73 489.53,17.73 490.07,17.72 490.61,17.72 491.15,17.71 491.69,17.70 492.23,17.70 492.77,17.69 493.32,17.69 493.86,17.68 494.40,17.68 494.94,17.68 495.48,17.67 496.02,17.67 496.56,17.66 497.11,17.66 497.65,17.65 498.19,17.65 498.73,17.64 499.27,17.64 499.81,17.63 500.36,17.63 500.90,17.62 501.44,17.62 501.98,17.62 502.52,17.61 503.06,17.61 503.60,17.60 504.15,17.60 504.69,17.59 505.23,17.59 505.77,17.59 506.31,17.58 506.85,17.58 507.39,17.57 507.94,17.57 508.48,17.57 509.02,17.56 509.56,17.56 510.10,17.55 510.64,17.55 511.19,17.55 511.73,17.54 512.27,17.54 512.81,17.54 513.35,17.53 513.89,17.53 514.43,17.52 514.98,17.52 515.52,17.52 516.06,17.51 516.60,17.51"/>
<polyline stroke="#0000DD" stroke-width="3.6" points="83.40,20.05 83.94,20.06 84.48,20.08 85.02,20.09 85.57,20.11 86.11,20.12 86.65,20.14 87.19,20.15 87.73,20.17 88.27,20.18 88.82,20.20 89.36,20.21 89.90,20.23 90.44,20.25 90.98,20.26 91.52,20.28 92.06,20.30 92.61,20.31 93.15,20.33 93.69,20.35 94.23,20.36 94.77,20.38 95.31,20.40 95.85,20.41 96.40,20.43 96.94,20.45 97.48,20.47 98.02,20.48 98.56,20.50 99.10,20.52 99.64,20.54 100.19,20.56 100.73,20.57 101.27,20.59 101.81,20.61 102.35,20.63 102.89,20.65 103.44,20.67 103.98,20.69 104.52,20.71 105.06,20.73 105.60,20.74 106.14,20.76 106.68,20.78 107.23,20.80 107.77,20.82 108.31,20.84 108.85,20.86 109.39,20.89 109.93,20.91 110.48,20.93 111.02,20.95 111.56,20.97 112.10,20.99 112.64,21.01 113.18,21.03 113.72,21.05 114.27,21.08 114.81,21.10 115.35,21.12 115.89,21.14 116.43,21.17 116.97,21.19 117.51,21.21 118.06,21.23 118.60,21.26 119.14,21.28 119.68,21.31 120.22,21.33 120.76,21.35 121.31,21.38 121.85,21.40 122.39,21.43 122.93,21.45 123.47,21.48 124.01,21.50 124.55,21.53 125.10,21.55 125.64,21.58 126.18,21.60 126.72,21.63 127.26,21.66 127.80,21.68 128.34,21.71 128.89,21.74 129.43,21.76 129.97,21.79 130.51,21.82 131.05,21.84 131.59,21.87 132.13,21.90 132.68,21.93 133.22,21.96 133.76,21.99 134.30,22.02 134.84,22.05 135.38,22.07 135.93,22.10 136.47,22.13 137.01,22.16 137.55,22.20 138.09,22.23 138.63,22.26 139.17,22.29 139.72,22.32 140.26,22.35 140.80,22.38 141.34,22.42 141.88,22.45 142.42,22.48 142.97,22.51 143.51,22.55 144.05,22.58 144.59,22.62 145.13,22.65 145.67,22.68 146.21,22.72 146.76,22.75 147.30,22.79 147.84,22.82 148.38,22.86 148.92,22.90 149.46,22.93 150.00,22.97 150.55,23.01 151.09,23.04 151.63,23.08 152.17,23.12 152.71,23.16 153.25,23.20 153.80,23.24 154.34,23.28 154.88,23.32 155.42,23.36 155.96,23.40 156.50,23.44 157.04,23.48 157.59,23.52 158.13,23.56 158.67,23.60 159.21,23.65 159.75,23.69 160.29,23.73 160.83,23.78 161.38,23.82 161.92,23.86 162.46,23.91 163.00,23.95 163.54,24.00 164.08,24.05 164.62,24.09 165.17,24.14 165.71,24.19 166.25,24.23 166.79,24.28 167.33,24.33 167.87,24.38 168.42,24.43 168.96,24.48 169.50,24.53 170.04,24.58 170.58,24.63 171.12,24.68 171.66,24.73 172.21,24.79 172.75,24.84 173.29,24.89 173.83,24.95 174.37,25.00 174.91,25.06 175.46,25.11 176.00,25.17 176.54,25.23 177.08,25.28 177.62,25.34 178.16,25.40 178.70,25.46 179.25,25.52 179.79,25.58 180.33,25.64 180.87,25.70 181.41,25.76 181.95,25.82 182.49,25.88 183.04,25.95 183.58,26.01 184.12,26.07 184.66,26.14 185.20,26.20 185.74,26.27 186.29,26.34 186.83,26.40 187.37,26.47 187.91,26.54 188.45,26.61 188.99,26.68 189.53,26.75 190.08,26.82 190.62,26.89 191.16,26.97 191.70,27.04 192.24,27.11 192.78,27.19 193.32,27.26 193.87,27.34 194.41,27.42 194.95,27.49 195.49,27.57 196.03,27.65 196.57,27.73 197.12,27.81 197.66,27.89 198.20,27.97 198.74,28.06 199.28,28.14 199.82,28.22 200.36,28.31 200.91,28.40 201.45,28.48 201.99,28.57 202.53,28.66 203.07,28.75 203.61,28.84 204.15,28.93 204.70,29.02 205.24,29.11 205.78,29.21 206.32,29.30 206.86,29.40 207.40,29.49 207.95,29.59 208.49,29.69 209.03,29.79 209.57,29.89 210.11,29.99 210.65,30.09 211.19,30.19 211.74,30.30 212.28,30.40 212.82,30.51 213.36,30.61 213.90,30.72 214.44,30.83 214.98,30.94 215.53,31.05 216.07,31.16 216.61,31.28 217.15,31.39 217.69,31.50 218.23,31.62 218.78,31.74 219.32,31.86 219.86,31.97 220.40,32.10 220.94,32.22 221.48,32.34 222.02,32.46 222.57,32.59 223.11,32.71 223.65,32.84 224.19,32.97 224.73,33.10 225.27,33.23 225.81,33.36 226.36,33.49 226.90,33.63 227.44,33.76 227.98,33.90 228.52,34.03 229.06,34.17 229.61,34.31 230.15,34.45 230.69,34.59 231.23,34.74 231.77,34.88 232.31,35.03 232.85,35.17 233.40,35.32 233.94,35.47 234.48,35.62 235.02,35.77 235.56,35.92 236.10,36.08 236.64,36.23 237.19,36.39 237.73,36.55 238.27,36.71 238.81,36.86 239.35,37.03 239.89,37.19 240.44,37.35 240.98,37.51 241.52,37.68 242.06,37.85 242.60,38.01 243.14,38.18 243.68,38.35 244.23,38.52 244.77,38.69 245.31,38.87 245.85,39.04 245.99,39.08 246.12,39.13 246.26,39.17 246.39,39.21 246.39,39.21 246.53,39.26 246.66,39.30 246.80,39.35 246.93,39.39 247.07,39.43 247.20,39.48 247.34,39.52 247.47,39.57 247.47,39.57 247.61,39.61 247.75,39.66 247.88,39.70 248.02,39.74 248.15,39.79 248.29,39.83 248.42,39.88 248.56,39.92 248.56,39.92 248.69,39.97 248.83,40.01 248.96,40.06 249.10,40.10 249.23,40.15 249.37,40.19 249.51,40.24 249.64,40.28 249.64,40.28 249.78,40.33 249.91,40.37 250.05,40.42 250.18,40.46 250.18,40.46 250.32,40.51 250.45,40.56 250.59,40.60 250.72,40.65 250.72,40.65 250.86,40.69 250.99,40.74 251.13,40.78 251.27,40.83 251.27,40.83 251.40,40.87 251.54,40.92 251.67,40.97 251.81,41.01 251.81,41.01 251.94,41.06 252.08,41.10 252.21,41.15 252.35,41.20 252.35,41.20 252.48,41.24 252.62,41.29 252.75,41.34 252.89,41.38 252.89,41.38 253.02,41.43 253.16,41.47 253.30,41.52 253.43,41.57 253.43,41.57 253.57,41.61 253.70,41.66 253.84,41.71 253.97,41.75 253.97,41.75 254.11,41.80 254.24,41.85 254.38,41.89 254.51,41.94 254.51,41.94 254.65,41.99 254.78,42.03 254.92,42.08 255.06,42.13 255.06,42.13 255.19,42.18 255.33,42.22 255.46,42.27 255.60,42.32 255.60,42.32 255.73,42.36 255.87,42.41 256.00,42.46 256.14,42.51 256.27,42.55 256.41,42.60 256.54,42.65 256.68,42.69 256.68,42.69 256.82,42.74 256.95,42.79 257.09,42.84 257.22,42.88 257.36,42.93 257.49,42.98 257.63,43.03 257.76,43.07 257.76,43.07 257.90,43.12 258.03,43.17 258.17,43.22 258.30,43.26 258.44,43.31 258.58,43.36 258.71,43.41 258.85,43.45 258.85,43.45 258.98,43.50 259.12,43.55 259.25,43.60 259.39,43.65 259.52,43.69 259.66,43.74 259.79,43.79 259.93,43.84 259.93,43.84 260.06,43.88 260.20,43.93 260.34,43.98 260.47,44.03 260.61,44.08 260.74,44.12 260.88,44.17 261.01,44.22 261.01,44.22 261.15,44.27 261.28,44.31 261.42,44.36 261.55,44.41 261.69,44.46 261.82,44.51 261.96,44.55 262.10,44.60 262.10,44.60 262.23,44.65 262.37,44.70 262.50,44.74 262.64,44.79 262.77,44.84 262.91,44.89 263.04,44.94 263.18,44.98 263.18,44.98 263.31,45.03 263.45,45.08 263.58,45.13 263.72,45.17 263.85,45.22 263.99,45.27 264.13,45.32 264.26,45.36 264.26,45.36 264.40,45.41 264.53,45.46 264.67,45.51 264.80,45.55 264.94,45.60 265.07,45.65 265.21,45.70 265.34,45.74 265.34,45.74 265.48,45.79 265.61,45.84 265.75,45.89 265.89,45.93 265.89,45.93 266.02,45.98 266.16,46.03 266.29,46.07 266.43,46.12 266.43,46.12 266.56,46.17 266.70,46.22 266.83,46.26 266.97,46.31 266.97,46.31 267.10,46.36 267.24,46.40 267.37,46.45 267.51,46.50 267.51,46.50 267.65,46.54 267.78,46.59 267.92,46.64 268.05,46.68 268.05,46.68 268.19,46.73 268.32,46.78 268.46,46.82 268.59,46.87 268.73,46.92 268.86,46.96 269.00,47.01 269.13,47.06 269.13,47.06 269.27,47.10 269.41,47.15 269.54,47.19 269.68,47.24 269.81,47.29 269.95,47.33 270.08,47.38 270.22,47.42 270.22,47.42 270.35,47.47 270.49,47.51 270.62,47.56 270.76,47.60 270.89,47.65 271.03,47.69 271.17,47.74 271.30,47.79 271.30,47.79 271.44,47.83 271.57,47.88 271.71,47.92 271.84,47.96 271.98,48.01 272.11,48.05 272.25,48.10 272.38,48.14 272.38,48.14 272.52,48.19 272.65,48.23 272.79,48.28 272.93,48.32 273.06,48.36 273.20,48.41 273.33,48.45 273.47,48.49 273.47,48.49 273.60,48.54 273.74,48.58 273.87,48.62 274.01,48.67 274.14,48.71 274.28,48.75 274.41,48.80 274.55,48.84 274.55,48.84 274.68,48.88 274.82,48.92 274.96,48.97 275.09,49.01 275.23,49.05 275.36,49.09 275.50,49.14 275.63,49.18 275.63,49.18 275.77,49.22 275.90,49.26 276.04,49.30 276.17,49.34 276.31,49.38 276.44,49.43 276.58,49.47 276.72,49.51 276.72,49.51 276.85,49.55 276.99,49.59 277.12,49.63 277.26,49.67 277.26,49.67 277.39,49.71 277.53,49.75 277.66,49.79 277.80,49.83 277.80,49.83 277.93,49.87 278.07,49.91 278.20,49.95 278.34,49.99 278.34,49.99 278.48,50.03 278.61,50.06 278.75,50.10 278.88,50.14 278.88,50.14 279.02,50.18 279.15,50.22 279.29,50.26 279.42,50.29 279.42,50.29 279.56,50.33 279.69,50.37 279.83,50.41 279.96,50.44 279.96,50.44 280.10,50.48 280.24,50.52 280.37,50.55 280.51,50.59 280.51,50.59 280.64,50.63 280.78,50.66 280.91,50.70 281.05,50.74 281.05,50.74 281.18,50.77 281.32,50.81 281.45,50.84 281.59,50.88 281.59,50.88 281.72,50.91 281.86,50.95 282.00,50.98 282.13,51.02 282.13,51.02 282.27,51.05 282.40,51.08 282.54,51.12 282.67,51.15 282.67,51.15 282.81,51.18 282.94,51.22 283.08,51.25 283.21,51.28 283.21,51.28 283.35,51.32 283.48,51.35 283.62,51.38 283.75,51.41 283.75,51.41 283.89,51.44 284.03,51.48 284.16,51.51 284.30,51.54 284.43,51.57 284.57,51.60 284.70,51.63 284.84,51.66 284.84,51.66 284.97,51.69 285.11,51.72 285.24,51.75 285.38,51.78 285.51,51.81 285.65,51.84 285.79,51.87 285.92,51.89 285.92,51.89 286.06,51.92 286.19,51.95 286.33,51.98 286.46,52.01 286.60,52.03 286.73,52.06 286.87,52.09 287.00,52.11 287.00,52.11 287.14,52.14 287.27,52.17 287.41,52.19 287.55,52.22 287.68,52.24 287.82,52.27 287.95,52.29 288.09,52.32 288.09,52.32 288.22,52.34 288.36,52.37 288.49,52.39 288.63,52.42 288.76,52.44 288.90,52.46 289.03,52.49 289.17,52.51 289.17,52.51 289.31,52.53 289.44,52.55 289.58,52.58 289.71,52.60 289.85,52.62 289.98,52.64 290.12,52.66 290.25,52.68 290.25,52.68 290.39,52.70 290.52,52.72 290.66,52.74 290.79,52.76 290.93,52.78 291.07,52.80 291.20,52.82 291.34,52.84 291.34,52.84 291.47,52.86 291.61,52.87 291.74,52.89 291.88,52.91 291.88,52.91 292.01,52.93 292.15,52.94 292.28,52.96 292.42,52.98 292.42,52.98 292.55,52.99 292.69,53.01 292.83,53.02 292.96,53.04 292.96,53.04 293.10,53.05 293.23,53.07 293.37,53.08 293.50,53.10 293.50,53.10 293.64,53.11 293.77,53.13 293.91,53.14 294.04,53.15 294.04,53.15 294.18,53.16 294.31,53.18 294.45,53.19 294.59,53.20 294.59,53.20 294.72,53.21 294.86,53.22 294.99,53.24 295.13,53.25 295.13,53.25 295.26,53.26 295.40,53.27 295.53,53.28 295.67,53.29 295.67,53.29 295.80,53.30 295.94,53.30 296.07,53.31 296.21,53.32 296.21,53.32 296.34,53.33 296.48,53.34 296.62,53.35 296.75,53.35 296.75,53.35 296.89,53.36 297.02,53.37 297.16,53.37 297.29,53.38 297.29,53.38 297.43,53.38 297.56,53.39 297.70,53.39 297.83,53.40 297.97,53.40 298.10,53.41 298.24,53.41 298.38,53.42 298.38,53.42 298.51,53.42 298.65,53.42 298.78,53.43 298.92,53.43 299.05,53.43 299.19,53.43 299.32,53.43 299.46,53.44 299.46,53.44 299.59,53.44 299.73,53.44 299.86,53.44 300.00,53.44 300.14,53.44 300.27,53.44 300.41,53.44 300.54,53.44 300.54,53.44 300.68,53.43 300.81,53.43 300.95,53.43 301.08,53.43 301.08,53.43 301.22,53.43 301.35,53.42 301.49,53.42 301.62,53.42 301.62,53.42 301.76,53.41 301.90,53.41 302.03,53.40 302.17,53.40 302.30,53.39 302.44,53.39 302.57,53.38 302.71,53.38 302.71,53.38 302.84,53.37 302.98,53.37 303.11,53.36 303.25,53.35 303.25,53.35 303.38,53.35 303.52,53.34 303.66,53.33 303.79,53.32 303.79,53.32 303.93,53.31 304.06,53.30 304.20,53.30 304.33,53.29 304.47,53.28 304.60,53.27 304.74,53.26 304.87,53.25 304.87,53.25 305.01,53.24 305.14,53.22 305.28,53.21 305.42,53.20 305.42,53.20 305.55,53.19 305.69,53.18 305.82,53.16 305.96,53.15 305.96,53.15 306.09,53.14 306.23,53.13 306.36,53.11 306.50,53.10 306.63,53.08 306.77,53.07 306.90,53.05 307.04,53.04 307.04,53.04 307.17,53.02 307.31,53.01 307.45,52.99 307.58,52.98 307.58,52.98 307.72,52.96 307.85,52.94 307.99,52.93 308.12,52.91 308.12,52.91 308.26,52.89 308.39,52.87 308.53,52.86 308.66,52.84 308.66,52.84 308.80,52.82 308.93,52.80 309.07,52.78 309.21,52.76 309.34,52.74 309.48,52.72 309.61,52.70 309.75,52.68 309.75,52.68 309.88,52.66 310.02,52.64 310.15,52.62 310.29,52.60 310.29,52.60 310.42,52.58 310.56,52.55 310.69,52.53 310.83,52.51 310.83,52.51 310.97,52.49 311.10,52.46 311.24,52.44 311.37,52.42 311.51,52.39 311.64,52.37 311.78,52.34 311.91,52.32 311.91,52.32 312.05,52.29 312.18,52.27 312.32,52.24 312.45,52.22 312.45,52.22 312.59,52.19 312.73,52.17 312.86,52.14 313.00,52.11 313.00,52.11 313.13,52.09 313.27,52.06 313.40,52.03 313.54,52.01 313.67,51.98 313.81,51.95 313.94,51.92 314.08,51.89 314.08,51.89 314.21,51.87 314.35,51.84 314.49,51.81 314.62,51.78 314.62,51.78 314.76,51.75 314.89,51.72 315.03,51.69 315.16,51.66 315.16,51.66 315.30,51.63 315.43,51.60 315.57,51.57 315.70,51.54 315.84,51.51 315.97,51.48 316.11,51.44 316.25,51.41 316.25,51.41 316.38,51.38 316.52,51.35 316.65,51.32 316.79,51.28 316.79,51.28 316.92,51.25 317.06,51.22 317.19,51.18 317.33,51.15 317.33,51.15 317.46,51.12 317.60,51.08 317.73,51.05 317.87,51.02 318.00,50.98 318.14,50.95 318.28,50.91 318.41,50.88 318.41,50.88 318.55,50.84 318.68,50.81 318.82,50.77 318.95,50.74 318.95,50.74 319.09,50.70 319.22,50.66 319.36,50.63 319.49,50.59 319.49,50.59 319.63,50.55 319.76,50.52 319.90,50.48 320.04,50.44 320.17,50.41 320.31,50.37 320.44,50.33 320.58,50.29 320.58,50.29 320.71,50.26 320.85,50.22 320.98,50.18 321.12,50.14 321.12,50.14 321.25,50.10 321.39,50.06 321.52,50.03 321.66,49.99 321.66,49.99 321.80,49.95 321.93,49.91 322.07,49.87 322.20,49.83 322.20,49.83 322.34,49.79 322.47,49.75 322.61,49.71 322.74,49.67 322.88,49.63 323.01,49.59 323.15,49.55 323.28,49.51 323.28,49.51 323.42,49.47 323.56,49.43 323.69,49.38 323.83,49.34 323.83,49.34 323.96,49.30 324.10,49.26 324.23,49.22 324.37,49.18 324.37,49.18 324.50,49.14 324.64,49.09 324.77,49.05 324.91,49.01 325.04,48.97 325.18,48.92 325.32,48.88 325.45,48.84 325.45,48.84 325.59,48.80 325.72,48.75 325.86,48.71 325.99,48.67 325.99,48.67 326.13,48.62 326.26,48.58 326.40,48.54 326.53,48.49 326.53,48.49 326.67,48.45 326.80,48.41 326.94,48.36 327.08,48.32 327.21,48.28 327.35,48.23 327.48,48.19 327.62,48.14 327.62,48.14 327.75,48.10 327.89,48.05 328.02,48.01 328.16,47.96 328.16,47.96 328.29,47.92 328.43,47.88 328.56,47.83 328.70,47.79 328.70,47.79 328.83,47.74 328.97,47.69 329.11,47.65 329.24,47.60 329.38,47.56 329.51,47.51 329.65,47.47 329.78,47.42 329.78,47.42 329.92,47.38 330.05,47.33 330.19,47.29 330.32,47.24 330.32,47.24 330.46,47.19 330.59,47.15 330.73,47.10 330.87,47.06 330.87,47.06 331.00,47.01 331.14,46.96 331.27,46.92 331.41,46.87 331.54,46.82 331.68,46.78 331.81,46.73 331.95,46.68 331.95,46.68 332.08,46.64 332.22,46.59 332.35,46.54 332.49,46.50 332.49,46.50 332.63,46.45 332.76,46.40 332.90,46.36 333.03,46.31 333.03,46.31 333.17,46.26 333.30,46.22 333.44,46.17 333.57,46.12 333.71,46.07 333.84,46.03 333.98,45.98 334.11,45.93 334.11,45.93 334.25,45.89 334.39,45.84 334.52,45.79 334.66,45.74 334.66,45.74 334.79,45.70 334.93,45.65 335.06,45.60 335.20,45.55 335.20,45.55 335.33,45.51 335.47,45.46 335.60,45.41 335.74,45.36 335.87,45.32 336.01,45.27 336.15,45.22 336.28,45.17 336.42,45.13 336.55,45.08 336.69,45.03 336.82,44.98 336.82,44.98 336.96,44.94 337.09,44.89 337.23,44.84 337.36,44.79 337.36,44.79 337.50,44.74 337.63,44.70 337.77,44.65 337.91,44.60 337.91,44.60 338.04,44.55 338.18,44.51 338.31,44.46 338.45,44.41 338.58,44.36 338.72,44.31 338.85,44.27 338.99,44.22 338.99,44.22 339.12,44.17 339.26,44.12 339.39,44.08 339.53,44.03 339.53,44.03 339.66,43.98 339.80,43.93 339.94,43.88 340.07,43.84 340.07,43.84 340.21,43.79 340.34,43.74 340.48,43.69 340.61,43.65 340.75,43.60 340.88,43.55 341.02,43.50 341.15,43.45 341.15,43.45 341.29,43.41 341.42,43.36 341.56,43.31 341.70,43.26 341.70,43.26 341.83,43.22 341.97,43.17 342.10,43.12 342.24,43.07 342.24,43.07 342.37,43.03 342.51,42.98 342.64,42.93 342.78,42.88 342.91,42.84 343.05,42.79 343.18,42.74 343.32,42.69 343.32,42.69 343.46,42.65 343.59,42.60 343.73,42.55 343.86,42.51 343.86,42.51 344.00,42.46 344.13,42.41 344.27,42.36 344.40,42.32 344.40,42.32 344.54,42.27 344.67,42.22 344.81,42.18 344.94,42.13 345.08,42.08 345.22,42.03 345.35,41.99 345.49,41.94 345.49,41.94 345.62,41.89 345.76,41.85 345.89,41.80 346.03,41.75 346.03,41.75 346.16,41.71 346.30,41.66 346.43,41.61 346.57,41.57 346.57,41.57 346.70,41.52 346.84,41.47 346.98,41.43 347.11,41.38 347.25,41.34 347.38,41.29 347.52,41.24 347.65,41.20 347.65,41.20 347.79,41.15 347.92,41.10 348.06,41.06 348.19,41.01 348.19,41.01 348.33,40.97 348.46,40.92 348.60,40.87 348.74,40.83 348.74,40.83 348.87,40.78 349.01,40.74 349.14,40.69 349.28,40.65 349.41,40.60 349.55,40.56 349.68,40.51 349.82,40.46 349.95,40.42 350.09,40.37 350.22,40.33 350.36,40.28 350.36,40.28 350.49,40.24 350.63,40.19 350.77,40.15 350.90,40.10 350.90,40.10 351.04,40.06 351.17,40.01 351.31,39.97 351.44,39.92 351.44,39.92 351.58,39.88 351.71,39.83 351.85,39.79 351.98,39.74 352.12,39.70 352.25,39.66 352.39,39.61 352.53,39.57 352.53,39.57 352.66,39.52 352.80,39.48 352.93,39.43 353.07,39.39 353.07,39.39 353.20,39.35 353.34,39.30 353.47,39.26 353.61,39.21 353.61,39.21 353.74,39.17 353.88,39.13 354.01,39.08 354.15,39.04 354.69,38.87 355.23,38.69 355.77,38.52 356.32,38.35 356.86,38.18 357.40,38.01 357.94,37.85 358.48,37.68 359.02,37.51 359.57,37.35 360.11,37.19 360.65,37.03 361.19,36.86 361.73,36.71 362.27,36.55 362.81,36.39 363.36,36.23 363.90,36.08 364.44,35.92 364.98,35.77 365.52,35.62 366.06,35.47 366.60,35.32 367.15,35.17 367.69,35.03 368.23,34.88 368.77,34.74 369.31,34.59 369.85,34.45 370.39,34.31 370.94,34.17 371.48,34.03 372.02,33.90 372.56,33.76 373.10,33.63 373.64,33.49 374.19,33.36 374.73,33.23 375.27,33.10 375.81,32.97 376.35,32.84 376.89,32.71 377.43,32.59 377.98,32.46 378.52,32.34 379.06,32.22 379.60,32.10 380.14,31.97 380.68,31.86 381.23,31.74 381.77,31.62 382.31,31.50 382.85,31.39 383.39,31.28 383.93,31.16 384.47,31.05 385.02,30.94 385.56,30.83 386.10,30.72 386.64,30.61 387.18,30.51 387.72,30.40 388.26,30.30 388.81,30.19 389.35,30.09 389.89,29.99 390.43,29.89 390.97,29.79 391.51,29.69 392.06,29.59 392.60,29.49 393.14,29.40 393.68,29.30 394.22,29.21 394.76,29.11 395.30,29.02 395.85,28.93 396.39,28.84 396.93,28.75 397.47,28.66 398.01,28.57 398.55,28.48 399.09,28.40 399.64,28.31 400.18,28.22 400.72,28.14 401.26,28.06 401.80,27.97 402.34,27.89 402.89,27.81 403.43,27.73 403.97,27.65 404.51,27.57 405.05,27.49 405.59,27.42 406.13,27.34 406.68,27.26 407.22,27.19 407.76,27.11 408.30,27.04 408.84,26.97 409.38,26.89 409.92,26.82 410.47,26.75 411.01,26.68 411.55,26.61 412.09,26.54 412.63,26.47 413.17,26.40 413.72,26.34 414.26,26.27 414.80,26.20 415.34,26.14 415.88,26.07 416.42,26.01 416.96,25.95 417.51,25.88 418.05,25.82 418.59,25.76 419.13,25.70 419.67,25.64 420.21,25.58 420.75,25.52 421.30,25.46 421.84,25.40 422.38,25.34 422.92,25.28 423.46,25.23 424.00,25.17 424.55,25.11 425.09,25.06 425.63,25.00 426.17,24.95 426.71,24.89 427.25,24.84 427.79,24.79 428.34,24.73 428.88,24.68 429.42,24.63 429.96,24.58 430.50,24.53 431.04,24.48 431.58,24.43 432.13,24.38 432.67,24.33 433.21,24.28 433.75,24.23 434.29,24.19 434.83,24.14 435.38,24.09 435.92,24.05 436.46,24.00 437.00,23.95 437.54,23.91 438.08,23.86 438.62,23.82 439.17,23.78 439.71,23.73 440.25,23.69 440.79,23.65 441.33,23.60 441.87,23.56 442.41,23.52 442.96,23.48 443.50,23.44 444.04,23.40 444.58,23.36 445.12,23.32 445.66,23.28 446.21,23.24 446.75,23.20 447.29,23.16 447.83,23.12 448.37,23.08 448.91,23.04 449.45,23.01 450.00,22.97 450.54,22.93 451.08,22.90 451.62,22.86 452.16,22.82 452.70,22.79 453.24,22.75 453.79,22.72 454.33,22.68 454.87,22.65 455.41,22.62 455.95,22.58 456.49,22.55 457.04,22.51 457.58,22.48 458.12,22.45 458.66,22.42 459.20,22.38 459.74,22.35 460.28,22.32 460.83,22.29 461.37,22.26 461.91,22.23 462.45,22.20 462.99,22.16 463.53,22.13 464.07,22.10 464.62,22.07 465.16,22.05 465.70,22.02 466.24,21.99 466.78,21.96 467.32,21.93 467.87,21.90 468.41,21.87 468.95,21.84 469.49,21.82 470.03,21.79 470.57,21.76 471.11,21.74 471.66,21.71 472.20,21.68 472.74,21.66 473.28,21.63 473.82,21.60 474.36,21.58 474.90,21.55 475.45,21.53 475.99,21.50 476.53,21.48 477.07,21.45 477.61,21.43 478.15,21.40 478.70,21.38 479.24,21.35 479.78,21.33 480.32,21.31 480.86,21.28 481.40,21.26 481.94,21.23 482.49,21.21 483.03,21.19 483.57,21.17 484.11,21.14 484.65,21.12 485.19,21.10 485.73,21.08 486.28,21.05 486.82,21.03 487.36,21.01 487.90,20.99 488.44,20.97 488.98,20.95 489.53,20.93 490.07,20.91 490.61,20.89 491.15,20.86 491.69,20.84 492.23,20.82 492.77,20.80 493.32,20.78 493.86,20.76 494.40,20.74 494.94,20.73 495.48,20.71 496.02,20.69 496.56,20.67 497.11,20.65 497.65,20.63 498.19,20.61 498.73,20.59 499.27,20.57 499.81,20.56 500.36,20.54 500.90,20.52 501.44,20.50 501.98,20.48 502.52,20.47 503.06,20.45 503.60,20.43 504.15,20.41 504.69,20.40 505.23,20.38 505.77,20.36 506.31,20.35 506.85,20.33 507.39,20.31 507.94,20.30 508.48,20.28 509.02,20.26 509.56,20.25 510.10,20.23 510.64,20.21 511.19,20.20 511.73,20.18 512.27,20.17 512.81,20.15 513.35,20.14 513.89,20.12 514.43,20.11 514.98,20.09 515.52,20.08 516.06,20.06 516.60,20.05"/>
</g>
<g fill="none" stroke-width="3" stroke-linejoin="round">
<polyline stroke="#EE0000" stroke-width="3.0" points="149.38,326.50 149.76,326.50 150.13,326.50 150.51,326.51 150.88,326.51 151.25,326.51 151.63,326.51 152.00,326.51 152.38,326.51 152.75,326.51 153.12,326.51 153.50,326.51 153.87,326.51 154.25,326.51 154.62,326.51 154.99,326.51 155.37,326.51 155.74,326.51 156.11,326.51 156.49,326.51 156.86,326.52 157.24,326.52 157.61,326.52 157.98,326.52 158.36,326.52 158.73,326.52 159.11,326.52 159.48,326.52 159.85,326.52 160.23,326.52 160.60,326.52 160.98,326.52 161.35,326.52 161.72,326.52 162.10,326.52 162.47,326.52 162.85,326.53 163.22,326.53 163.59,326.53 163.97,326.53 164.34,326.53 164.71,326.53 165.09,326.53 165.46,326.53 165.84,326.53 166.21,326.53 166.58,326.53 166.96,326.53 167.33,326.53 167.71,326.53 168.08,326.54 168.45,326.54 168.83,326.54 169.20,326.54 169.58,326.54 169.95,326.54 170.32,326.54 170.70,326.54 171.07,326.54 171.45,326.54 171.82,326.54 172.19,326.54 172.57,326.54 172.94,326.54 173.31,326.55 173.69,326.55 174.06,326.55 174.44,326.55 174.81,326.55 175.18,326.55 175.56,326.55 175.93,326.55 176.31,326.55 176.68,326.55 177.05,326.55 177.43,326.55 177.80,326.56 178.18,326.56 178.55,326.56 178.92,326.56 179.30,326.56 179.67,326.56 180.05,326.56 180.42,326.56 180.79,326.56 181.17,326.56 181.54,326.56 181.91,326.57 182.29,326.57 182.66,326.57 183.04,326.57 183.41,326.57 183.78,326.57 184.16,326.57 184.53,326.57 184.91,326.57 185.28,326.57 185.65,326.57 186.03,326.58 186.40,326.58 186.78,326.58 187.15,326.58 187.52,326.58 187.90,326.58 188.27,326.58 188.65,326.58 189.02,326.58 189.39,326.58 189.77,326.59 190.14,326.59 190.51,326.59 190.89,326.59 191.26,326.59 191.64,326.59 192.01,326.59 192.38,326.59 192.76,326.59 193.13,326.60 193.51,326.60 193.88,326.60 194.25,326.60 194.63,326.60 195.00,326.60 195.38,326.60 195.75,326.60 196.12,326.60 196.50,326.61 196.87,326.61 197.25,326.61 197.62,326.61 197.99,326.61 198.37,326.61 198.74,326.61 199.11,326.61 199.49,326.62 199.86,326.62 200.24,326.62 200.61,326.62 200.98,326.62 201.36,326.62 201.73,326.62 202.11,326.62 202.48,326.63 202.85,326.63 203.23,326.63 203.60,326.63 203.98,326.63 204.35,326.63 204.72,326.63 205.10,326.63 205.47,326.64 205.85,326.64 206.22,326.64 206.59,326.64 206.97,326.64 207.34,326.64 207.71,326.64 208.09,326.65 208.46,326.65 208.84,326.65 209.21,326.65 209.58,326.65 209.96,326.65 210.33,326.66 210.71,326.66 211.08,326.66 211.45,326.66 211.83,326.66 212.20,326.66 212.58,326.67 212.95,326.67 213.32,326.67 213.70,326.67 214.07,326.67 214.45,326.67 214.82,326.68 215.19,326.68 215.57,326.68 215.94,326.68 216.31,326.68 216.69,326.68 217.06,326.69 217.44,326.69 217.81,326.69 218.18,326.69 218.56,326.69 218.93,326.70 219.31,326.70 219.68,326.70 220.05,326.70 220.43,326.70 220.80,326.71 221.18,326.71 221.55,326.71 221.92,326.71 222.30,326.71 222.67,326.72 223.05,326.72 223.42,326.72 223.79,326.72 224.17,326.72 224.54,326.73 224.92,326.73 225.29,326.73 225.66,326.73 226.04,326.74 226.41,326.74 226.78,326.74 227.16,326.74 227.53,326.74 227.91,326.75 228.28,326.75 228.65,326.75 229.03,326.75 229.40,326.76 229.78,326.76 230.15,326.76 230.52,326.76 230.90,326.77 231.27,326.77 231.65,326.77 232.02,326.78 232.39,326.78 232.77,326.78 233.14,326.78 233.52,326.79 233.89,326.79 234.26,326.79 234.64,326.79 235.01,326.80 235.38,326.80 235.76,326.80 236.13,326.81 236.51,326.81 236.88,326.81 237.25,326.82 237.63,326.82 238.00,326.82 238.38,326.83 238.75,326.83 239.12,326.83 239.50,326.84 239.87,326.84 240.25,326.84 240.62,326.85 240.99,326.85 241.37,326.85 241.74,326.86 242.12,326.86 242.49,326.86 242.86,326.87 243.24,326.87 243.61,326.88 243.98,326.88 244.36,326.88 244.56,326.89 244.70,326.89 244.73,326.89 244.83,326.89 244.97,326.89 245.11,326.89 245.24,326.89 245.38,326.90 245.48,326.90 245.51,326.90 245.65,326.90 245.79,326.90 245.85,326.90 245.92,326.90 246.06,326.90 246.19,326.90 246.23,326.90 246.33,326.91 246.47,326.91 246.60,326.91 246.60,326.91 246.74,326.91 246.87,326.91 246.98,326.91 247.01,326.91 247.15,326.92 247.28,326.92 247.35,326.92 247.42,326.92 247.55,326.92 247.69,326.92 247.72,326.92 247.83,326.92 247.96,326.93 248.10,326.93 248.23,326.93 248.37,326.93 248.47,326.93 248.51,326.93 248.64,326.93 248.78,326.94 248.85,326.94 248.91,326.94 249.05,326.94 249.19,326.94 249.22,326.94 249.32,326.94 249.46,326.94 249.59,326.95 249.73,326.95 249.87,326.95 249.97,326.95 250.00,326.95 250.14,326.95 250.27,326.95 250.34,326.96 250.41,326.96 250.55,326.96 250.68,326.96 250.72,326.96 250.82,326.96 250.95,326.96 251.09,326.97 251.09,326.97 251.22,326.97 251.36,326.97 251.46,326.97 251.50,326.97 251.63,326.97 251.77,326.98 251.84,326.98 251.90,326.98 252.04,326.98 252.18,326.98 252.21,326.98 252.31,326.98 252.45,326.98 252.58,326.99 252.72,326.99 252.86,326.99 252.96,326.99 252.99,326.99 253.13,326.99 253.26,327.00 253.33,327.00 253.40,327.00 253.54,327.00 253.67,327.00 253.71,327.00 253.81,327.01 253.94,327.01 254.08,327.01 254.22,327.01 254.35,327.01 254.45,327.02 254.49,327.02 254.62,327.02 254.76,327.02 254.83,327.02 254.90,327.02 255.03,327.02 255.17,327.03 255.20,327.03 255.30,327.03 255.44,327.03 255.58,327.03 255.58,327.03 255.71,327.04 255.85,327.04 255.95,327.04 255.98,327.04 256.12,327.04 256.26,327.04 256.32,327.05 256.39,327.05 256.53,327.05 256.66,327.05 256.70,327.05 256.80,327.05 256.94,327.06 257.07,327.06 257.21,327.06 257.34,327.06 257.45,327.07 257.48,327.07 257.62,327.07 257.75,327.07 257.82,327.07 257.89,327.07 258.02,327.08 258.16,327.08 258.19,327.08 258.30,327.08 258.43,327.08 258.57,327.09 258.57,327.09 258.70,327.09 258.84,327.09 258.94,327.09 258.98,327.09 259.11,327.10 259.25,327.10 259.32,327.10 259.38,327.10 259.52,327.10 259.66,327.11 259.69,327.11 259.79,327.11 259.93,327.11 260.06,327.12 260.06,327.12 260.20,327.12 260.33,327.12 260.44,327.12 260.47,327.12 260.61,327.13 260.74,327.13 260.81,327.13 260.88,327.13 261.01,327.14 261.15,327.14 261.18,327.14 261.29,327.14 261.42,327.14 261.56,327.15 261.69,327.15 261.83,327.15 261.93,327.15 261.97,327.16 262.10,327.16 262.24,327.16 262.31,327.16 262.37,327.16 262.51,327.17 262.65,327.17 262.68,327.17 262.78,327.17 262.92,327.18 263.05,327.18 263.05,327.18 263.19,327.18 263.33,327.19 263.43,327.19 263.46,327.19 263.60,327.19 263.73,327.20 263.80,327.20 263.87,327.20 264.01,327.20 264.14,327.21 264.18,327.21 264.28,327.21 264.41,327.21 264.55,327.22 264.55,327.22 264.69,327.22 264.82,327.22 264.92,327.23 264.96,327.23 265.09,327.23 265.23,327.23 265.30,327.24 265.37,327.24 265.50,327.24 265.64,327.24 265.67,327.25 265.77,327.25 265.91,327.25 266.05,327.26 266.18,327.26 266.32,327.26 266.42,327.27 266.45,327.27 266.59,327.27 266.73,327.27 266.79,327.28 266.86,327.28 267.00,327.28 267.13,327.29 267.17,327.29 267.27,327.29 267.41,327.29 267.54,327.30 267.54,327.30 267.68,327.30 267.81,327.31 267.92,327.31 267.95,327.31 268.09,327.31 268.22,327.32 268.29,327.32 268.36,327.32 268.49,327.33 268.63,327.33 268.66,327.33 268.76,327.34 268.90,327.34 269.04,327.34 269.04,327.34 269.17,327.35 269.31,327.35 269.41,327.36 269.44,327.36 269.58,327.36 269.72,327.37 269.78,327.37 269.85,327.37 269.99,327.38 270.12,327.38 270.16,327.38 270.26,327.38 270.40,327.39 270.53,327.39 270.67,327.40 270.80,327.40 270.91,327.41 270.94,327.41 271.08,327.41 271.21,327.42 271.28,327.42 271.35,327.42 271.48,327.43 271.62,327.43 271.65,327.43 271.76,327.44 271.89,327.44 272.03,327.45 272.03,327.45 272.16,327.45 272.30,327.46 272.40,327.46 272.44,327.46 272.57,327.47 272.71,327.48 272.78,327.48 272.84,327.48 272.98,327.49 273.12,327.49 273.15,327.49 273.25,327.50 273.39,327.50 273.52,327.51 273.52,327.51 273.66,327.51 273.80,327.52 273.90,327.52 273.93,327.53 274.07,327.53 274.20,327.54 274.27,327.54 274.34,327.54 274.48,327.55 274.61,327.56 274.65,327.56 274.75,327.56 274.88,327.57 275.02,327.57 275.16,327.58 275.29,327.59 275.39,327.59 275.43,327.59 275.56,327.60 275.70,327.61 275.77,327.61 275.84,327.61 275.97,327.62 276.11,327.63 276.14,327.63 276.24,327.63 276.38,327.64 276.52,327.65 276.52,327.65 276.65,327.65 276.79,327.66 276.89,327.67 276.92,327.67 277.06,327.67 277.20,327.68 277.26,327.69 277.33,327.69 277.47,327.70 277.60,327.70 277.64,327.71 277.74,327.71 277.87,327.72 278.01,327.73 278.01,327.73 278.15,327.73 278.28,327.74 278.38,327.75 278.42,327.75 278.55,327.76 278.69,327.77 278.76,327.77 278.83,327.77 278.96,327.78 279.10,327.79 279.13,327.79 279.23,327.80 279.37,327.81 279.51,327.81 279.51,327.81 279.64,327.82 279.78,327.83 279.88,327.84 279.91,327.84 280.05,327.85 280.19,327.86 280.25,327.86 280.32,327.87 280.46,327.87 280.59,327.88 280.63,327.89 280.73,327.89 280.87,327.90 281.00,327.91 281.00,327.91 281.14,327.92 281.27,327.93 281.38,327.94 281.41,327.94 281.55,327.95 281.68,327.96 281.75,327.96 281.82,327.97 281.95,327.98 282.09,327.99 282.12,327.99 282.23,328.00 282.36,328.01 282.50,328.02 282.50,328.02 282.63,328.03 282.77,328.04 282.87,328.05 282.91,328.05 283.04,328.06 283.18,328.07 283.25,328.08 283.31,328.08 283.45,328.09 283.59,328.10 283.62,328.10 283.72,328.11 283.86,328.12 283.99,328.13 283.99,328.13 284.13,328.15 284.27,328.16 284.37,328.17 284.40,328.17 284.54,328.18 284.67,328.19 284.74,328.20 284.81,328.20 284.95,328.21 285.08,328.23 285.12,328.23 285.22,328.24 285.35,328.25 285.49,328.26 285.49,328.26 285.63,328.27 285.76,328.29 285.86,328.29 285.90,328.30 286.03,328.31 286.17,328.32 286.24,328.33 286.30,328.33 286.44,328.35 286.58,328.36 286.61,328.36 286.71,328.37 286.85,328.38 286.98,328.40 286.98,328.40 287.12,328.41 287.26,328.42 287.36,328.43 287.39,328.43 287.53,328.44 287.66,328.46 287.73,328.46 287.80,328.47 287.94,328.48 288.07,328.49 288.11,328.50 288.21,328.51 288.34,328.52 288.48,328.53 288.48,328.53 288.62,328.54 288.75,328.55 288.85,328.56 288.89,328.57 289.02,328.58 289.16,328.59 289.23,328.59 289.30,328.60 289.43,328.61 289.57,328.62 289.60,328.62 289.70,328.63 289.84,328.64 289.98,328.65 290.11,328.66 290.25,328.67 290.35,328.68 290.38,328.68 290.52,328.69 290.66,328.70 290.72,328.70 290.79,328.70 290.93,328.71 291.06,328.72 291.10,328.72 291.20,328.72 291.34,328.73 291.47,328.73 291.47,328.73 291.61,328.74 291.74,328.74 291.85,328.74 291.88,328.74 292.02,328.75 292.15,328.75 292.22,328.75 292.29,328.75 292.42,328.74 292.56,328.74 292.59,328.74 292.70,328.74 292.83,328.73 292.97,328.73 292.97,328.73 293.10,328.72 293.24,328.71 293.34,328.70 293.38,328.70 293.51,328.69 293.65,328.68 293.72,328.67 293.78,328.66 293.92,328.64 294.06,328.62 294.09,328.62 294.19,328.60 294.33,328.58 294.46,328.55 294.60,328.53 294.73,328.50 294.84,328.47 294.87,328.46 295.01,328.43 295.14,328.39 295.21,328.37 295.28,328.35 295.41,328.31 295.55,328.26 295.58,328.25 295.69,328.21 295.82,328.16 295.96,328.11 295.96,328.11 296.09,328.05 296.23,327.99 296.33,327.94 296.37,327.93 296.50,327.86 296.64,327.79 296.71,327.76 296.77,327.72 296.91,327.65 297.05,327.57 297.08,327.55 297.18,327.49 297.32,327.41 297.45,327.32 297.45,327.32 297.59,327.24 297.73,327.15 297.83,327.08 297.86,327.06 298.00,326.96 298.13,326.87 298.20,326.82 298.27,326.77 298.41,326.68 298.54,326.58 298.58,326.55 298.68,326.48 298.81,326.38 298.95,326.28 299.09,326.18 299.22,326.08 299.32,326.01 299.36,325.98 299.49,325.88 299.63,325.79 299.70,325.74 299.77,325.69 299.90,325.60 300.04,325.50 300.07,325.48 300.17,325.41 300.31,325.32 300.45,325.24 300.45,325.24 300.58,325.15 300.72,325.07 300.82,325.01 300.85,324.99 300.99,324.91 301.13,324.84 301.19,324.80 301.26,324.77 301.40,324.70 301.53,324.63 301.57,324.62 301.67,324.57 301.81,324.51 301.94,324.45 301.94,324.45 302.08,324.40 302.21,324.35 302.32,324.31 302.35,324.30 302.49,324.25 302.62,324.21 302.69,324.19 302.76,324.17 302.89,324.13 303.03,324.10 303.06,324.09 303.17,324.06 303.30,324.03 303.44,324.01 303.57,323.98 303.71,323.96 303.81,323.94 303.84,323.94 303.98,323.92 304.12,323.90 304.18,323.89 304.25,323.88 304.39,323.87 304.52,323.86 304.56,323.86 304.66,323.85 304.80,323.84 304.93,323.83 304.93,323.83 305.07,323.83 305.20,323.82 305.31,323.82 305.34,323.82 305.48,323.82 305.61,323.81 305.68,323.81 305.75,323.81 305.88,323.81 306.02,323.82 306.05,323.82 306.16,323.82 306.29,323.82 306.43,323.83 306.43,323.83 306.56,323.83 306.70,323.84 306.80,323.84 306.84,323.84 306.97,323.85 307.11,323.86 307.18,323.86 307.24,323.86 307.38,323.87 307.52,323.88 307.55,323.88 307.65,323.89 307.79,323.90 307.92,323.91 308.06,323.92 308.20,323.93 308.30,323.94 308.33,323.94 308.47,323.95 308.60,323.96 308.67,323.97 308.74,323.97 308.88,323.98 309.01,323.99 309.05,324.00 309.15,324.01 309.28,324.02 309.42,324.03 309.42,324.03 309.56,324.04 309.69,324.05 309.79,324.06 309.83,324.07 309.96,324.08 310.10,324.09 310.17,324.10 310.24,324.10 310.37,324.12 310.51,324.13 310.54,324.13 310.64,324.14 310.78,324.15 310.92,324.16 310.92,324.16 311.05,324.18 311.19,324.19 311.29,324.20 311.32,324.20 311.46,324.21 311.60,324.23 311.66,324.23 311.73,324.24 311.87,324.25 312.00,324.26 312.04,324.27 312.14,324.27 312.27,324.29 312.41,324.30 312.55,324.31 312.68,324.32 312.78,324.33 312.82,324.33 312.95,324.35 313.09,324.36 313.16,324.36 313.23,324.37 313.36,324.38 313.50,324.39 313.53,324.39 313.63,324.40 313.77,324.41 313.91,324.43 313.91,324.43 314.04,324.44 314.18,324.45 314.28,324.46 314.31,324.46 314.45,324.47 314.59,324.48 314.65,324.48 314.72,324.49 314.86,324.50 314.99,324.51 315.03,324.51 315.13,324.52 315.27,324.53 315.40,324.54 315.40,324.54 315.54,324.55 315.67,324.56 315.78,324.57 315.81,324.57 315.95,324.58 316.08,324.59 316.15,324.60 316.22,324.60 316.35,324.61 316.49,324.62 316.52,324.62 316.63,324.63 316.76,324.64 316.90,324.65 317.03,324.66 317.17,324.67 317.27,324.67 317.31,324.68 317.44,324.69 317.58,324.69 317.65,324.70 317.71,324.70 317.85,324.71 317.99,324.72 318.02,324.72 318.12,324.73 318.26,324.74 318.39,324.75 318.53,324.75 318.67,324.76 318.77,324.77 318.80,324.77 318.94,324.78 319.07,324.79 319.14,324.79 319.21,324.79 319.35,324.80 319.48,324.81 319.52,324.81 319.62,324.82 319.75,324.83 319.89,324.83 319.89,324.83 320.03,324.84 320.16,324.85 320.26,324.85 320.30,324.86 320.43,324.86 320.57,324.87 320.64,324.87 320.71,324.88 320.84,324.89 320.98,324.89 321.01,324.89 321.11,324.90 321.25,324.91 321.38,324.91 321.52,324.92 321.66,324.93 321.76,324.93 321.79,324.93 321.93,324.94 322.06,324.95 322.13,324.95 322.20,324.95 322.34,324.96 322.47,324.97 322.51,324.97 322.61,324.97 322.74,324.98 322.88,324.99 323.02,324.99 323.15,325.00 323.25,325.00 323.29,325.00 323.42,325.01 323.56,325.02 323.63,325.02 323.70,325.02 323.83,325.03 323.97,325.03 324.00,325.04 324.10,325.04 324.24,325.05 324.38,325.05 324.38,325.05 324.51,325.06 324.65,325.06 324.75,325.07 324.78,325.07 324.92,325.07 325.06,325.08 325.12,325.08 325.19,325.08 325.33,325.09 325.46,325.10 325.50,325.10 325.60,325.10 325.74,325.11 325.87,325.11 326.01,325.12 326.14,325.12 326.25,325.13 326.28,325.13 326.42,325.13 326.55,325.14 326.62,325.14 326.69,325.14 326.82,325.15 326.96,325.15 326.99,325.15 327.10,325.16 327.23,325.16 327.37,325.17 327.50,325.17 327.64,325.18 327.74,325.18 327.78,325.18 327.91,325.18 328.05,325.19 328.12,325.19 328.18,325.19 328.32,325.20 328.46,325.20 328.49,325.20 328.59,325.21 328.73,325.21 328.86,325.22 328.86,325.22 329.00,325.22 329.14,325.22 329.24,325.23 329.27,325.23 329.41,325.23 329.54,325.24 329.61,325.24 329.68,325.24 329.81,325.25 329.95,325.25 329.98,325.25 330.09,325.25 330.22,325.26 330.36,325.26 330.49,325.27 330.63,325.27 330.73,325.27 330.77,325.27 330.90,325.28 331.04,325.28 331.11,325.28 331.17,325.29 331.31,325.29 331.45,325.29 331.48,325.29 331.58,325.30 331.72,325.30 331.85,325.30 331.99,325.31 332.13,325.31 332.23,325.31 332.26,325.32 332.40,325.32 332.53,325.32 332.60,325.32 332.67,325.33 332.81,325.33 332.94,325.33 332.98,325.33 333.08,325.34 333.21,325.34 333.35,325.34 333.35,325.34 333.49,325.35 333.62,325.35 333.72,325.35 333.76,325.35 333.89,325.36 334.03,325.36 334.10,325.36 334.17,325.36 334.30,325.37 334.44,325.37 334.47,325.37 334.57,325.37 334.71,325.38 334.85,325.38 334.98,325.38 335.12,325.39 335.22,325.39 335.25,325.39 335.39,325.39 335.53,325.40 335.59,325.40 335.66,325.40 335.80,325.40 335.93,325.40 335.97,325.41 336.07,325.41 336.21,325.41 336.34,325.41 336.48,325.42 336.61,325.42 336.72,325.42 336.75,325.42 336.89,325.42 337.02,325.43 337.09,325.43 337.16,325.43 337.29,325.43 337.43,325.44 337.46,325.44 337.57,325.44 337.70,325.44 337.84,325.44 337.84,325.44 337.97,325.45 338.11,325.45 338.21,325.45 338.24,325.45 338.38,325.46 338.52,325.46 338.58,325.46 338.65,325.46 338.79,325.46 338.92,325.47 338.96,325.47 339.06,325.47 339.20,325.47 339.33,325.47 339.33,325.47 339.47,325.48 339.60,325.48 339.71,325.48 339.74,325.48 339.88,325.48 340.01,325.49 340.08,325.49 340.15,325.49 340.28,325.49 340.42,325.49 340.45,325.49 340.56,325.50 340.69,325.50 340.83,325.50 340.96,325.50 341.10,325.51 341.20,325.51 341.24,325.51 341.37,325.51 341.51,325.51 341.58,325.51 341.64,325.52 341.78,325.52 341.92,325.52 341.95,325.52 342.05,325.52 342.19,325.52 342.32,325.53 342.32,325.53 342.46,325.53 342.60,325.53 342.70,325.53 342.73,325.53 342.87,325.54 343.00,325.54 343.07,325.54 343.14,325.54 343.28,325.54 343.41,325.54 343.45,325.54 343.55,325.55 343.68,325.55 343.82,325.55 343.82,325.55 343.96,325.55 344.09,325.55 344.19,325.56 344.23,325.56 344.36,325.56 344.50,325.56 344.57,325.56 344.64,325.56 344.77,325.57 344.91,325.57 344.94,325.57 345.04,325.57 345.18,325.57 345.32,325.57 345.45,325.58 345.59,325.58 345.69,325.58 345.72,325.58 345.86,325.58 346.00,325.58 346.06,325.58 346.13,325.58 346.27,325.59 346.40,325.59 346.44,325.59 346.54,325.59 346.68,325.59 346.81,325.59 346.81,325.59 346.95,325.60 347.08,325.60 347.18,325.60 347.22,325.60 347.35,325.60 347.49,325.60 347.56,325.60 347.63,325.61 347.76,325.61 347.90,325.61 347.93,325.61 348.03,325.61 348.17,325.61 348.31,325.61 348.31,325.61 348.44,325.62 348.58,325.62 348.68,325.62 348.71,325.62 348.85,325.62 348.99,325.62 349.05,325.62 349.12,325.62 349.26,325.63 349.39,325.63 349.43,325.63 349.53,325.63 349.67,325.63 349.80,325.63 349.94,325.63 350.07,325.64 350.18,325.64 350.21,325.64 350.35,325.64 350.48,325.64 350.55,325.64 350.62,325.64 350.75,325.64 350.89,325.65 350.92,325.65 351.03,325.65 351.16,325.65 351.30,325.65 351.30,325.65 351.43,325.65 351.57,325.65 351.67,325.66 351.71,325.66 351.84,325.66 351.98,325.66 352.05,325.66 352.11,325.66 352.25,325.66 352.39,325.66 352.42,325.66 352.52,325.66 352.66,325.67 352.79,325.67 352.79,325.67 352.93,325.67 353.07,325.67 353.17,325.67 353.20,325.67 353.34,325.67 353.54,325.68 353.92,325.68 354.29,325.68 354.66,325.69 355.04,325.69 355.41,325.70 355.78,325.70 356.16,325.70 356.53,325.71 356.91,325.71 357.28,325.71 357.65,325.72 358.03,325.72 358.40,325.72 358.78,325.73 359.15,325.73 359.52,325.73 359.90,325.74 360.27,325.74 360.65,325.74 361.02,325.75 361.39,325.75 361.77,325.75 362.14,325.76 362.52,325.76 362.89,325.76 363.26,325.77 363.64,325.77 364.01,325.77 364.38,325.77 364.76,325.78 365.13,325.78 365.51,325.78 365.88,325.78 366.25,325.79 366.63,325.79 367.00,325.79 367.38,325.80 367.75,325.80 368.12,325.80 368.50,325.80 368.87,325.81 369.25,325.81 369.62,325.81 369.99,325.81 370.37,325.82 370.74,325.82 371.12,325.82 371.49,325.82 371.86,325.82 372.24,325.83 372.61,325.83 372.98,325.83 373.36,325.83 373.73,325.84 374.11,325.84 374.48,325.84 374.85,325.84 375.23,325.84 375.60,325.85 375.98,325.85 376.35,325.85 376.72,325.85 377.10,325.85 377.47,325.86 377.85,325.86 378.22,325.86 378.59,325.86 378.97,325.86 379.34,325.87 379.72,325.87 380.09,325.87 380.46,325.87 380.84,325.87 381.21,325.88 381.59,325.88 381.96,325.88 382.33,325.88 382.71,325.88 383.08,325.88 383.45,325.89 383.83,325.89 384.20,325.89 384.58,325.89 384.95,325.89 385.32,325.89 385.70,325.90 386.07,325.90 386.45,325.90 386.82,325.90 387.19,325.90 387.57,325.90 387.94,325.91 388.32,325.91 388.69,325.91 389.06,325.91 389.44,325.91 389.81,325.91 390.19,325.92 390.56,325.92 390.93,325.92 391.31,325.92 391.68,325.92 392.05,325.92 392.43,325.92 392.80,325.93 393.18,325.93 393.55,325.93 393.92,325.93 394.30,325.93 394.67,325.93 395.05,325.93 395.42,325.93 395.79,325.94 396.17,325.94 396.54,325.94 396.92,325.94 397.29,325.94 397.66,325.94 398.04,325.94 398.41,325.94 398.79,325.95 399.16,325.95 399.53,325.95 399.91,325.95 400.28,325.95 400.65,325.95 401.03,325.95 401.40,325.95 401.78,325.96 402.15,325.96 402.52,325.96 402.90,325.96 403.27,325.96 403.65,325.96 404.02,325.96 404.39,325.96 404.77,325.96 405.14,325.97 405.52,325.97 405.89,325.97 406.26,325.97 406.64,325.97 407.01,325.97 407.39,325.97 407.76,325.97 408.13,325.97 408.51,325.98 408.88,325.98 409.25,325.98 409.63,325.98 410.00,325.98 410.38,325.98 410.75,325.98 411.12,325.98 411.50,325.98 411.87,325.98 412.25,325.99 412.62,325.99 412.99,325.99 413.37,325.99 413.74,325.99 414.12,325.99 414.49,325.99 414.86,325.99 415.24,325.99 415.61,325.99 415.99,325.99 416.36,326.00 416.73,326.00 417.11,326.00 417.48,326.00 417.85,326.00 418.23,326.00 418.60,326.00 418.98,326.00 419.35,326.00 419.72,326.00 420.10,326.00 420.47,326.01 420.85,326.01 421.22,326.01 421.59,326.01 421.97,326.01 422.34,326.01 422.72,326.01 423.09,326.01 423.46,326.01 423.84,326.01 424.21,326.01 424.59,326.01 424.96,326.02 425.33,326.02 425.71,326.02 426.08,326.02 426.45,326.02 426.83,326.02 427.20,326.02 427.58,326.02 427.95,326.02 428.32,326.02 428.70,326.02 429.07,326.02 429.45,326.02 429.82,326.02 430.19,326.03 430.57,326.03 430.94,326.03 431.32,326.03 431.69,326.03 432.06,326.03 432.44,326.03 432.81,326.03 433.19,326.03 433.56,326.03 433.93,326.03 434.31,326.03 434.68,326.03 435.05,326.03 435.43,326.04 435.80,326.04 436.18,326.04 436.55,326.04 436.92,326.04 437.30,326.04 437.67,326.04 438.05,326.04 438.42,326.04 438.79,326.04 439.17,326.04 439.54,326.04 439.92,326.04 440.29,326.04 440.66,326.04 441.04,326.04 441.41,326.05 441.79,326.05 442.16,326.05 442.53,326.05 442.91,326.05 443.28,326.05 443.65,326.05 444.03,326.05 444.40,326.05 444.78,326.05 445.15,326.05 445.52,326.05 445.90,326.05 446.27,326.05 446.65,326.05 447.02,326.05 447.39,326.05 447.77,326.06 448.14,326.06 448.52,326.06"/>
<polyline stroke="#EBB024" stroke-width="3.0" points="95.00,327.10 95.51,327.10 96.02,327.10 96.53,327.11 97.04,327.11 97.55,327.11 98.06,327.11 98.57,327.11 99.08,327.12 99.59,327.12 100.10,327.12 100.61,327.12 101.12,327.13 101.63,327.13 102.14,327.13 102.65,327.13 103.16,327.13 103.66,327.14 104.17,327.14 104.68,327.14 105.19,327.14 105.70,327.15 106.21,327.15 106.72,327.15 107.23,327.15 107.74,327.15 108.25,327.16 108.76,327.16 109.27,327.16 109.78,327.16 110.29,327.17 110.80,327.17 111.31,327.17 111.82,327.17 112.33,327.18 112.84,327.18 113.35,327.18 113.86,327.18 114.37,327.19 114.88,327.19 115.39,327.19 115.90,327.19 116.41,327.20 116.92,327.20 117.43,327.20 117.94,327.20 118.45,327.21 118.96,327.21 119.47,327.21 119.98,327.21 120.49,327.22 121.00,327.22 121.51,327.22 122.02,327.22 122.53,327.23 123.04,327.23 123.55,327.23 124.06,327.24 124.57,327.24 125.08,327.24 125.59,327.24 126.10,327.25 126.61,327.25 127.12,327.25 127.63,327.26 128.14,327.26 128.65,327.26 129.16,327.26 129.67,327.27 130.18,327.27 130.69,327.27 131.20,327.28 131.71,327.28 132.22,327.28 132.73,327.29 133.24,327.29 133.75,327.29 134.26,327.29 134.77,327.30 135.28,327.30 135.79,327.30 136.30,327.31 136.81,327.31 137.32,327.31 137.83,327.32 138.34,327.32 138.85,327.32 139.36,327.33 139.87,327.33 140.38,327.33 140.89,327.34 141.40,327.34 141.91,327.34 142.42,327.35 142.93,327.35 143.44,327.35 143.95,327.36 144.46,327.36 144.97,327.36 145.48,327.37 145.99,327.37 146.50,327.38 147.00,327.38 147.51,327.38 148.02,327.39 148.53,327.39 149.04,327.39 149.55,327.40 150.06,327.40 150.57,327.41 151.08,327.41 151.59,327.41 152.10,327.42 152.61,327.42 153.12,327.43 153.63,327.43 154.14,327.43 154.65,327.44 155.16,327.44 155.67,327.45 156.18,327.45 156.69,327.45 157.20,327.46 157.71,327.46 158.22,327.47 158.73,327.47 159.24,327.48 159.75,327.48 160.26,327.48 160.77,327.49 161.28,327.49 161.79,327.50 162.30,327.50 162.81,327.51 163.32,327.51 163.83,327.52 164.34,327.52 164.85,327.52 165.36,327.53 165.87,327.53 166.38,327.54 166.89,327.54 167.40,327.55 167.91,327.55 168.42,327.56 168.93,327.56 169.44,327.57 169.95,327.57 170.46,327.58 170.97,327.58 171.48,327.59 171.99,327.59 172.50,327.60 173.01,327.61 173.52,327.61 174.03,327.62 174.54,327.62 175.05,327.63 175.56,327.63 176.07,327.64 176.58,327.64 177.09,327.65 177.60,327.65 178.11,327.66 178.62,327.67 179.13,327.67 179.64,327.68 180.15,327.68 180.66,327.69 181.17,327.70 181.68,327.70 182.19,327.71 182.70,327.71 183.21,327.72 183.72,327.73 184.23,327.73 184.74,327.74 185.25,327.75 185.76,327.75 186.27,327.76 186.78,327.77 187.29,327.77 187.80,327.78 188.31,327.79 188.82,327.79 189.33,327.80 189.84,327.81 190.34,327.81 190.85,327.82 191.36,327.83 191.87,327.84 192.38,327.84 192.89,327.85 193.40,327.86 193.91,327.87 194.42,327.87 194.93,327.88 195.44,327.89 195.95,327.90 196.46,327.91 196.97,327.91 197.48,327.92 197.99,327.93 198.50,327.94 199.01,327.95 199.52,327.96 200.03,327.96 200.54,327.97 201.05,327.98 201.56,327.99 202.07,328.00 202.58,328.01 203.09,328.02 203.60,328.03 204.11,328.04 204.62,328.04 205.13,328.05 205.64,328.06 206.15,328.07 206.66,328.08 207.17,328.09 207.68,328.10 208.19,328.11 208.70,328.12 209.21,328.13 209.72,328.14 210.23,328.16 210.74,328.17 211.25,328.18 211.76,328.19 212.27,328.20 212.78,328.21 213.29,328.22 213.80,328.23 214.31,328.24 214.82,328.26 215.33,328.27 215.84,328.28 216.35,328.29 216.86,328.30 217.37,328.32 217.88,328.33 218.39,328.34 218.90,328.36 219.41,328.37 219.92,328.38 220.43,328.39 220.94,328.41 221.45,328.42 221.96,328.44 222.47,328.45 222.98,328.46 223.49,328.48 224.00,328.49 224.51,328.51 225.02,328.52 225.53,328.54 226.04,328.55 226.55,328.57 227.06,328.59 227.57,328.60 228.08,328.62 228.59,328.64 229.10,328.65 229.61,328.67 230.12,328.69 230.63,328.70 231.14,328.72 231.65,328.74 232.16,328.76 232.67,328.78 233.18,328.80 233.69,328.82 234.19,328.83 234.70,328.85 235.21,328.87 235.72,328.90 236.23,328.92 236.74,328.94 237.25,328.96 237.76,328.98 238.27,329.00 238.78,329.02 239.29,329.05 239.80,329.07 240.31,329.09 240.82,329.12 241.33,329.14 241.84,329.17 242.35,329.19 242.86,329.22 243.37,329.24 243.88,329.27 244.39,329.30 244.56,329.31 244.70,329.31 244.83,329.32 244.90,329.33 244.97,329.33 245.11,329.34 245.24,329.34 245.38,329.35 245.41,329.35 245.51,329.36 245.65,329.37 245.79,329.37 245.92,329.38 245.92,329.38 246.06,329.39 246.19,329.40 246.33,329.41 246.43,329.41 246.47,329.41 246.60,329.42 246.74,329.43 246.87,329.44 246.94,329.44 247.01,329.44 247.15,329.45 247.28,329.46 247.42,329.47 247.45,329.47 247.55,329.48 247.69,329.49 247.83,329.49 247.96,329.50 248.10,329.51 248.23,329.52 248.37,329.53 248.47,329.53 248.51,329.53 248.64,329.54 248.78,329.55 248.91,329.56 248.98,329.56 249.05,329.57 249.19,329.58 249.32,329.59 249.46,329.60 249.49,329.60 249.59,329.60 249.73,329.61 249.87,329.62 250.00,329.63 250.00,329.63 250.14,329.64 250.27,329.65 250.41,329.66 250.51,329.66 250.55,329.67 250.68,329.68 250.82,329.68 250.95,329.69 251.02,329.70 251.09,329.70 251.22,329.71 251.36,329.72 251.50,329.73 251.53,329.73 251.63,329.74 251.77,329.75 251.90,329.76 252.04,329.77 252.04,329.77 252.18,329.78 252.31,329.79 252.45,329.80 252.55,329.81 252.58,329.81 252.72,329.82 252.86,329.83 252.99,329.84 253.06,329.84 253.13,329.85 253.26,329.86 253.40,329.87 253.54,329.88 253.57,329.88 253.67,329.89 253.81,329.90 253.94,329.91 254.08,329.92 254.08,329.92 254.22,329.93 254.35,329.94 254.49,329.95 254.59,329.96 254.62,329.96 254.76,329.97 254.90,329.99 255.03,330.00 255.10,330.00 255.17,330.01 255.30,330.02 255.44,330.03 255.58,330.04 255.61,330.04 255.71,330.05 255.85,330.06 255.98,330.07 256.12,330.09 256.12,330.09 256.26,330.10 256.39,330.11 256.53,330.12 256.63,330.13 256.66,330.13 256.80,330.14 256.94,330.16 257.07,330.17 257.14,330.17 257.21,330.18 257.34,330.19 257.48,330.20 257.62,330.22 257.65,330.22 257.75,330.23 257.89,330.24 258.02,330.25 258.16,330.27 258.30,330.28 258.43,330.29 258.57,330.30 258.67,330.31 258.70,330.32 258.84,330.33 258.98,330.34 259.11,330.35 259.18,330.36 259.25,330.37 259.38,330.38 259.52,330.39 259.66,330.41 259.69,330.41 259.79,330.42 259.93,330.43 260.06,330.45 260.20,330.46 260.33,330.48 260.47,330.49 260.61,330.50 260.71,330.51 260.74,330.52 260.88,330.53 261.01,330.55 261.15,330.56 261.22,330.57 261.29,330.57 261.42,330.59 261.56,330.60 261.69,330.62 261.73,330.62 261.83,330.63 261.97,330.65 262.10,330.66 262.24,330.68 262.24,330.68 262.37,330.69 262.51,330.71 262.65,330.72 262.75,330.74 262.78,330.74 262.92,330.76 263.05,330.77 263.19,330.79 263.26,330.79 263.33,330.80 263.46,330.82 263.60,330.83 263.73,330.85 263.77,330.86 263.87,330.87 264.01,330.88 264.14,330.90 264.28,330.92 264.28,330.92 264.41,330.93 264.55,330.95 264.69,330.97 264.79,330.98 264.82,330.99 264.96,331.00 265.09,331.02 265.23,331.04 265.30,331.05 265.37,331.06 265.50,331.07 265.64,331.09 265.77,331.11 265.81,331.11 265.91,331.13 266.05,331.15 266.18,331.16 266.32,331.18 266.32,331.18 266.45,331.20 266.59,331.22 266.73,331.24 266.83,331.25 266.86,331.26 267.00,331.28 267.13,331.30 267.27,331.32 267.34,331.33 267.41,331.34 267.54,331.36 267.68,331.38 267.81,331.40 267.85,331.40 267.95,331.42 268.09,331.44 268.22,331.46 268.36,331.48 268.49,331.50 268.63,331.52 268.76,331.54 268.87,331.56 268.90,331.56 269.04,331.58 269.17,331.61 269.31,331.63 269.38,331.64 269.44,331.65 269.58,331.67 269.72,331.69 269.85,331.72 269.89,331.72 269.99,331.74 270.12,331.76 270.26,331.79 270.40,331.81 270.53,331.83 270.67,331.86 270.80,331.88 270.91,331.90 270.94,331.90 271.08,331.93 271.21,331.95 271.35,331.98 271.42,331.99 271.48,332.00 271.62,332.03 271.76,332.05 271.89,332.08 271.93,332.08 272.03,332.10 272.16,332.13 272.30,332.16 272.44,332.18 272.44,332.18 272.57,332.21 272.71,332.23 272.84,332.26 272.95,332.28 272.98,332.29 273.12,332.32 273.25,332.34 273.39,332.37 273.46,332.39 273.52,332.40 273.66,332.43 273.80,332.46 273.93,332.49 273.97,332.49 274.07,332.51 274.20,332.54 274.34,332.57 274.48,332.60 274.48,332.60 274.61,332.63 274.75,332.66 274.88,332.69 274.99,332.72 275.02,332.72 275.16,332.76 275.29,332.79 275.43,332.82 275.50,332.84 275.56,332.85 275.70,332.88 275.84,332.92 275.97,332.95 276.01,332.96 276.11,332.98 276.24,333.02 276.38,333.05 276.52,333.08 276.52,333.08 276.65,333.12 276.79,333.15 276.92,333.19 277.03,333.21 277.06,333.22 277.20,333.26 277.33,333.29 277.47,333.33 277.53,333.35 277.60,333.37 277.74,333.40 277.87,333.44 278.01,333.48 278.04,333.49 278.15,333.51 278.28,333.55 278.42,333.59 278.55,333.63 278.69,333.67 278.83,333.71 278.96,333.75 279.06,333.78 279.10,333.79 279.23,333.83 279.37,333.87 279.51,333.91 279.57,333.93 279.64,333.95 279.78,334.00 279.91,334.04 280.05,334.08 280.08,334.09 280.19,334.13 280.32,334.17 280.46,334.21 280.59,334.26 280.59,334.26 280.73,334.30 280.87,334.35 281.00,334.39 281.10,334.43 281.14,334.44 281.27,334.49 281.41,334.53 281.55,334.58 281.61,334.61 281.68,334.63 281.82,334.68 281.95,334.73 282.09,334.78 282.12,334.79 282.23,334.83 282.36,334.88 282.50,334.93 282.63,334.98 282.63,334.98 282.77,335.03 282.91,335.08 283.04,335.13 283.14,335.17 283.18,335.19 283.31,335.24 283.45,335.29 283.59,335.35 283.65,335.37 283.72,335.40 283.86,335.46 283.99,335.51 284.13,335.57 284.16,335.58 284.27,335.63 284.40,335.68 284.54,335.74 284.67,335.80 284.67,335.80 284.81,335.86 284.95,335.91 285.08,335.97 285.18,336.02 285.22,336.03 285.35,336.09 285.49,336.15 285.63,336.21 285.69,336.25 285.76,336.28 285.90,336.34 286.03,336.40 286.17,336.46 286.20,336.48 286.30,336.53 286.44,336.59 286.58,336.65 286.71,336.72 286.71,336.72 286.85,336.78 286.98,336.84 287.12,336.91 287.22,336.96 287.26,336.97 287.39,337.04 287.53,337.10 287.66,337.17 287.73,337.20 287.80,337.24 287.94,337.30 288.07,337.37 288.21,337.43 288.24,337.45 288.34,337.50 288.48,337.57 288.62,337.63 288.75,337.70 288.89,337.76 289.02,337.83 289.16,337.89 289.26,337.94 289.30,337.96 289.43,338.02 289.57,338.09 289.70,338.15 289.77,338.18 289.84,338.21 289.98,338.27 290.11,338.33 290.25,338.39 290.28,338.41 290.38,338.45 290.52,338.51 290.66,338.57 290.79,338.62 290.79,338.62 290.93,338.68 291.06,338.73 291.20,338.78 291.30,338.82 291.34,338.83 291.47,338.87 291.61,338.92 291.74,338.96 291.81,338.98 291.88,339.00 292.02,339.03 292.15,339.06 292.29,339.09 292.32,339.10 292.42,339.12 292.56,339.14 292.70,339.15 292.83,339.17 292.83,339.17 292.97,339.17 293.10,339.17 293.24,339.17 293.34,339.16 293.38,339.16 293.51,339.14 293.65,339.12 293.78,339.08 293.85,339.06 293.92,339.04 294.06,338.99 294.19,338.93 294.33,338.87 294.36,338.85 294.46,338.79 294.60,338.70 294.73,338.60 294.87,338.48 294.87,338.48 295.01,338.36 295.14,338.21 295.28,338.06 295.38,337.93 295.41,337.89 295.55,337.70 295.69,337.49 295.82,337.27 295.89,337.15 295.96,337.02 296.09,336.76 296.23,336.48 296.37,336.17 296.40,336.09 296.50,335.85 296.64,335.50 296.77,335.12 296.91,334.73 296.91,334.73 297.05,334.31 297.18,333.86 297.32,333.39 297.42,333.03 297.45,332.90 297.59,332.39 297.73,331.85 297.86,331.29 297.93,331.00 298.00,330.71 298.13,330.11 298.27,329.50 298.41,328.87 298.44,328.72 298.54,328.24 298.68,327.59 298.81,326.94 298.95,326.28 299.09,325.62 299.22,324.97 299.36,324.32 299.46,323.84 299.49,323.69 299.63,323.06 299.77,322.45 299.90,321.85 299.97,321.56 300.04,321.27 300.17,320.71 300.31,320.17 300.45,319.66 300.48,319.53 300.58,319.17 300.72,318.70 300.85,318.25 300.99,317.83 300.99,317.83 301.13,317.44 301.26,317.06 301.40,316.71 301.50,316.47 301.53,316.39 301.67,316.08 301.81,315.80 301.94,315.54 302.01,315.41 302.08,315.29 302.21,315.07 302.35,314.86 302.49,314.67 302.52,314.63 302.62,314.50 302.76,314.35 302.89,314.20 303.03,314.08 303.03,314.08 303.17,313.96 303.30,313.86 303.44,313.77 303.54,313.71 303.57,313.69 303.71,313.63 303.84,313.57 303.98,313.52 304.05,313.50 304.12,313.48 304.25,313.44 304.39,313.42 304.52,313.40 304.56,313.40 304.66,313.39 304.80,313.39 304.93,313.39 305.07,313.39 305.07,313.39 305.20,313.41 305.34,313.42 305.48,313.44 305.58,313.46 305.61,313.47 305.75,313.50 305.88,313.53 306.02,313.56 306.09,313.58 306.16,313.60 306.29,313.64 306.43,313.69 306.56,313.73 306.60,313.74 306.70,313.78 306.84,313.83 306.97,313.88 307.11,313.94 307.11,313.94 307.24,313.99 307.38,314.05 307.52,314.11 307.62,314.15 307.65,314.17 307.79,314.23 307.92,314.29 308.06,314.35 308.13,314.38 308.20,314.41 308.33,314.47 308.47,314.54 308.60,314.60 308.64,314.62 308.74,314.67 308.88,314.73 309.01,314.80 309.15,314.86 309.28,314.93 309.42,314.99 309.56,315.06 309.66,315.11 309.69,315.13 309.83,315.19 309.96,315.26 310.10,315.32 310.17,315.36 310.24,315.39 310.37,315.46 310.51,315.52 310.64,315.59 310.68,315.60 310.78,315.65 310.92,315.72 311.05,315.78 311.19,315.84 311.19,315.84 311.32,315.91 311.46,315.97 311.60,316.03 311.70,316.08 311.73,316.10 311.87,316.16 312.00,316.22 312.14,316.28 312.21,316.31 312.27,316.35 312.41,316.41 312.55,316.47 312.68,316.53 312.72,316.54 312.82,316.59 312.95,316.65 313.09,316.70 313.23,316.76 313.23,316.76 313.36,316.82 313.50,316.88 313.63,316.93 313.74,316.98 313.77,316.99 313.91,317.05 314.04,317.10 314.18,317.16 314.25,317.19 314.31,317.21 314.45,317.27 314.59,317.32 314.72,317.37 314.76,317.39 314.86,317.43 314.99,317.48 315.13,317.53 315.27,317.58 315.27,317.58 315.40,317.63 315.54,317.68 315.67,317.73 315.78,317.77 315.81,317.78 315.95,317.83 316.08,317.88 316.22,317.93 316.29,317.95 316.35,317.98 316.49,318.03 316.63,318.07 316.76,318.12 316.80,318.13 316.90,318.17 317.03,318.21 317.17,318.26 317.31,318.30 317.31,318.30 317.44,318.35 317.58,318.39 317.71,318.43 317.82,318.47 317.85,318.48 317.99,318.52 318.12,318.56 318.26,318.61 318.33,318.63 318.39,318.65 318.53,318.69 318.67,318.73 318.80,318.77 318.84,318.78 318.94,318.81 319.07,318.85 319.21,318.89 319.35,318.93 319.48,318.97 319.62,319.01 319.75,319.05 319.86,319.07 319.89,319.08 320.03,319.12 320.16,319.16 320.30,319.19 320.37,319.21 320.43,319.23 320.57,319.27 320.71,319.30 320.84,319.34 320.87,319.35 320.98,319.37 321.11,319.41 321.25,319.44 321.38,319.48 321.38,319.48 321.52,319.51 321.66,319.54 321.79,319.58 321.89,319.60 321.93,319.61 322.06,319.64 322.20,319.68 322.34,319.71 322.40,319.72 322.47,319.74 322.61,319.77 322.74,319.80 322.88,319.84 322.91,319.84 323.02,319.87 323.15,319.90 323.29,319.93 323.42,319.96 323.42,319.96 323.56,319.99 323.70,320.02 323.83,320.05 323.93,320.07 323.97,320.07 324.10,320.10 324.24,320.13 324.38,320.16 324.44,320.17 324.51,320.19 324.65,320.22 324.78,320.24 324.92,320.27 324.95,320.28 325.06,320.30 325.19,320.33 325.33,320.35 325.46,320.38 325.46,320.38 325.60,320.40 325.74,320.43 325.87,320.46 325.97,320.48 326.01,320.48 326.14,320.51 326.28,320.53 326.42,320.56 326.48,320.57 326.55,320.58 326.69,320.61 326.82,320.63 326.96,320.66 326.99,320.66 327.10,320.68 327.23,320.70 327.37,320.73 327.50,320.75 327.50,320.75 327.64,320.77 327.78,320.80 327.91,320.82 328.01,320.84 328.05,320.84 328.18,320.87 328.32,320.89 328.46,320.91 328.52,320.92 328.59,320.93 328.73,320.95 328.86,320.98 329.00,321.00 329.03,321.00 329.14,321.02 329.27,321.04 329.41,321.06 329.54,321.08 329.68,321.10 329.81,321.12 329.95,321.14 330.05,321.16 330.09,321.16 330.22,321.18 330.36,321.20 330.49,321.22 330.56,321.23 330.63,321.24 330.77,321.26 330.90,321.28 331.04,321.30 331.07,321.31 331.17,321.32 331.31,321.34 331.45,321.36 331.58,321.38 331.58,321.38 331.72,321.40 331.85,321.41 331.99,321.43 332.09,321.45 332.13,321.45 332.26,321.47 332.40,321.49 332.53,321.50 332.60,321.51 332.67,321.52 332.81,321.54 332.94,321.56 333.08,321.57 333.11,321.58 333.21,321.59 333.35,321.61 333.49,321.63 333.62,321.64 333.62,321.64 333.76,321.66 333.89,321.68 334.03,321.69 334.13,321.70 334.17,321.71 334.30,321.73 334.44,321.74 334.57,321.76 334.64,321.77 334.71,321.77 334.85,321.79 334.98,321.80 335.12,321.82 335.15,321.82 335.25,321.84 335.39,321.85 335.53,321.87 335.66,321.88 335.66,321.88 335.80,321.90 335.93,321.91 336.07,321.93 336.17,321.94 336.21,321.94 336.34,321.96 336.48,321.97 336.61,321.99 336.68,321.99 336.75,322.00 336.89,322.01 337.02,322.03 337.16,322.04 337.19,322.05 337.29,322.06 337.43,322.07 337.57,322.08 337.70,322.10 337.70,322.10 337.84,322.11 337.97,322.13 338.11,322.14 338.21,322.15 338.24,322.15 338.38,322.17 338.52,322.18 338.65,322.19 338.72,322.20 338.79,322.21 338.92,322.22 339.06,322.23 339.20,322.24 339.23,322.25 339.33,322.26 339.47,322.27 339.60,322.28 339.74,322.29 339.88,322.31 340.01,322.32 340.15,322.33 340.25,322.34 340.28,322.34 340.42,322.36 340.56,322.37 340.69,322.38 340.76,322.39 340.83,322.39 340.96,322.40 341.10,322.42 341.24,322.43 341.27,322.43 341.37,322.44 341.51,322.45 341.64,322.46 341.78,322.47 341.78,322.47 341.92,322.49 342.05,322.50 342.19,322.51 342.29,322.52 342.32,322.52 342.46,322.53 342.60,322.54 342.73,322.55 342.80,322.56 342.87,322.56 343.00,322.57 343.14,322.59 343.28,322.60 343.31,322.60 343.41,322.61 343.55,322.62 343.68,322.63 343.82,322.64 343.82,322.64 343.96,322.65 344.09,322.66 344.23,322.67 344.33,322.68 344.36,322.68 344.50,322.69 344.64,322.70 344.77,322.71 344.84,322.72 344.91,322.72 345.04,322.73 345.18,322.74 345.32,322.75 345.35,322.75 345.45,322.76 345.59,322.77 345.72,322.78 345.86,322.79 345.86,322.79 346.00,322.80 346.13,322.81 346.27,322.82 346.37,322.83 346.40,322.83 346.54,322.84 346.68,322.85 346.81,322.86 346.88,322.86 346.95,322.87 347.08,322.88 347.22,322.88 347.35,322.89 347.39,322.90 347.49,322.90 347.63,322.91 347.76,322.92 347.90,322.93 347.90,322.93 348.03,322.94 348.17,322.95 348.31,322.96 348.41,322.96 348.44,322.96 348.58,322.97 348.71,322.98 348.85,322.99 348.92,323.00 348.99,323.00 349.12,323.01 349.26,323.02 349.39,323.03 349.43,323.03 349.53,323.03 349.67,323.04 349.80,323.05 349.94,323.06 350.07,323.07 350.21,323.07 350.35,323.08 350.45,323.09 350.48,323.09 350.62,323.10 350.75,323.11 350.89,323.12 350.96,323.12 351.03,323.12 351.16,323.13 351.30,323.14 351.43,323.15 351.47,323.15 351.57,323.15 351.71,323.16 351.84,323.17 351.98,323.18 351.98,323.18 352.11,323.19 352.25,323.19 352.39,323.20 352.49,323.21 352.52,323.21 352.66,323.22 352.79,323.22 352.93,323.23 353.00,323.23 353.07,323.24 353.20,323.25 353.34,323.25 353.51,323.26 354.02,323.29 354.53,323.32 355.04,323.34 355.55,323.37 356.06,323.39 356.57,323.42 357.08,323.44 357.59,323.47 358.10,323.49 358.61,323.51 359.12,323.54 359.63,323.56 360.14,323.58 360.65,323.60 361.16,323.62 361.67,323.64 362.18,323.66 362.69,323.69 363.20,323.71 363.71,323.73 364.22,323.74 364.72,323.76 365.23,323.78 365.74,323.80 366.25,323.82 366.76,323.84 367.27,323.86 367.78,323.87 368.29,323.89 368.80,323.91 369.31,323.92 369.82,323.94 370.33,323.96 370.84,323.97 371.35,323.99 371.86,324.01 372.37,324.02 372.88,324.04 373.39,324.05 373.90,324.07 374.41,324.08 374.92,324.10 375.43,324.11 375.94,324.12 376.45,324.14 376.96,324.15 377.47,324.17 377.98,324.18 378.49,324.19 379.00,324.20 379.51,324.22 380.02,324.23 380.53,324.24 381.04,324.26 381.55,324.27 382.06,324.28 382.57,324.29 383.08,324.30 383.59,324.32 384.10,324.33 384.61,324.34 385.12,324.35 385.63,324.36 386.14,324.37 386.65,324.38 387.16,324.39 387.67,324.40 388.18,324.42 388.69,324.43 389.20,324.44 389.71,324.45 390.22,324.46 390.73,324.47 391.24,324.48 391.75,324.49 392.26,324.50 392.77,324.51 393.28,324.52 393.79,324.52 394.30,324.53 394.81,324.54 395.32,324.55 395.83,324.56 396.34,324.57 396.85,324.58 397.36,324.59 397.87,324.60 398.38,324.60 398.89,324.61 399.40,324.62 399.91,324.63 400.42,324.64 400.93,324.65 401.44,324.65 401.95,324.66 402.46,324.67 402.97,324.68 403.48,324.69 403.99,324.69 404.50,324.70 405.01,324.71 405.52,324.72 406.03,324.72 406.54,324.73 407.05,324.74 407.56,324.75 408.06,324.75 408.57,324.76 409.08,324.77 409.59,324.77 410.10,324.78 410.61,324.79 411.12,324.79 411.63,324.80 412.14,324.81 412.65,324.81 413.16,324.82 413.67,324.83 414.18,324.83 414.69,324.84 415.20,324.85 415.71,324.85 416.22,324.86 416.73,324.86 417.24,324.87 417.75,324.88 418.26,324.88 418.77,324.89 419.28,324.89 419.79,324.90 420.30,324.91 420.81,324.91 421.32,324.92 421.83,324.92 422.34,324.93 422.85,324.93 423.36,324.94 423.87,324.94 424.38,324.95 424.89,324.95 425.40,324.96 425.91,324.97 426.42,324.97 426.93,324.98 427.44,324.98 427.95,324.99 428.46,324.99 428.97,325.00 429.48,325.00 429.99,325.01 430.50,325.01 431.01,325.02 431.52,325.02 432.03,325.03 432.54,325.03 433.05,325.04 433.56,325.04 434.07,325.04 434.58,325.05 435.09,325.05 435.60,325.06 436.11,325.06 436.62,325.07 437.13,325.07 437.64,325.08 438.15,325.08 438.66,325.08 439.17,325.09 439.68,325.09 440.19,325.10 440.70,325.10 441.21,325.11 441.72,325.11 442.23,325.11 442.74,325.12 443.25,325.12 443.76,325.13 444.27,325.13 444.78,325.13 445.29,325.14 445.80,325.14 446.31,325.15 446.82,325.15 447.33,325.15 447.84,325.16 448.35,325.16 448.86,325.17 449.37,325.17 449.88,325.17 450.39,325.18 450.90,325.18 451.40,325.18 451.91,325.19 452.42,325.19 452.93,325.20 453.44,325.20 453.95,325.20 454.46,325.21 454.97,325.21 455.48,325.21 455.99,325.22 456.50,325.22 457.01,325.22 457.52,325.23 458.03,325.23 458.54,325.23 459.05,325.24 459.56,325.24 460.07,325.24 460.58,325.25 461.09,325.25 461.60,325.25 462.11,325.26 462.62,325.26 463.13,325.26 463.64,325.27 464.15,325.27 464.66,325.27 465.17,325.27 465.68,325.28 466.19,325.28 466.70,325.28 467.21,325.29 467.72,325.29 468.23,325.29 468.74,325.30 469.25,325.30 469.76,325.30 470.27,325.30 470.78,325.31 471.29,325.31 471.80,325.31 472.31,325.32 472.82,325.32 473.33,325.32 473.84,325.32 474.35,325.33 474.86,325.33 475.37,325.33 475.88,325.34 476.39,325.34 476.90,325.34 477.41,325.34 477.92,325.35 478.43,325.35 478.94,325.35 479.45,325.35 479.96,325.36 480.47,325.36 480.98,325.36 481.49,325.36 482.00,325.37 482.51,325.37 483.02,325.37 483.53,325.37 484.04,325.38 484.55,325.38 485.06,325.38 485.57,325.38 486.08,325.39 486.59,325.39 487.10,325.39 487.61,325.39 488.12,325.40 488.63,325.40 489.14,325.40 489.65,325.40 490.16,325.41 490.67,325.41 491.18,325.41 491.69,325.41 492.20,325.41 492.71,325.42 493.22,325.42 493.73,325.42 494.24,325.42 494.75,325.43 495.25,325.43 495.76,325.43 496.27,325.43 496.78,325.43 497.29,325.44 497.80,325.44 498.31,325.44 498.82,325.44 499.33,325.45 499.84,325.45 500.35,325.45 500.86,325.45 501.37,325.45 501.88,325.46 502.39,325.46 502.90,325.46"/>
<polyline stroke="#72AA2C" stroke-width="3.0" points="81.40,329.35 81.94,329.36 82.49,329.37 83.03,329.37 83.58,329.38 84.12,329.39 84.66,329.40 85.21,329.41 85.75,329.41 86.29,329.42 86.84,329.43 87.38,329.44 87.93,329.45 88.47,329.45 89.01,329.46 89.56,329.47 90.10,329.48 90.65,329.49 91.19,329.50 91.73,329.50 92.28,329.51 92.82,329.52 93.37,329.53 93.91,329.54 94.45,329.55 95.00,329.55 95.54,329.56 96.08,329.57 96.63,329.58 97.17,329.59 97.72,329.60 98.26,329.61 98.80,329.62 99.35,329.63 99.89,329.63 100.44,329.64 100.98,329.65 101.52,329.66 102.07,329.67 102.61,329.68 103.16,329.69 103.70,329.70 104.24,329.71 104.79,329.72 105.33,329.73 105.87,329.74 106.42,329.75 106.96,329.76 107.51,329.77 108.05,329.78 108.59,329.79 109.14,329.80 109.68,329.81 110.23,329.82 110.77,329.83 111.31,329.84 111.86,329.85 112.40,329.86 112.94,329.87 113.49,329.88 114.03,329.89 114.58,329.90 115.12,329.91 115.66,329.92 116.21,329.93 116.75,329.94 117.30,329.95 117.84,329.97 118.38,329.98 118.93,329.99 119.47,330.00 120.02,330.01 120.56,330.02 121.10,330.03 121.65,330.04 122.19,330.06 122.73,330.07 123.28,330.08 123.82,330.09 124.37,330.10 124.91,330.11 125.45,330.13 126.00,330.14 126.54,330.15 127.09,330.16 127.63,330.17 128.17,330.19 128.72,330.20 129.26,330.21 129.80,330.22 130.35,330.24 130.89,330.25 131.44,330.26 131.98,330.28 132.52,330.29 133.07,330.30 133.61,330.31 134.16,330.33 134.70,330.34 135.24,330.35 135.79,330.37 136.33,330.38 136.88,330.39 137.42,330.41 137.96,330.42 138.51,330.44 139.05,330.45 139.59,330.46 140.14,330.48 140.68,330.49 141.23,330.51 141.77,330.52 142.31,330.54 142.86,330.55 143.40,330.57 143.95,330.58 144.49,330.60 145.03,330.61 145.58,330.63 146.12,330.64 146.67,330.66 147.21,330.67 147.75,330.69 148.30,330.70 148.84,330.72 149.38,330.74 149.93,330.75 150.47,330.77 151.02,330.78 151.56,330.80 152.10,330.82 152.65,330.83 153.19,330.85 153.74,330.87 154.28,330.89 154.82,330.90 155.37,330.92 155.91,330.94 156.45,330.95 157.00,330.97 157.54,330.99 158.09,331.01 158.63,331.03 159.17,331.04 159.72,331.06 160.26,331.08 160.81,331.10 161.35,331.12 161.89,331.14 162.44,331.16 162.98,331.18 163.53,331.20 164.07,331.22 164.61,331.24 165.16,331.26 165.70,331.28 166.24,331.30 166.79,331.32 167.33,331.34 167.88,331.36 168.42,331.38 168.96,331.40 169.51,331.42 170.05,331.44 170.60,331.46 171.14,331.49 171.68,331.51 172.23,331.53 172.77,331.55 173.31,331.57 173.86,331.60 174.40,331.62 174.95,331.64 175.49,331.67 176.03,331.69 176.58,331.71 177.12,331.74 177.67,331.76 178.21,331.79 178.75,331.81 179.30,331.84 179.84,331.86 180.39,331.89 180.93,331.91 181.47,331.94 182.02,331.96 182.56,331.99 183.10,332.01 183.65,332.04 184.19,332.07 184.74,332.10 185.28,332.12 185.82,332.15 186.37,332.18 186.91,332.21 187.46,332.23 188.00,332.26 188.54,332.29 189.09,332.32 189.63,332.35 190.18,332.38 190.72,332.41 191.26,332.44 191.81,332.47 192.35,332.50 192.89,332.53 193.44,332.57 193.98,332.60 194.53,332.63 195.07,332.66 195.61,332.70 196.16,332.73 196.70,332.76 197.25,332.80 197.79,332.83 198.33,332.87 198.88,332.90 199.42,332.94 199.96,332.97 200.51,333.01 201.05,333.05 201.60,333.08 202.14,333.12 202.68,333.16 203.23,333.20 203.77,333.23 204.32,333.27 204.86,333.31 205.40,333.35 205.95,333.39 206.49,333.43 207.04,333.47 207.58,333.52 208.12,333.56 208.67,333.60 209.21,333.64 209.75,333.69 210.30,333.73 210.84,333.78 211.39,333.82 211.93,333.87 212.47,333.92 213.02,333.96 213.56,334.01 214.11,334.06 214.65,334.11 215.19,334.16 215.74,334.21 216.28,334.26 216.82,334.31 217.37,334.36 217.91,334.41 218.46,334.47 219.00,334.52 219.54,334.57 220.09,334.63 220.63,334.69 221.18,334.74 221.72,334.80 222.26,334.86 222.81,334.92 223.35,334.98 223.90,335.04 224.44,335.10 224.98,335.16 225.53,335.23 226.07,335.29 226.61,335.35 227.16,335.42 227.70,335.49 228.25,335.56 228.79,335.62 229.33,335.69 229.88,335.77 230.42,335.84 230.97,335.91 231.51,335.99 232.05,336.06 232.60,336.14 233.14,336.22 233.69,336.29 234.23,336.37 234.77,336.46 235.32,336.54 235.86,336.62 236.40,336.71 236.95,336.79 237.49,336.88 238.04,336.97 238.58,337.06 239.12,337.16 239.67,337.25 240.21,337.35 240.76,337.44 241.30,337.54 241.84,337.64 242.39,337.75 242.93,337.85 243.47,337.96 244.02,338.07 244.56,338.18 244.70,338.20 244.83,338.23 244.97,338.26 245.11,338.29 245.11,338.29 245.24,338.32 245.38,338.35 245.51,338.37 245.65,338.40 245.79,338.43 245.92,338.46 246.06,338.49 246.19,338.52 246.19,338.52 246.33,338.55 246.47,338.58 246.60,338.61 246.74,338.64 246.87,338.67 247.01,338.70 247.15,338.73 247.28,338.76 247.28,338.76 247.42,338.79 247.55,338.82 247.69,338.85 247.83,338.88 247.96,338.91 248.10,338.95 248.23,338.98 248.37,339.01 248.37,339.01 248.51,339.04 248.64,339.07 248.78,339.10 248.91,339.14 248.91,339.14 249.05,339.17 249.19,339.20 249.32,339.23 249.46,339.27 249.46,339.27 249.59,339.30 249.73,339.33 249.87,339.37 250.00,339.40 250.00,339.40 250.14,339.43 250.27,339.47 250.41,339.50 250.55,339.54 250.55,339.54 250.68,339.57 250.82,339.60 250.95,339.64 251.09,339.67 251.09,339.67 251.22,339.71 251.36,339.74 251.50,339.78 251.63,339.82 251.63,339.82 251.77,339.85 251.90,339.89 252.04,339.92 252.18,339.96 252.18,339.96 252.31,340.00 252.45,340.03 252.58,340.07 252.72,340.11 252.72,340.11 252.86,340.14 252.99,340.18 253.13,340.22 253.26,340.26 253.26,340.26 253.40,340.30 253.54,340.33 253.67,340.37 253.81,340.41 253.81,340.41 253.94,340.45 254.08,340.49 254.22,340.53 254.35,340.57 254.35,340.57 254.49,340.61 254.62,340.65 254.76,340.69 254.90,340.73 255.03,340.77 255.17,340.81 255.30,340.85 255.44,340.89 255.44,340.89 255.58,340.93 255.71,340.97 255.85,341.02 255.98,341.06 256.12,341.10 256.26,341.14 256.39,341.19 256.53,341.23 256.53,341.23 256.66,341.27 256.80,341.32 256.94,341.36 257.07,341.40 257.21,341.45 257.34,341.49 257.48,341.54 257.62,341.58 257.62,341.58 257.75,341.63 257.89,341.67 258.02,341.72 258.16,341.76 258.30,341.81 258.43,341.86 258.57,341.90 258.70,341.95 258.70,341.95 258.84,342.00 258.98,342.05 259.11,342.09 259.25,342.14 259.38,342.19 259.52,342.24 259.66,342.29 259.79,342.34 259.79,342.34 259.93,342.39 260.06,342.44 260.20,342.49 260.33,342.54 260.47,342.59 260.61,342.64 260.74,342.69 260.88,342.74 260.88,342.74 261.01,342.79 261.15,342.85 261.29,342.90 261.42,342.95 261.56,343.00 261.69,343.06 261.83,343.11 261.97,343.17 261.97,343.17 262.10,343.22 262.24,343.28 262.37,343.33 262.51,343.39 262.65,343.44 262.78,343.50 262.92,343.56 263.05,343.61 263.05,343.61 263.19,343.67 263.33,343.73 263.46,343.79 263.60,343.84 263.73,343.90 263.87,343.96 264.01,344.02 264.14,344.08 264.14,344.08 264.28,344.14 264.41,344.20 264.55,344.26 264.69,344.32 264.69,344.32 264.82,344.39 264.96,344.45 265.09,344.51 265.23,344.57 265.23,344.57 265.37,344.64 265.50,344.70 265.64,344.77 265.77,344.83 265.77,344.83 265.91,344.90 266.05,344.96 266.18,345.03 266.32,345.09 266.32,345.09 266.45,345.16 266.59,345.23 266.73,345.29 266.86,345.36 266.86,345.36 267.00,345.43 267.13,345.50 267.27,345.57 267.41,345.64 267.54,345.71 267.68,345.78 267.81,345.85 267.95,345.93 267.95,345.93 268.09,346.00 268.22,346.07 268.36,346.14 268.49,346.22 268.63,346.29 268.76,346.37 268.90,346.44 269.04,346.52 269.04,346.52 269.17,346.60 269.31,346.67 269.44,346.75 269.58,346.83 269.72,346.91 269.85,346.99 269.99,347.07 270.12,347.15 270.12,347.15 270.26,347.23 270.40,347.31 270.53,347.39 270.67,347.47 270.80,347.56 270.94,347.64 271.08,347.73 271.21,347.81 271.21,347.81 271.35,347.90 271.48,347.98 271.62,348.07 271.76,348.16 271.89,348.25 272.03,348.34 272.16,348.43 272.30,348.52 272.30,348.52 272.44,348.61 272.57,348.70 272.71,348.79 272.84,348.88 272.98,348.98 273.12,349.07 273.25,349.17 273.39,349.26 273.39,349.26 273.52,349.36 273.66,349.46 273.80,349.56 273.93,349.66 274.07,349.76 274.20,349.86 274.34,349.96 274.48,350.06 274.48,350.06 274.61,350.16 274.75,350.27 274.88,350.37 275.02,350.48 275.16,350.58 275.29,350.69 275.43,350.80 275.56,350.91 275.56,350.91 275.70,351.02 275.84,351.13 275.97,351.24 276.11,351.35 276.11,351.35 276.24,351.46 276.38,351.58 276.52,351.69 276.65,351.81 276.65,351.81 276.79,351.93 276.92,352.05 277.06,352.16 277.20,352.28 277.20,352.28 277.33,352.41 277.47,352.53 277.60,352.65 277.74,352.77 277.74,352.77 277.87,352.90 278.01,353.03 278.15,353.15 278.28,353.28 278.28,353.28 278.42,353.41 278.55,353.54 278.69,353.67 278.83,353.81 278.83,353.81 278.96,353.94 279.10,354.08 279.23,354.21 279.37,354.35 279.37,354.35 279.51,354.49 279.64,354.63 279.78,354.77 279.91,354.92 279.91,354.92 280.05,355.06 280.19,355.21 280.32,355.35 280.46,355.50 280.46,355.50 280.59,355.65 280.73,355.80 280.87,355.95 281.00,356.11 281.00,356.11 281.14,356.26 281.27,356.42 281.41,356.58 281.55,356.73 281.55,356.73 281.68,356.90 281.82,357.06 281.95,357.22 282.09,357.39 282.09,357.39 282.23,357.56 282.36,357.72 282.50,357.89 282.63,358.07 282.63,358.07 282.77,358.24 282.91,358.42 283.04,358.59 283.18,358.77 283.31,358.95 283.45,359.14 283.59,359.32 283.72,359.51 283.72,359.51 283.86,359.69 283.99,359.88 284.13,360.08 284.27,360.27 284.40,360.47 284.54,360.66 284.67,360.86 284.81,361.07 284.81,361.07 284.95,361.27 285.08,361.48 285.22,361.69 285.35,361.90 285.49,362.11 285.63,362.33 285.76,362.54 285.90,362.77 285.90,362.77 286.03,362.99 286.17,363.21 286.30,363.44 286.44,363.67 286.58,363.90 286.71,364.14 286.85,364.38 286.98,364.62 286.98,364.62 287.12,364.86 287.26,365.11 287.39,365.36 287.53,365.61 287.66,365.87 287.80,366.12 287.94,366.39 288.07,366.65 288.07,366.65 288.21,366.92 288.34,367.19 288.48,367.46 288.62,367.74 288.75,368.02 288.89,368.31 289.02,368.59 289.16,368.89 289.16,368.89 289.30,369.18 289.43,369.48 289.57,369.78 289.70,370.09 289.84,370.40 289.98,370.72 290.11,371.04 290.25,371.36 290.25,371.36 290.38,371.69 290.52,372.02 290.66,372.36 290.79,372.70 290.79,372.70 290.93,373.04 291.06,373.39 291.20,373.75 291.34,374.11 291.34,374.11 291.47,374.47 291.61,374.84 291.74,375.22 291.88,375.60 291.88,375.60 292.02,375.99 292.15,376.38 292.29,376.77 292.42,377.18 292.42,377.18 292.56,377.58 292.70,378.00 292.83,378.42 292.97,378.84 292.97,378.84 293.10,379.28 293.24,379.71 293.38,380.16 293.51,380.61 293.51,380.61 293.65,381.06 293.78,381.53 293.92,382.00 294.06,382.47 294.06,382.47 294.19,382.96 294.33,383.45 294.46,383.94 294.60,384.45 294.60,384.45 294.73,384.96 294.87,385.47 295.01,386.00 295.14,386.53 295.14,386.53 295.28,387.06 295.41,387.61 295.55,388.16 295.69,388.71 295.69,388.71 295.82,389.28 295.96,389.85 296.09,390.42 296.23,391.01 296.23,391.01 296.37,391.60 296.50,392.19 296.64,392.79 296.77,393.40 296.91,394.01 297.05,394.63 297.18,395.25 297.32,395.87 297.32,395.87 297.45,396.51 297.59,397.14 297.73,397.78 297.86,398.42 298.00,399.07 298.13,399.71 298.27,400.37 298.41,401.02 298.41,401.02 298.54,401.67 298.68,402.33 298.81,402.98 298.95,403.64 299.09,404.30 299.22,404.95 299.36,405.61 299.49,406.26 299.49,406.26 299.63,406.91 299.77,407.57 299.90,408.21 300.04,408.86 300.04,408.86 300.17,409.50 300.31,410.14 300.45,410.77 300.58,411.41 300.58,411.41 300.72,412.03 300.85,412.65 300.99,413.27 301.13,413.88 301.26,414.49 301.40,415.09 301.53,415.68 301.67,416.27 301.67,416.27 301.81,416.86 301.94,417.43 302.08,418.00 302.21,418.57 302.21,418.57 302.35,419.12 302.49,419.67 302.62,420.22 302.76,420.75 302.76,420.75 302.89,421.28 303.03,421.81 303.17,422.32 303.30,422.83 303.44,423.34 303.57,423.83 303.71,424.32 303.84,424.81 303.84,424.81 303.98,425.28 304.12,425.75 304.25,426.22 304.39,426.67 304.39,426.67 304.52,427.12 304.66,427.57 304.80,428.00 304.93,428.44 304.93,428.44 305.07,428.86 305.20,429.28 305.34,429.70 305.48,430.10 305.61,430.51 305.75,430.90 305.88,431.29 306.02,431.68 306.02,431.68 306.16,432.06 306.29,432.44 306.43,432.81 306.56,433.17 306.56,433.17 306.70,433.53 306.84,433.89 306.97,434.24 307.11,434.58 307.11,434.58 307.24,434.92 307.38,435.26 307.52,435.59 307.65,435.92 307.65,435.92 307.79,436.24 307.92,436.56 308.06,436.88 308.20,437.19 308.33,437.50 308.47,437.80 308.60,438.10 308.74,438.39 308.74,438.39 308.88,438.69 309.01,438.97 309.15,439.26 309.28,439.54 309.28,439.54 309.42,439.82 309.56,440.09 309.69,440.36 309.83,440.63 309.83,440.63 309.96,440.89 310.10,441.16 310.24,441.41 310.37,441.67 310.51,441.92 310.64,442.17 310.78,442.42 310.92,442.66 310.92,442.66 311.05,442.90 311.19,443.14 311.32,443.38 311.46,443.61 311.46,443.61 311.60,443.84 311.73,444.07 311.87,444.29 312.00,444.51 312.00,444.51 312.14,444.74 312.27,444.95 312.41,445.17 312.55,445.38 312.68,445.59 312.82,445.80 312.95,446.01 313.09,446.21 313.09,446.21 313.23,446.42 313.36,446.62 313.50,446.81 313.63,447.01 313.63,447.01 313.77,447.20 313.91,447.40 314.04,447.59 314.18,447.77 314.18,447.77 314.31,447.96 314.45,448.14 314.59,448.33 314.72,448.51 314.86,448.69 314.99,448.86 315.13,449.04 315.27,449.21 315.27,449.21 315.40,449.39 315.54,449.56 315.67,449.72 315.81,449.89 315.81,449.89 315.95,450.06 316.08,450.22 316.22,450.38 316.35,450.55 316.35,450.55 316.49,450.70 316.63,450.86 316.76,451.02 316.90,451.17 317.03,451.33 317.17,451.48 317.31,451.63 317.44,451.78 317.44,451.78 317.58,451.93 317.71,452.07 317.85,452.22 317.99,452.36 317.99,452.36 318.12,452.51 318.26,452.65 318.39,452.79 318.53,452.93 318.53,452.93 318.67,453.07 318.80,453.20 318.94,453.34 319.07,453.47 319.21,453.61 319.35,453.74 319.48,453.87 319.62,454.00 319.62,454.00 319.75,454.13 319.89,454.25 320.03,454.38 320.16,454.51 320.16,454.51 320.30,454.63 320.43,454.75 320.57,454.87 320.71,455.00 320.71,455.00 320.84,455.12 320.98,455.23 321.11,455.35 321.25,455.47 321.25,455.47 321.38,455.59 321.52,455.70 321.66,455.82 321.79,455.93 321.93,456.04 322.06,456.15 322.20,456.26 322.34,456.37 322.34,456.37 322.47,456.48 322.61,456.59 322.74,456.70 322.88,456.80 322.88,456.80 323.02,456.91 323.15,457.01 323.29,457.12 323.42,457.22 323.42,457.22 323.56,457.32 323.70,457.42 323.83,457.52 323.97,457.62 324.10,457.72 324.24,457.82 324.38,457.92 324.51,458.02 324.51,458.02 324.65,458.11 324.78,458.21 324.92,458.30 325.06,458.40 325.06,458.40 325.19,458.49 325.33,458.58 325.46,458.67 325.60,458.76 325.60,458.76 325.74,458.85 325.87,458.94 326.01,459.03 326.14,459.12 326.28,459.21 326.42,459.30 326.55,459.38 326.69,459.47 326.69,459.47 326.82,459.55 326.96,459.64 327.10,459.72 327.23,459.81 327.23,459.81 327.37,459.89 327.50,459.97 327.64,460.05 327.78,460.13 327.78,460.13 327.91,460.21 328.05,460.29 328.18,460.37 328.32,460.45 328.46,460.53 328.59,460.61 328.73,460.68 328.86,460.76 328.86,460.76 329.00,460.84 329.14,460.91 329.27,460.99 329.41,461.06 329.41,461.06 329.54,461.14 329.68,461.21 329.81,461.28 329.95,461.35 329.95,461.35 330.09,461.43 330.22,461.50 330.36,461.57 330.49,461.64 330.63,461.71 330.77,461.78 330.90,461.85 331.04,461.92 331.04,461.92 331.17,461.99 331.31,462.05 331.45,462.12 331.58,462.19 331.58,462.19 331.72,462.25 331.85,462.32 331.99,462.38 332.13,462.45 332.13,462.45 332.26,462.51 332.40,462.58 332.53,462.64 332.67,462.71 332.81,462.77 332.94,462.83 333.08,462.89 333.21,462.96 333.21,462.96 333.35,463.02 333.49,463.08 333.62,463.14 333.76,463.20 333.76,463.20 333.89,463.26 334.03,463.32 334.17,463.38 334.30,463.44 334.30,463.44 334.44,463.49 334.57,463.55 334.71,463.61 334.85,463.67 334.98,463.72 335.12,463.78 335.25,463.84 335.39,463.89 335.53,463.95 335.66,464.00 335.80,464.06 335.93,464.11 335.93,464.11 336.07,464.17 336.21,464.22 336.34,464.28 336.48,464.33 336.48,464.33 336.61,464.38 336.75,464.43 336.89,464.49 337.02,464.54 337.02,464.54 337.16,464.59 337.29,464.64 337.43,464.69 337.57,464.74 337.70,464.79 337.84,464.84 337.97,464.89 338.11,464.94 338.11,464.94 338.24,464.99 338.38,465.04 338.52,465.09 338.65,465.14 338.65,465.14 338.79,465.19 338.92,465.23 339.06,465.28 339.20,465.33 339.20,465.33 339.33,465.38 339.47,465.42 339.60,465.47 339.74,465.52 339.88,465.56 340.01,465.61 340.15,465.65 340.28,465.70 340.28,465.70 340.42,465.74 340.56,465.79 340.69,465.83 340.83,465.88 340.83,465.88 340.96,465.92 341.10,465.96 341.24,466.01 341.37,466.05 341.37,466.05 341.51,466.09 341.64,466.14 341.78,466.18 341.92,466.22 342.05,466.26 342.19,466.31 342.32,466.35 342.46,466.39 342.46,466.39 342.60,466.43 342.73,466.47 342.87,466.51 343.00,466.55 343.00,466.55 343.14,466.59 343.28,466.63 343.41,466.67 343.55,466.71 343.55,466.71 343.68,466.75 343.82,466.79 343.96,466.83 344.09,466.87 344.23,466.91 344.36,466.95 344.50,466.98 344.64,467.02 344.64,467.02 344.77,467.06 344.91,467.10 345.04,467.14 345.18,467.17 345.18,467.17 345.32,467.21 345.45,467.25 345.59,467.28 345.72,467.32 345.72,467.32 345.86,467.36 346.00,467.39 346.13,467.43 346.27,467.46 346.40,467.50 346.54,467.54 346.68,467.57 346.81,467.61 346.81,467.61 346.95,467.64 347.08,467.68 347.22,467.71 347.35,467.74 347.35,467.74 347.49,467.78 347.63,467.81 347.76,467.85 347.90,467.88 347.90,467.88 348.03,467.91 348.17,467.95 348.31,467.98 348.44,468.01 348.58,468.05 348.71,468.08 348.85,468.11 348.99,468.14 349.12,468.18 349.26,468.21 349.39,468.24 349.53,468.27 349.53,468.27 349.67,468.30 349.80,468.33 349.94,468.37 350.07,468.40 350.07,468.40 350.21,468.43 350.35,468.46 350.48,468.49 350.62,468.52 350.62,468.52 350.75,468.55 350.89,468.58 351.03,468.61 351.16,468.64 351.30,468.67 351.43,468.70 351.57,468.73 351.71,468.76 351.71,468.76 351.84,468.79 351.98,468.82 352.11,468.85 352.25,468.88 352.25,468.88 352.39,468.91 352.52,468.93 352.66,468.96 352.79,468.99 352.79,468.99 352.93,469.02 353.07,469.05 353.20,469.08 353.34,469.10 353.88,469.21 354.43,469.32 354.97,469.43 355.51,469.53 356.06,469.64 356.60,469.74 357.14,469.84 357.69,469.93 358.23,470.03 358.78,470.12 359.32,470.22 359.86,470.31 360.41,470.40 360.95,470.49 361.50,470.57 362.04,470.66 362.58,470.74 363.13,470.82 363.67,470.91 364.22,470.99 364.76,471.06 365.30,471.14 365.85,471.22 366.39,471.29 366.93,471.37 367.48,471.44 368.02,471.51 368.57,471.59 369.11,471.66 369.65,471.72 370.20,471.79 370.74,471.86 371.29,471.93 371.83,471.99 372.37,472.05 372.92,472.12 373.46,472.18 374.00,472.24 374.55,472.30 375.09,472.36 375.64,472.42 376.18,472.48 376.72,472.54 377.27,472.59 377.81,472.65 378.36,472.71 378.90,472.76 379.44,472.81 379.99,472.87 380.53,472.92 381.08,472.97 381.62,473.02 382.16,473.07 382.71,473.12 383.25,473.17 383.79,473.22 384.34,473.27 384.88,473.32 385.43,473.36 385.97,473.41 386.51,473.46 387.06,473.50 387.60,473.55 388.15,473.59 388.69,473.64 389.23,473.68 389.78,473.72 390.32,473.76 390.86,473.81 391.41,473.85 391.95,473.89 392.50,473.93 393.04,473.97 393.58,474.01 394.13,474.05 394.67,474.08 395.22,474.12 395.76,474.16 396.30,474.20 396.85,474.23 397.39,474.27 397.94,474.31 398.48,474.34 399.02,474.38 399.57,474.41 400.11,474.45 400.65,474.48 401.20,474.52 401.74,474.55 402.29,474.58 402.83,474.62 403.37,474.65 403.92,474.68 404.46,474.71 405.01,474.75 405.55,474.78 406.09,474.81 406.64,474.84 407.18,474.87 407.73,474.90 408.27,474.93 408.81,474.96 409.36,474.99 409.90,475.02 410.44,475.05 410.99,475.07 411.53,475.10 412.08,475.13 412.62,475.16 413.16,475.18 413.71,475.21 414.25,475.24 414.80,475.27 415.34,475.29 415.88,475.32 416.43,475.34 416.97,475.37 417.51,475.39 418.06,475.42 418.60,475.44 419.15,475.47 419.69,475.49 420.23,475.52 420.78,475.54 421.32,475.57 421.87,475.59 422.41,475.61 422.95,475.64 423.50,475.66 424.04,475.68 424.59,475.71 425.13,475.73 425.67,475.75 426.22,475.77 426.76,475.79 427.30,475.82 427.85,475.84 428.39,475.86 428.94,475.88 429.48,475.90 430.02,475.92 430.57,475.94 431.11,475.96 431.66,475.98 432.20,476.00 432.74,476.02 433.29,476.04 433.83,476.06 434.37,476.08 434.92,476.10 435.46,476.12 436.01,476.14 436.55,476.16 437.09,476.18 437.64,476.20 438.18,476.22 438.73,476.24 439.27,476.25 439.81,476.27 440.36,476.29 440.90,476.31 441.45,476.33 441.99,476.34 442.53,476.36 443.08,476.38 443.62,476.39 444.16,476.41 444.71,476.43 445.25,476.45 445.80,476.46 446.34,476.48 446.88,476.50 447.43,476.51 447.97,476.53 448.52,476.54 449.06,476.56 449.60,476.58 450.15,476.59 450.69,476.61 451.24,476.62 451.78,476.64 452.32,476.65 452.87,476.67 453.41,476.68 453.95,476.70 454.50,476.71 455.04,476.73 455.59,476.74 456.13,476.76 456.67,476.77 457.22,476.79 457.76,476.80 458.31,476.82 458.85,476.83 459.39,476.84 459.94,476.86 460.48,476.87 461.02,476.89 461.57,476.90 462.11,476.91 462.66,476.93 463.20,476.94 463.74,476.95 464.29,476.97 464.83,476.98 465.38,476.99 465.92,477.00 466.46,477.02 467.01,477.03 467.55,477.04 468.10,477.06 468.64,477.07 469.18,477.08 469.73,477.09 470.27,477.11 470.81,477.12 471.36,477.13 471.90,477.14 472.45,477.15 472.99,477.17 473.53,477.18 474.08,477.19 474.62,477.20 475.17,477.21 475.71,477.22 476.25,477.24 476.80,477.25 477.34,477.26 477.88,477.27 478.43,477.28 478.97,477.29 479.52,477.30 480.06,477.31 480.60,477.33 481.15,477.34 481.69,477.35 482.24,477.36 482.78,477.37 483.32,477.38 483.87,477.39 484.41,477.40 484.96,477.41 485.50,477.42 486.04,477.43 486.59,477.44 487.13,477.45 487.67,477.46 488.22,477.47 488.76,477.48 489.31,477.49 489.85,477.50 490.39,477.51 490.94,477.52 491.48,477.53 492.03,477.54 492.57,477.55 493.11,477.56 493.66,477.57 494.20,477.58 494.75,477.59 495.29,477.60 495.83,477.61 496.38,477.62 496.92,477.63 497.46,477.64 498.01,477.65 498.55,477.65 499.10,477.66 499.64,477.67 500.18,477.68 500.73,477.69 501.27,477.70 501.82,477.71 502.36,477.72 502.90,477.73 503.45,477.73 503.99,477.74 504.53,477.75 505.08,477.76 505.62,477.77 506.17,477.78 506.71,477.78 507.25,477.79 507.80,477.80 508.34,477.81 508.89,477.82 509.43,477.83 509.97,477.83 510.52,477.84 511.06,477.85 511.61,477.86 512.15,477.87 512.69,477.87 513.24,477.88 513.78,477.89 514.32,477.90 514.87,477.91 515.41,477.91 515.96,477.92 516.50,477.93"/>
<polyline stroke="#0000DD" stroke-width="3.6" points="81.40,341.18 81.94,341.22 82.49,341.25 83.03,341.29 83.58,341.33 84.12,341.36 84.66,341.40 85.21,341.43 85.75,341.47 86.29,341.51 86.84,341.54 87.38,341.58 87.93,341.62 88.47,341.65 89.01,341.69 89.56,341.73 90.10,341.76 90.65,341.80 91.19,341.84 91.73,341.88 92.28,341.92 92.82,341.96 93.37,341.99 93.91,342.03 94.45,342.07 95.00,342.11 95.54,342.15 96.08,342.19 96.63,342.23 97.17,342.27 97.72,342.31 98.26,342.35 98.80,342.39 99.35,342.43 99.89,342.47 100.44,342.51 100.98,342.56 101.52,342.60 102.07,342.64 102.61,342.68 103.16,342.72 103.70,342.76 104.24,342.81 104.79,342.85 105.33,342.89 105.87,342.94 106.42,342.98 106.96,343.02 107.51,343.07 108.05,343.11 108.59,343.16 109.14,343.20 109.68,343.25 110.23,343.29 110.77,343.34 111.31,343.38 111.86,343.43 112.40,343.47 112.94,343.52 113.49,343.57 114.03,343.61 114.58,343.66 115.12,343.71 115.66,343.75 116.21,343.80 116.75,343.85 117.30,343.90 117.84,343.95 118.38,343.99 118.93,344.04 119.47,344.09 120.02,344.14 120.56,344.19 121.10,344.24 121.65,344.29 122.19,344.34 122.73,344.39 123.28,344.44 123.82,344.49 124.37,344.55 124.91,344.60 125.45,344.65 126.00,344.70 126.54,344.76 127.09,344.81 127.63,344.86 128.17,344.92 128.72,344.97 129.26,345.02 129.80,345.08 130.35,345.13 130.89,345.19 131.44,345.24 131.98,345.30 132.52,345.35 133.07,345.41 133.61,345.47 134.16,345.52 134.70,345.58 135.24,345.64 135.79,345.70 136.33,345.76 136.88,345.81 137.42,345.87 137.96,345.93 138.51,345.99 139.05,346.05 139.59,346.11 140.14,346.17 140.68,346.23 141.23,346.29 141.77,346.36 142.31,346.42 142.86,346.48 143.40,346.54 143.95,346.61 144.49,346.67 145.03,346.73 145.58,346.80 146.12,346.86 146.67,346.93 147.21,346.99 147.75,347.06 148.30,347.13 148.84,347.19 149.38,347.26 149.93,347.33 150.47,347.39 151.02,347.46 151.56,347.53 152.10,347.60 152.65,347.67 153.19,347.74 153.74,347.81 154.28,347.88 154.82,347.95 155.37,348.02 155.91,348.10 156.45,348.17 157.00,348.24 157.54,348.31 158.09,348.39 158.63,348.46 159.17,348.54 159.72,348.61 160.26,348.69 160.81,348.76 161.35,348.84 161.89,348.92 162.44,349.00 162.98,349.07 163.53,349.15 164.07,349.23 164.61,349.31 165.16,349.39 165.70,349.47 166.24,349.55 166.79,349.64 167.33,349.72 167.88,349.80 168.42,349.89 168.96,349.97 169.51,350.05 170.05,350.14 170.60,350.22 171.14,350.31 171.68,350.40 172.23,350.48 172.77,350.57 173.31,350.66 173.86,350.75 174.40,350.84 174.95,350.93 175.49,351.02 176.03,351.11 176.58,351.20 177.12,351.30 177.67,351.39 178.21,351.49 178.75,351.58 179.30,351.68 179.84,351.77 180.39,351.87 180.93,351.97 181.47,352.06 182.02,352.16 182.56,352.26 183.10,352.36 183.65,352.46 184.19,352.56 184.74,352.67 185.28,352.77 185.82,352.87 186.37,352.98 186.91,353.08 187.46,353.19 188.00,353.29 188.54,353.40 189.09,353.51 189.63,353.62 190.18,353.73 190.72,353.84 191.26,353.95 191.81,354.06 192.35,354.18 192.89,354.29 193.44,354.40 193.98,354.52 194.53,354.63 195.07,354.75 195.61,354.87 196.16,354.99 196.70,355.11 197.25,355.23 197.79,355.35 198.33,355.47 198.88,355.60 199.42,355.72 199.96,355.85 200.51,355.97 201.05,356.10 201.60,356.23 202.14,356.36 202.68,356.49 203.23,356.62 203.77,356.75 204.32,356.88 204.86,357.01 205.40,357.15 205.95,357.29 206.49,357.42 207.04,357.56 207.58,357.70 208.12,357.84 208.67,357.98 209.21,358.12 209.75,358.27 210.30,358.41 210.84,358.56 211.39,358.70 211.93,358.85 212.47,359.00 213.02,359.15 213.56,359.30 214.11,359.45 214.65,359.61 215.19,359.76 215.74,359.92 216.28,360.08 216.82,360.24 217.37,360.40 217.91,360.56 218.46,360.72 219.00,360.88 219.54,361.05 220.09,361.21 220.63,361.38 221.18,361.55 221.72,361.72 222.26,361.89 222.81,362.07 223.35,362.24 223.90,362.42 224.44,362.59 224.98,362.77 225.53,362.95 226.07,363.14 226.61,363.32 227.16,363.50 227.70,363.69 228.25,363.88 228.79,364.07 229.33,364.26 229.88,364.45 230.42,364.64 230.97,364.84 231.51,365.03 232.05,365.23 232.60,365.43 233.14,365.63 233.69,365.84 234.23,366.04 234.77,366.25 235.32,366.46 235.86,366.67 236.40,366.88 236.95,367.09 237.49,367.31 238.04,367.52 238.58,367.74 239.12,367.96 239.67,368.18 240.21,368.41 240.76,368.63 241.30,368.86 241.84,369.09 242.39,369.32 242.93,369.55 243.47,369.79 244.02,370.02 244.56,370.26 244.70,370.32 244.83,370.38 244.97,370.44 245.11,370.50 245.11,370.50 245.24,370.56 245.38,370.62 245.51,370.68 245.65,370.75 245.79,370.81 245.92,370.87 246.06,370.93 246.19,370.99 246.19,370.99 246.33,371.05 246.47,371.11 246.60,371.17 246.74,371.24 246.87,371.30 247.01,371.36 247.15,371.42 247.28,371.48 247.28,371.48 247.42,371.55 247.55,371.61 247.69,371.67 247.83,371.73 247.96,371.80 248.10,371.86 248.23,371.92 248.37,371.99 248.37,371.99 248.51,372.05 248.64,372.11 248.78,372.18 248.91,372.24 248.91,372.24 249.05,372.30 249.19,372.37 249.32,372.43 249.46,372.50 249.46,372.50 249.59,372.56 249.73,372.62 249.87,372.69 250.00,372.75 250.00,372.75 250.14,372.82 250.27,372.88 250.41,372.95 250.55,373.01 250.55,373.01 250.68,373.08 250.82,373.14 250.95,373.21 251.09,373.28 251.09,373.28 251.22,373.34 251.36,373.41 251.50,373.47 251.63,373.54 251.63,373.54 251.77,373.61 251.90,373.67 252.04,373.74 252.18,373.80 252.18,373.80 252.31,373.87 252.45,373.94 252.58,374.01 252.72,374.07 252.72,374.07 252.86,374.14 252.99,374.21 253.13,374.27 253.26,374.34 253.26,374.34 253.40,374.41 253.54,374.48 253.67,374.55 253.81,374.61 253.81,374.61 253.94,374.68 254.08,374.75 254.22,374.82 254.35,374.89 254.35,374.89 254.49,374.96 254.62,375.03 254.76,375.10 254.90,375.16 255.03,375.23 255.17,375.30 255.30,375.37 255.44,375.44 255.44,375.44 255.58,375.51 255.71,375.58 255.85,375.65 255.98,375.72 256.12,375.79 256.26,375.86 256.39,375.93 256.53,376.01 256.53,376.01 256.66,376.08 256.80,376.15 256.94,376.22 257.07,376.29 257.21,376.36 257.34,376.43 257.48,376.50 257.62,376.58 257.62,376.58 257.75,376.65 257.89,376.72 258.02,376.79 258.16,376.86 258.30,376.94 258.43,377.01 258.57,377.08 258.70,377.16 258.70,377.16 258.84,377.23 258.98,377.30 259.11,377.37 259.25,377.45 259.38,377.52 259.52,377.60 259.66,377.67 259.79,377.74 259.79,377.74 259.93,377.82 260.06,377.89 260.20,377.97 260.33,378.04 260.47,378.11 260.61,378.19 260.74,378.26 260.88,378.34 260.88,378.34 261.01,378.41 261.15,378.49 261.29,378.56 261.42,378.64 261.56,378.72 261.69,378.79 261.83,378.87 261.97,378.94 261.97,378.94 262.10,379.02 262.24,379.10 262.37,379.17 262.51,379.25 262.65,379.32 262.78,379.40 262.92,379.48 263.05,379.56 263.05,379.56 263.19,379.63 263.33,379.71 263.46,379.79 263.60,379.86 263.73,379.94 263.87,380.02 264.01,380.10 264.14,380.18 264.14,380.18 264.28,380.25 264.41,380.33 264.55,380.41 264.69,380.49 264.69,380.49 264.82,380.57 264.96,380.65 265.09,380.73 265.23,380.81 265.23,380.81 265.37,380.88 265.50,380.96 265.64,381.04 265.77,381.12 265.77,381.12 265.91,381.20 266.05,381.28 266.18,381.36 266.32,381.44 266.32,381.44 266.45,381.52 266.59,381.60 266.73,381.68 266.86,381.77 266.86,381.77 267.00,381.85 267.13,381.93 267.27,382.01 267.41,382.09 267.54,382.17 267.68,382.25 267.81,382.33 267.95,382.41 267.95,382.41 268.09,382.50 268.22,382.58 268.36,382.66 268.49,382.74 268.63,382.83 268.76,382.91 268.90,382.99 269.04,383.07 269.04,383.07 269.17,383.16 269.31,383.24 269.44,383.32 269.58,383.41 269.72,383.49 269.85,383.57 269.99,383.66 270.12,383.74 270.12,383.74 270.26,383.82 270.40,383.91 270.53,383.99 270.67,384.08 270.80,384.16 270.94,384.24 271.08,384.33 271.21,384.41 271.21,384.41 271.35,384.50 271.48,384.58 271.62,384.67 271.76,384.75 271.89,384.84 272.03,384.92 272.16,385.01 272.30,385.10 272.30,385.10 272.44,385.18 272.57,385.27 272.71,385.35 272.84,385.44 272.98,385.53 273.12,385.61 273.25,385.70 273.39,385.78 273.39,385.78 273.52,385.87 273.66,385.96 273.80,386.05 273.93,386.13 274.07,386.22 274.20,386.31 274.34,386.39 274.48,386.48 274.48,386.48 274.61,386.57 274.75,386.66 274.88,386.75 275.02,386.83 275.16,386.92 275.29,387.01 275.43,387.10 275.56,387.19 275.56,387.19 275.70,387.28 275.84,387.36 275.97,387.45 276.11,387.54 276.11,387.54 276.24,387.63 276.38,387.72 276.52,387.81 276.65,387.90 276.65,387.90 276.79,387.99 276.92,388.08 277.06,388.17 277.20,388.26 277.20,388.26 277.33,388.35 277.47,388.44 277.60,388.53 277.74,388.62 277.74,388.62 277.87,388.71 278.01,388.80 278.15,388.89 278.28,388.98 278.28,388.98 278.42,389.07 278.55,389.16 278.69,389.25 278.83,389.34 278.83,389.34 278.96,389.43 279.10,389.53 279.23,389.62 279.37,389.71 279.37,389.71 279.51,389.80 279.64,389.89 279.78,389.98 279.91,390.08 279.91,390.08 280.05,390.17 280.19,390.26 280.32,390.35 280.46,390.44 280.46,390.44 280.59,390.54 280.73,390.63 280.87,390.72 281.00,390.81 281.00,390.81 281.14,390.91 281.27,391.00 281.41,391.09 281.55,391.19 281.55,391.19 281.68,391.28 281.82,391.37 281.95,391.47 282.09,391.56 282.09,391.56 282.23,391.65 282.36,391.75 282.50,391.84 282.63,391.93 282.63,391.93 282.77,392.03 282.91,392.12 283.04,392.21 283.18,392.31 283.31,392.40 283.45,392.50 283.59,392.59 283.72,392.69 283.72,392.69 283.86,392.78 283.99,392.88 284.13,392.97 284.27,393.07 284.40,393.16 284.54,393.26 284.67,393.35 284.81,393.45 284.81,393.45 284.95,393.54 285.08,393.64 285.22,393.73 285.35,393.83 285.49,393.92 285.63,394.02 285.76,394.11 285.90,394.21 285.90,394.21 286.03,394.30 286.17,394.40 286.30,394.50 286.44,394.59 286.58,394.69 286.71,394.79 286.85,394.88 286.98,394.98 286.98,394.98 287.12,395.07 287.26,395.17 287.39,395.27 287.53,395.36 287.66,395.46 287.80,395.56 287.94,395.65 288.07,395.75 288.07,395.75 288.21,395.85 288.34,395.94 288.48,396.04 288.62,396.14 288.75,396.24 288.89,396.33 289.02,396.43 289.16,396.53 289.16,396.53 289.30,396.63 289.43,396.72 289.57,396.82 289.70,396.92 289.84,397.02 289.98,397.11 290.11,397.21 290.25,397.31 290.25,397.31 290.38,397.41 290.52,397.50 290.66,397.60 290.79,397.70 290.79,397.70 290.93,397.80 291.06,397.90 291.20,397.99 291.34,398.09 291.34,398.09 291.47,398.19 291.61,398.29 291.74,398.39 291.88,398.49 291.88,398.49 292.02,398.58 292.15,398.68 292.29,398.78 292.42,398.88 292.42,398.88 292.56,398.98 292.70,399.08 292.83,399.18 292.97,399.27 292.97,399.27 293.10,399.37 293.24,399.47 293.38,399.57 293.51,399.67 293.51,399.67 293.65,399.77 293.78,399.87 293.92,399.97 294.06,400.06 294.06,400.06 294.19,400.16 294.33,400.26 294.46,400.36 294.60,400.46 294.60,400.46 294.73,400.56 294.87,400.66 295.01,400.76 295.14,400.86 295.14,400.86 295.28,400.96 295.41,401.06 295.55,401.15 295.69,401.25 295.69,401.25 295.82,401.35 295.96,401.45 296.09,401.55 296.23,401.65 296.23,401.65 296.37,401.75 296.50,401.85 296.64,401.95 296.77,402.05 296.91,402.15 297.05,402.25 297.18,402.35 297.32,402.45 297.32,402.45 297.45,402.55 297.59,402.65 297.73,402.74 297.86,402.84 298.00,402.94 298.13,403.04 298.27,403.14 298.41,403.24 298.41,403.24 298.54,403.34 298.68,403.44 298.81,403.54 298.95,403.64 299.09,403.74 299.22,403.84 299.36,403.94 299.49,404.04 299.49,404.04 299.63,404.14 299.77,404.24 299.90,404.34 300.04,404.44 300.04,404.44 300.17,404.54 300.31,404.63 300.45,404.73 300.58,404.83 300.58,404.83 300.72,404.93 300.85,405.03 300.99,405.13 301.13,405.23 301.26,405.33 301.40,405.43 301.53,405.53 301.67,405.63 301.67,405.63 301.81,405.73 301.94,405.83 302.08,405.93 302.21,406.03 302.21,406.03 302.35,406.13 302.49,406.22 302.62,406.32 302.76,406.42 302.76,406.42 302.89,406.52 303.03,406.62 303.17,406.72 303.30,406.82 303.44,406.92 303.57,407.02 303.71,407.12 303.84,407.22 303.84,407.22 303.98,407.31 304.12,407.41 304.25,407.51 304.39,407.61 304.39,407.61 304.52,407.71 304.66,407.81 304.80,407.91 304.93,408.01 304.93,408.01 305.07,408.10 305.20,408.20 305.34,408.30 305.48,408.40 305.61,408.50 305.75,408.60 305.88,408.70 306.02,408.79 306.02,408.79 306.16,408.89 306.29,408.99 306.43,409.09 306.56,409.19 306.56,409.19 306.70,409.29 306.84,409.38 306.97,409.48 307.11,409.58 307.11,409.58 307.24,409.68 307.38,409.78 307.52,409.87 307.65,409.97 307.65,409.97 307.79,410.07 307.92,410.17 308.06,410.26 308.20,410.36 308.33,410.46 308.47,410.56 308.60,410.65 308.74,410.75 308.74,410.75 308.88,410.85 309.01,410.95 309.15,411.04 309.28,411.14 309.28,411.14 309.42,411.24 309.56,411.34 309.69,411.43 309.83,411.53 309.83,411.53 309.96,411.63 310.10,411.72 310.24,411.82 310.37,411.92 310.51,412.01 310.64,412.11 310.78,412.21 310.92,412.30 310.92,412.30 311.05,412.40 311.19,412.49 311.32,412.59 311.46,412.69 311.46,412.69 311.60,412.78 311.73,412.88 311.87,412.98 312.00,413.07 312.00,413.07 312.14,413.17 312.27,413.26 312.41,413.36 312.55,413.45 312.68,413.55 312.82,413.64 312.95,413.74 313.09,413.83 313.09,413.83 313.23,413.93 313.36,414.02 313.50,414.12 313.63,414.21 313.63,414.21 313.77,414.31 313.91,414.40 314.04,414.50 314.18,414.59 314.18,414.59 314.31,414.69 314.45,414.78 314.59,414.88 314.72,414.97 314.86,415.07 314.99,415.16 315.13,415.25 315.27,415.35 315.27,415.35 315.40,415.44 315.54,415.53 315.67,415.63 315.81,415.72 315.81,415.72 315.95,415.81 316.08,415.91 316.22,416.00 316.35,416.09 316.35,416.09 316.49,416.19 316.63,416.28 316.76,416.37 316.90,416.47 317.03,416.56 317.17,416.65 317.31,416.74 317.44,416.84 317.44,416.84 317.58,416.93 317.71,417.02 317.85,417.11 317.99,417.20 317.99,417.20 318.12,417.30 318.26,417.39 318.39,417.48 318.53,417.57 318.53,417.57 318.67,417.66 318.80,417.75 318.94,417.85 319.07,417.94 319.21,418.03 319.35,418.12 319.48,418.21 319.62,418.30 319.62,418.30 319.75,418.39 319.89,418.48 320.03,418.57 320.16,418.66 320.16,418.66 320.30,418.75 320.43,418.84 320.57,418.93 320.71,419.02 320.71,419.02 320.84,419.11 320.98,419.20 321.11,419.29 321.25,419.38 321.25,419.38 321.38,419.47 321.52,419.56 321.66,419.65 321.79,419.74 321.93,419.83 322.06,419.92 322.20,420.00 322.34,420.09 322.34,420.09 322.47,420.18 322.61,420.27 322.74,420.36 322.88,420.45 322.88,420.45 323.02,420.53 323.15,420.62 323.29,420.71 323.42,420.80 323.42,420.80 323.56,420.89 323.70,420.97 323.83,421.06 323.97,421.15 324.10,421.23 324.24,421.32 324.38,421.41 324.51,421.50 324.51,421.50 324.65,421.58 324.78,421.67 324.92,421.75 325.06,421.84 325.06,421.84 325.19,421.93 325.33,422.01 325.46,422.10 325.60,422.18 325.60,422.18 325.74,422.27 325.87,422.36 326.01,422.44 326.14,422.53 326.28,422.61 326.42,422.70 326.55,422.78 326.69,422.87 326.69,422.87 326.82,422.95 326.96,423.04 327.10,423.12 327.23,423.20 327.23,423.20 327.37,423.29 327.50,423.37 327.64,423.46 327.78,423.54 327.78,423.54 327.91,423.62 328.05,423.71 328.18,423.79 328.32,423.87 328.46,423.96 328.59,424.04 328.73,424.12 328.86,424.21 328.86,424.21 329.00,424.29 329.14,424.37 329.27,424.45 329.41,424.54 329.41,424.54 329.54,424.62 329.68,424.70 329.81,424.78 329.95,424.87 329.95,424.87 330.09,424.95 330.22,425.03 330.36,425.11 330.49,425.19 330.63,425.27 330.77,425.35 330.90,425.43 331.04,425.51 331.04,425.51 331.17,425.60 331.31,425.68 331.45,425.76 331.58,425.84 331.58,425.84 331.72,425.92 331.85,426.00 331.99,426.08 332.13,426.16 332.13,426.16 332.26,426.24 332.40,426.32 332.53,426.40 332.67,426.47 332.81,426.55 332.94,426.63 333.08,426.71 333.21,426.79 333.21,426.79 333.35,426.87 333.49,426.95 333.62,427.03 333.76,427.10 333.76,427.10 333.89,427.18 334.03,427.26 334.17,427.34 334.30,427.42 334.30,427.42 334.44,427.49 334.57,427.57 334.71,427.65 334.85,427.72 334.98,427.80 335.12,427.88 335.25,427.96 335.39,428.03 335.53,428.11 335.66,428.18 335.80,428.26 335.93,428.34 335.93,428.34 336.07,428.41 336.21,428.49 336.34,428.56 336.48,428.64 336.48,428.64 336.61,428.72 336.75,428.79 336.89,428.87 337.02,428.94 337.02,428.94 337.16,429.02 337.29,429.09 337.43,429.17 337.57,429.24 337.70,429.31 337.84,429.39 337.97,429.46 338.11,429.54 338.11,429.54 338.24,429.61 338.38,429.68 338.52,429.76 338.65,429.83 338.65,429.83 338.79,429.91 338.92,429.98 339.06,430.05 339.20,430.12 339.20,430.12 339.33,430.20 339.47,430.27 339.60,430.34 339.74,430.42 339.88,430.49 340.01,430.56 340.15,430.63 340.28,430.70 340.28,430.70 340.42,430.78 340.56,430.85 340.69,430.92 340.83,430.99 340.83,430.99 340.96,431.06 341.10,431.13 341.24,431.20 341.37,431.27 341.37,431.27 341.51,431.35 341.64,431.42 341.78,431.49 341.92,431.56 342.05,431.63 342.19,431.70 342.32,431.77 342.46,431.84 342.46,431.84 342.60,431.91 342.73,431.98 342.87,432.05 343.00,432.12 343.00,432.12 343.14,432.18 343.28,432.25 343.41,432.32 343.55,432.39 343.55,432.39 343.68,432.46 343.82,432.53 343.96,432.60 344.09,432.67 344.23,432.73 344.36,432.80 344.50,432.87 344.64,432.94 344.64,432.94 344.77,433.01 344.91,433.07 345.04,433.14 345.18,433.21 345.18,433.21 345.32,433.27 345.45,433.34 345.59,433.41 345.72,433.48 345.72,433.48 345.86,433.54 346.00,433.61 346.13,433.67 346.27,433.74 346.40,433.81 346.54,433.87 346.68,433.94 346.81,434.00 346.81,434.00 346.95,434.07 347.08,434.14 347.22,434.20 347.35,434.27 347.35,434.27 347.49,434.33 347.63,434.40 347.76,434.46 347.90,434.53 347.90,434.53 348.03,434.59 348.17,434.66 348.31,434.72 348.44,434.78 348.58,434.85 348.71,434.91 348.85,434.98 348.99,435.04 349.12,435.10 349.26,435.17 349.39,435.23 349.53,435.29 349.53,435.29 349.67,435.36 349.80,435.42 349.94,435.48 350.07,435.55 350.07,435.55 350.21,435.61 350.35,435.67 350.48,435.73 350.62,435.80 350.62,435.80 350.75,435.86 350.89,435.92 351.03,435.98 351.16,436.04 351.30,436.11 351.43,436.17 351.57,436.23 351.71,436.29 351.71,436.29 351.84,436.35 351.98,436.41 352.11,436.47 352.25,436.53 352.25,436.53 352.39,436.60 352.52,436.66 352.66,436.72 352.79,436.78 352.79,436.78 352.93,436.84 353.07,436.90 353.20,436.96 353.34,437.02 353.88,437.26 354.43,437.49 354.97,437.73 355.51,437.96 356.06,438.19 356.60,438.42 357.14,438.65 357.69,438.87 358.23,439.10 358.78,439.32 359.32,439.54 359.86,439.76 360.41,439.97 360.95,440.19 361.50,440.40 362.04,440.61 362.58,440.82 363.13,441.03 363.67,441.24 364.22,441.44 364.76,441.65 365.30,441.85 365.85,442.05 366.39,442.25 366.93,442.44 367.48,442.64 368.02,442.83 368.57,443.02 369.11,443.21 369.65,443.40 370.20,443.59 370.74,443.78 371.29,443.96 371.83,444.14 372.37,444.33 372.92,444.51 373.46,444.69 374.00,444.86 374.55,445.04 375.09,445.21 375.64,445.39 376.18,445.56 376.72,445.73 377.27,445.90 377.81,446.07 378.36,446.23 378.90,446.40 379.44,446.56 379.99,446.72 380.53,446.88 381.08,447.04 381.62,447.20 382.16,447.36 382.71,447.52 383.25,447.67 383.79,447.83 384.34,447.98 384.88,448.13 385.43,448.28 385.97,448.43 386.51,448.58 387.06,448.72 387.60,448.87 388.15,449.01 388.69,449.16 389.23,449.30 389.78,449.44 390.32,449.58 390.86,449.72 391.41,449.86 391.95,449.99 392.50,450.13 393.04,450.27 393.58,450.40 394.13,450.53 394.67,450.66 395.22,450.79 395.76,450.92 396.30,451.05 396.85,451.18 397.39,451.31 397.94,451.43 398.48,451.56 399.02,451.68 399.57,451.81 400.11,451.93 400.65,452.05 401.20,452.17 401.74,452.29 402.29,452.41 402.83,452.53 403.37,452.65 403.92,452.76 404.46,452.88 405.01,452.99 405.55,453.10 406.09,453.22 406.64,453.33 407.18,453.44 407.73,453.55 408.27,453.66 408.81,453.77 409.36,453.88 409.90,453.99 410.44,454.09 410.99,454.20 411.53,454.30 412.08,454.41 412.62,454.51 413.16,454.61 413.71,454.72 414.25,454.82 414.80,454.92 415.34,455.02 415.88,455.12 416.43,455.22 416.97,455.31 417.51,455.41 418.06,455.51 418.60,455.60 419.15,455.70 419.69,455.79 420.23,455.89 420.78,455.98 421.32,456.08 421.87,456.17 422.41,456.26 422.95,456.35 423.50,456.44 424.04,456.53 424.59,456.62 425.13,456.71 425.67,456.80 426.22,456.88 426.76,456.97 427.30,457.06 427.85,457.14 428.39,457.23 428.94,457.31 429.48,457.39 430.02,457.48 430.57,457.56 431.11,457.64 431.66,457.73 432.20,457.81 432.74,457.89 433.29,457.97 433.83,458.05 434.37,458.13 434.92,458.21 435.46,458.28 436.01,458.36 436.55,458.44 437.09,458.52 437.64,458.59 438.18,458.67 438.73,458.74 439.27,458.82 439.81,458.89 440.36,458.97 440.90,459.04 441.45,459.11 441.99,459.18 442.53,459.26 443.08,459.33 443.62,459.40 444.16,459.47 444.71,459.54 445.25,459.61 445.80,459.68 446.34,459.75 446.88,459.82 447.43,459.89 447.97,459.95 448.52,460.02 449.06,460.09 449.60,460.15 450.15,460.22 450.69,460.29 451.24,460.35 451.78,460.42 452.32,460.48 452.87,460.55 453.41,460.61 453.95,460.67 454.50,460.74 455.04,460.80 455.59,460.86 456.13,460.92 456.67,460.99 457.22,461.05 457.76,461.11 458.31,461.17 458.85,461.23 459.39,461.29 459.94,461.35 460.48,461.41 461.02,461.47 461.57,461.52 462.11,461.58 462.66,461.64 463.20,461.70 463.74,461.76 464.29,461.81 464.83,461.87 465.38,461.93 465.92,461.98 466.46,462.04 467.01,462.09 467.55,462.15 468.10,462.20 468.64,462.26 469.18,462.31 469.73,462.36 470.27,462.42 470.81,462.47 471.36,462.52 471.90,462.58 472.45,462.63 472.99,462.68 473.53,462.73 474.08,462.79 474.62,462.84 475.17,462.89 475.71,462.94 476.25,462.99 476.80,463.04 477.34,463.09 477.88,463.14 478.43,463.19 478.97,463.24 479.52,463.29 480.06,463.33 480.60,463.38 481.15,463.43 481.69,463.48 482.24,463.53 482.78,463.57 483.32,463.62 483.87,463.67 484.41,463.71 484.96,463.76 485.50,463.81 486.04,463.85 486.59,463.90 487.13,463.94 487.67,463.99 488.22,464.03 488.76,464.08 489.31,464.12 489.85,464.17 490.39,464.21 490.94,464.26 491.48,464.30 492.03,464.34 492.57,464.39 493.11,464.43 493.66,464.47 494.20,464.52 494.75,464.56 495.29,464.60 495.83,464.64 496.38,464.68 496.92,464.72 497.46,464.77 498.01,464.81 498.55,464.85 499.10,464.89 499.64,464.93 500.18,464.97 500.73,465.01 501.27,465.05 501.82,465.09 502.36,465.13 502.90,465.17 503.45,465.21 503.99,465.25 504.53,465.29 505.08,465.32 505.62,465.36 506.17,465.40 506.71,465.44 507.25,465.48 507.80,465.52 508.34,465.55 508.89,465.59 509.43,465.63 509.97,465.66 510.52,465.70 511.06,465.74 511.61,465.77 512.15,465.81 512.69,465.85 513.24,465.88 513.78,465.92 514.32,465.95 514.87,465.99 515.41,466.03 515.96,466.06 516.50,466.10"/>
</g>
<path d="M164.62,227.0 v-13 M164.62,16.8 v13 M300.00,16.8 v13 M435.38,227.0 v-13 M435.38,16.8 v13 M83.4,16.80 h13 M516.6,16.80 h-13 M83.4,121.90 h13 M516.6,121.90 h-13 M83.4,227.00 h13 M516.6,227.00 h-13" fill="none" stroke="#505050" stroke-width="2.0"/>
<path d="M162.98,481.0 v-13 M162.98,287.6 v13 M298.95,481.0 v-13 M298.95,287.6 v13 M434.92,481.0 v-13 M434.92,287.6 v13 M81.4,326.28 h13 M516.5,326.28 h-13 M81.4,403.64 h13 M516.5,403.64 h-13 M81.4,481.00 h13 M516.5,481.00 h-13" fill="none" stroke="#505050" stroke-width="2.0"/>
<text transform="translate(56.67,26.29) scale(0.9300,1)" style="font-family:'Liberation Sans',Arial,sans-serif;font-size:27.00px;letter-spacing:0.70px" fill="#1a1a1a">0</text>
<text transform="translate(47.08,130.66) scale(0.9300,1)" style="font-family:'Liberation Sans',Arial,sans-serif;font-size:27.00px;letter-spacing:0.70px" fill="#1a1a1a"><tspan dy="1.2">-</tspan><tspan dy="-1.2">5</tspan></text>
<text transform="translate(31.19,235.44) scale(0.9300,1)" style="font-family:'Liberation Sans',Arial,sans-serif;font-size:27.00px;letter-spacing:0.70px" fill="#1a1a1a"><tspan dy="1.2">-</tspan><tspan dy="-1.2">10</tspan></text>
<text transform="translate(143.39,263.69) scale(0.9300,1)" style="font-family:'Liberation Sans',Arial,sans-serif;font-size:27.00px;letter-spacing:0.70px" fill="#1a1a1a"><tspan dy="1.2">-</tspan><tspan dy="-1.2">10</tspan></text>
<text transform="translate(292.42,263.69) scale(0.9300,1)" style="font-family:'Liberation Sans',Arial,sans-serif;font-size:27.00px;letter-spacing:0.70px" fill="#1a1a1a">0</text>
<text transform="translate(417.89,264.04) scale(0.9300,1)" style="font-family:'Liberation Sans',Arial,sans-serif;font-size:27.00px;letter-spacing:0.70px" fill="#1a1a1a">10</text>
<text transform="translate(55.42,334.59) scale(0.9300,1)" style="font-family:'Liberation Sans',Arial,sans-serif;font-size:27.00px;letter-spacing:0.70px" fill="#1a1a1a">0</text>
<text transform="translate(45.38,412.74) scale(0.9300,1)" style="font-family:'Liberation Sans',Arial,sans-serif;font-size:27.00px;letter-spacing:0.70px" fill="#1a1a1a"><tspan dy="1.2">-</tspan><tspan dy="-1.2">1</tspan></text>
<text transform="translate(45.88,490.58) scale(0.9300,1)" style="font-family:'Liberation Sans',Arial,sans-serif;font-size:27.00px;letter-spacing:0.70px" fill="#1a1a1a"><tspan dy="1.2">-</tspan><tspan dy="-1.2">2</tspan></text>
<text transform="translate(142.04,517.24) scale(0.9300,1)" style="font-family:'Liberation Sans',Arial,sans-serif;font-size:27.00px;letter-spacing:0.70px" fill="#1a1a1a"><tspan dy="1.2">-</tspan><tspan dy="-1.2">10</tspan></text>
<text transform="translate(291.57,517.54) scale(0.9300,1)" style="font-family:'Liberation Sans',Arial,sans-serif;font-size:27.00px;letter-spacing:0.70px" fill="#1a1a1a">0</text>
<text transform="translate(417.54,517.44) scale(0.9300,1)" style="font-family:'Liberation Sans',Arial,sans-serif;font-size:27.00px;letter-spacing:0.70px" fill="#1a1a1a">10</text>
<text transform="translate(5.54,20.94) scale(0.8152,1)" style="font-family:'Liberation Sans',Arial,sans-serif;font-size:26.83px" fill="#1a1a1a">(</text>
<text transform="translate(14.88,20.95) scale(0.8279,1)" style="font-family:'Liberation Sans',Arial,sans-serif;font-size:26.10px" fill="#1a1a1a">a</text>
<text transform="translate(29.87,20.94) scale(0.8152,1)" style="font-family:'Liberation Sans',Arial,sans-serif;font-size:26.83px" fill="#1a1a1a">)</text>
<text transform="translate(0.14,324.34) scale(0.8152,1)" style="font-family:'Liberation Sans',Arial,sans-serif;font-size:26.83px" fill="#1a1a1a">(</text>
<text transform="translate(9.27,323.95) scale(0.9245,1)" style="font-family:'Liberation Sans',Arial,sans-serif;font-size:25.74px" fill="#1a1a1a">b</text>
<text transform="translate(26.37,324.34) scale(0.8152,1)" style="font-family:'Liberation Sans',Arial,sans-serif;font-size:26.83px" fill="#1a1a1a">)</text>
<text transform="translate(23.24,231.30) rotate(-90) scale(0.8800,1)" style="font-family:'Liberation Serif','Times New Roman',serif;font-size:25.10px;letter-spacing:2.03px" fill="#111" stroke="#111" stroke-width="0.35">Transmission (dB)</text>
<text transform="translate(23.09,457.66) rotate(-90) scale(0.8800,1)" style="font-family:'Liberation Serif','Times New Roman',serif;font-size:25.10px;letter-spacing:2.95px" fill="#111" stroke="#111" stroke-width="0.4">phase(π)</text>
<g stroke="#111" stroke-width="0.1">
<text transform="translate(218.32,557.56) scale(1.2090,1)" style="font-family:'Liberation Serif','Times New Roman',serif;font-size:24.15px" fill="#111">(</text>
<text transform="translate(227.63,558.48) scale(1.3049,1)" style="font-family:'Liberation Serif','Times New Roman',serif;font-size:22.99px" fill="#111">ω</text>
<text transform="translate(275.77,558.48) scale(1.2599,1)" style="font-family:'Liberation Serif','Times New Roman',serif;font-size:22.99px" fill="#111">ω</text>
<text transform="translate(306.52,557.25) scale(1.0181,1)" style="font-family:'Liberation Serif','Times New Roman',serif;font-size:23.71px" fill="#111">)</text>
<text transform="translate(316.45,557.91) scale(0.8175,1)" style="font-family:'Liberation Serif','Times New Roman',serif;font-size:25.24px" fill="#111">Q</text>
<text transform="translate(344.40,562.18) scale(1.2314,1)" style="font-family:'Liberation Serif','Times New Roman',serif;font-size:32.74px" fill="#111">/</text>
<text transform="translate(357.00,558.58) scale(1.2450,1)" style="font-family:'Liberation Serif','Times New Roman',serif;font-size:22.57px" fill="#111">ω</text>
<text transform="translate(252.16,559.67) scale(1.2894,1)" style="font-family:'Liberation Serif','Times New Roman',serif;font-size:24.00px" fill="#111">−</text>
<text transform="translate(294.11,563.14) scale(1.1145,1)" style="font-family:'Liberation Serif','Times New Roman',serif;font-size:16.30px" fill="#111">0</text>
<text transform="translate(331.87,563.14) scale(1.0132,1)" style="font-family:'Liberation Serif','Times New Roman',serif;font-size:16.30px" fill="#111">0</text>
<text transform="translate(374.91,563.14) scale(1.1145,1)" style="font-family:'Liberation Serif','Times New Roman',serif;font-size:16.30px" fill="#111">0</text>
</g>
<text transform="translate(121.72,115.07)" style="font-family:'Liberation Serif','Times New Roman',serif;font-weight:bold;font-size:20.50px;letter-spacing:0.61px" fill="#000">0.1</text>
<text transform="translate(121.22,145.47)" style="font-family:'Liberation Serif','Times New Roman',serif;font-weight:bold;font-size:20.50px;letter-spacing:1.75px" fill="#000">0.5</text>
<text transform="translate(121.14,175.07)" style="font-family:'Liberation Serif','Times New Roman',serif;font-weight:bold;font-size:20.50px;letter-spacing:1.81px" fill="#000">2.0</text>
<text transform="translate(115.56,206.97)" style="font-family:'Liberation Serif','Times New Roman',serif;font-weight:bold;font-size:20.50px;letter-spacing:1.32px" fill="#000">10.0</text>
<text transform="translate(108.22,75.06) scale(0.9157,1)" style="font-family:'Liberation Serif','Times New Roman',serif;font-weight:bold;font-size:21.84px" fill="#000">Q</text>
<text transform="translate(125.81,82.69) scale(1.1641,1)" style="font-family:'Liberation Serif','Times New Roman',serif;font-weight:bold;font-size:12.28px" fill="#000">c</text>
<text transform="translate(133.00,76.07) scale(0.9320,1)" style="font-family:'Liberation Serif','Times New Roman',serif;font-size:23.17px" fill="#000">/</text>
<text transform="translate(139.78,75.06) scale(0.9558,1)" style="font-family:'Liberation Serif','Times New Roman',serif;font-weight:bold;font-size:21.84px" fill="#000">Q</text>
<text transform="translate(157.99,83.28) scale(1.1204,1)" style="font-family:'Liberation Serif','Times New Roman',serif;font-weight:bold;font-size:12.00px" fill="#000">0</text>
<rect x="168.5" y="105.30" width="32.10" height="4.6" fill="#0000FF"/>
<rect x="168.5" y="137.90" width="32.10" height="4.2" fill="#00A050"/>
<rect x="167.5" y="167.80" width="32.00" height="4.2" fill="#FFC000"/>
<rect x="167" y="198.50" width="32.70" height="4.2" fill="#FF0000"/>
<circle cx="414.4" cy="100.9" r="48" fill="none" stroke="#C60000" stroke-width="7.2"/>
<rect x="341" y="156.5" width="145" height="8" fill="#C60000"/>
<rect x="401.3" y="135.8" width="28.6" height="38.9" rx="5" fill="none" stroke="#404040" stroke-width="1.8" stroke-dasharray="4.5 2.5"/>
<path d="M345,173 H366.7" stroke="#606060" stroke-width="2"/>
<path d="M364.2,167.2 L376.7,173 L364.2,178.8 Z" fill="#606060"/>
<path d="M452,173 H473.3" stroke="#606060" stroke-width="2"/>
<path d="M470.8,167.2 L483.3,173 L470.8,178.8 Z" fill="#606060"/>
<text transform="translate(379.25,109.65) scale(1.0186,1)" style="font-family:'Liberation Serif','Times New Roman',serif;font-weight:bold;font-style:italic;font-size:25.70px" fill="#000">ω</text>
<text transform="translate(398.37,115.12) scale(1.0485,1)" style="font-family:'Liberation Serif','Times New Roman',serif;font-weight:bold;font-size:18.23px" fill="#000">0</text>
<text transform="translate(409.51,110.22) scale(1.0531,1)" style="font-family:'Liberation Serif','Times New Roman',serif;font-weight:bold;font-size:20.55px" fill="#000">,</text>
<text transform="translate(419.13,109.57) scale(0.9900,1)" style="font-family:'Liberation Serif','Times New Roman',serif;font-weight:bold;font-style:italic;font-size:24.27px" fill="#000">Q</text>
<text transform="translate(437.37,114.83) scale(1.1214,1)" style="font-family:'Liberation Serif','Times New Roman',serif;font-weight:bold;font-size:17.04px" fill="#000">0</text>
<text transform="translate(344.50,201.28) scale(1.2216,1)" style="font-family:'Liberation Serif','Times New Roman',serif;font-weight:bold;font-style:italic;font-size:22.77px" fill="#000">S</text>
<text transform="translate(359.04,206.90) scale(1.2548,1)" style="font-family:'Liberation Serif','Times New Roman',serif;font-weight:bold;font-style:italic;font-size:17.73px" fill="#000">in</text>
<text transform="translate(405.76,199.05) scale(0.9718,1)" style="font-family:'Liberation Serif','Times New Roman',serif;font-weight:bold;font-style:italic;font-size:23.78px" fill="#000">Q</text>
<text transform="translate(423.66,203.04)" style="font-family:'Liberation Serif','Times New Roman',serif;font-weight:bold;font-style:italic;font-size:16.63px" fill="#000">c</text>
<text transform="translate(451.83,200.56) scale(1.0801,1)" style="font-family:'Liberation Serif','Times New Roman',serif;font-weight:bold;font-style:italic;font-size:24.26px" fill="#000">S</text>
<text transform="translate(465.87,205.78) scale(1.0968,1)" style="font-family:'Liberation Serif','Times New Roman',serif;font-weight:bold;font-style:italic;font-size:19.14px" fill="#000">out</text>
</svg>
</body></html>
